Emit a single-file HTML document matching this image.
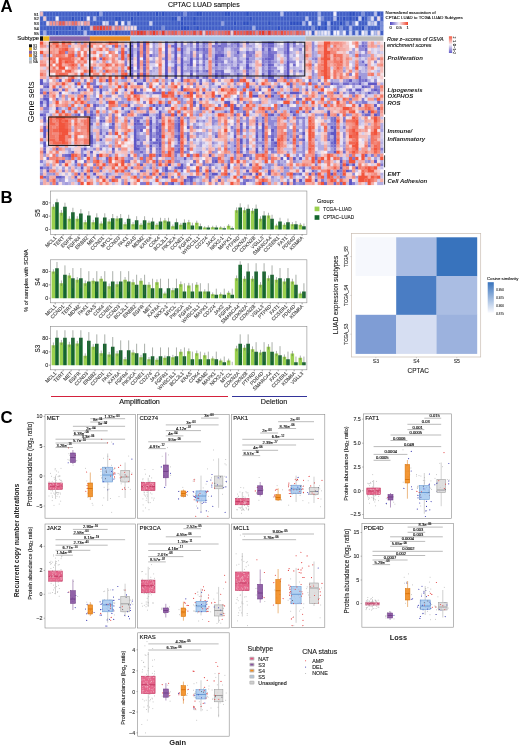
<!DOCTYPE html>
<html><head><meta charset="utf-8"><title>Figure</title>
<style>html,body{margin:0;padding:0;background:#fff}svg{display:block}text{font-family:"Liberation Sans",Arial,sans-serif}</style></head>
<body>
<svg width="520" height="746" viewBox="0 0 520 746">
<rect width="520" height="746" fill="#fff"/>
<text x="0.4" y="12.2" font-size="16.8" font-weight="bold" fill="#000">A</text>
<text x="203.8" y="6.7" font-size="7.0" text-anchor="middle" fill="#111" stroke="#111" stroke-width="0.12">CPTAC LUAD samples</text>
<g transform="translate(40.00 11.60) scale(3.1209 4.7400)">
<path fill="#2e4ec0" stroke="#6f8ad8" stroke-width="0.35" vector-effect="non-scaling-stroke" d="M18 0h1v1h-1zM31 0h1v1h-1zM37 0h1v1h-1zM39 0h1v1h-1zM50 0h1v1h-1zM51 0h1v1h-1zM59 0h1v1h-1zM60 0h1v1h-1zM66 0h1v1h-1zM82 0h1v1h-1zM99 0h1v1h-1zM100 0h1v1h-1zM108 0h1v1h-1zM10 1h1v1h-1zM13 1h1v1h-1zM24 1h1v1h-1zM25 1h1v1h-1zM29 1h1v1h-1zM42 1h1v1h-1zM43 1h1v1h-1zM45 1h1v1h-1zM49 1h1v1h-1zM67 1h1v1h-1zM95 1h1v1h-1zM97 1h1v1h-1zM99 1h1v1h-1zM101 1h1v1h-1zM103 1h1v1h-1zM25 2h1v1h-1zM45 2h1v1h-1zM49 2h1v1h-1zM62 2h1v1h-1zM65 2h1v1h-1zM66 2h1v1h-1zM73 2h1v1h-1zM80 2h1v1h-1zM81 2h1v1h-1zM82 2h1v1h-1zM83 2h1v1h-1zM91 2h1v1h-1zM93 2h1v1h-1zM96 2h1v1h-1zM9 3h1v1h-1zM13 3h1v1h-1zM45 3h1v1h-1zM46 3h1v1h-1zM47 3h1v1h-1zM50 3h1v1h-1zM76 3h1v1h-1zM89 3h1v1h-1zM91 3h1v1h-1zM103 3h1v1h-1zM5 4h1v1h-1zM17 4h1v1h-1zM22 4h1v1h-1zM24 4h1v1h-1z"/>
<path fill="#425ec6" stroke="#6f8ad8" stroke-width="0.35" vector-effect="non-scaling-stroke" d="M1 0h1v1h-1zM2 0h1v1h-1zM3 0h1v1h-1zM4 0h1v1h-1zM5 0h1v1h-1zM6 0h1v1h-1zM7 0h1v1h-1zM8 0h1v1h-1zM9 0h1v1h-1zM10 0h1v1h-1zM11 0h1v1h-1zM12 0h1v1h-1zM13 0h1v1h-1zM14 0h1v1h-1zM15 0h1v1h-1zM16 0h1v1h-1zM17 0h1v1h-1zM20 0h1v1h-1zM21 0h1v1h-1zM22 0h1v1h-1zM23 0h1v1h-1zM24 0h1v1h-1zM25 0h1v1h-1zM26 0h1v1h-1zM27 0h1v1h-1zM28 0h1v1h-1zM29 0h1v1h-1zM30 0h1v1h-1zM32 0h1v1h-1zM33 0h1v1h-1zM34 0h1v1h-1zM35 0h1v1h-1zM36 0h1v1h-1zM38 0h1v1h-1zM40 0h1v1h-1zM41 0h1v1h-1zM42 0h1v1h-1zM43 0h1v1h-1zM44 0h1v1h-1zM45 0h1v1h-1zM47 0h1v1h-1zM48 0h1v1h-1zM49 0h1v1h-1zM52 0h1v1h-1zM53 0h1v1h-1zM54 0h1v1h-1zM55 0h1v1h-1zM56 0h1v1h-1zM57 0h1v1h-1zM58 0h1v1h-1zM61 0h1v1h-1zM62 0h1v1h-1zM63 0h1v1h-1zM64 0h1v1h-1zM65 0h1v1h-1zM67 0h1v1h-1zM68 0h1v1h-1zM69 0h1v1h-1zM70 0h1v1h-1zM71 0h1v1h-1zM72 0h1v1h-1zM73 0h1v1h-1zM74 0h1v1h-1zM75 0h1v1h-1zM76 0h1v1h-1zM78 0h1v1h-1zM79 0h1v1h-1zM80 0h1v1h-1zM81 0h1v1h-1zM83 0h1v1h-1zM84 0h1v1h-1zM85 0h1v1h-1zM86 0h1v1h-1zM87 0h1v1h-1zM88 0h1v1h-1zM90 0h1v1h-1zM91 0h1v1h-1zM92 0h1v1h-1zM93 0h1v1h-1zM95 0h1v1h-1zM96 0h1v1h-1zM97 0h1v1h-1zM98 0h1v1h-1zM101 0h1v1h-1zM102 0h1v1h-1zM104 0h1v1h-1zM105 0h1v1h-1zM106 0h1v1h-1zM109 0h1v1h-1zM0 1h1v1h-1zM2 1h1v1h-1zM3 1h1v1h-1zM4 1h1v1h-1zM6 1h1v1h-1zM7 1h1v1h-1zM8 1h1v1h-1zM9 1h1v1h-1zM11 1h1v1h-1zM12 1h1v1h-1zM14 1h1v1h-1zM16 1h1v1h-1zM18 1h1v1h-1zM19 1h1v1h-1zM20 1h1v1h-1zM21 1h1v1h-1zM22 1h1v1h-1zM23 1h1v1h-1zM26 1h1v1h-1zM27 1h1v1h-1zM28 1h1v1h-1zM30 1h1v1h-1zM31 1h1v1h-1zM32 1h1v1h-1zM33 1h1v1h-1zM34 1h1v1h-1zM35 1h1v1h-1zM36 1h1v1h-1zM37 1h1v1h-1zM38 1h1v1h-1zM39 1h1v1h-1zM40 1h1v1h-1zM41 1h1v1h-1zM46 1h1v1h-1zM47 1h1v1h-1zM48 1h1v1h-1zM50 1h1v1h-1zM51 1h1v1h-1zM52 1h1v1h-1zM53 1h1v1h-1zM54 1h1v1h-1zM55 1h1v1h-1zM56 1h1v1h-1zM57 1h1v1h-1zM58 1h1v1h-1zM59 1h1v1h-1zM60 1h1v1h-1zM61 1h1v1h-1zM62 1h1v1h-1zM63 1h1v1h-1zM64 1h1v1h-1zM65 1h1v1h-1zM66 1h1v1h-1zM68 1h1v1h-1zM69 1h1v1h-1zM70 1h1v1h-1zM71 1h1v1h-1zM72 1h1v1h-1zM73 1h1v1h-1zM74 1h1v1h-1zM75 1h1v1h-1zM76 1h1v1h-1zM77 1h1v1h-1zM78 1h1v1h-1zM79 1h1v1h-1zM80 1h1v1h-1zM81 1h1v1h-1zM82 1h1v1h-1zM83 1h1v1h-1zM84 1h1v1h-1zM86 1h1v1h-1zM87 1h1v1h-1zM88 1h1v1h-1zM91 1h1v1h-1zM92 1h1v1h-1zM93 1h1v1h-1zM96 1h1v1h-1zM98 1h1v1h-1zM100 1h1v1h-1zM104 1h1v1h-1zM107 1h1v1h-1zM109 1h1v1h-1zM0 2h1v1h-1zM1 2h1v1h-1zM16 2h1v1h-1zM17 2h1v1h-1zM18 2h1v1h-1zM19 2h1v1h-1zM22 2h1v1h-1zM23 2h1v1h-1zM27 2h1v1h-1zM29 2h1v1h-1zM30 2h1v1h-1zM31 2h1v1h-1zM32 2h1v1h-1zM33 2h1v1h-1zM34 2h1v1h-1zM36 2h1v1h-1zM37 2h1v1h-1zM38 2h1v1h-1zM39 2h1v1h-1zM40 2h1v1h-1zM41 2h1v1h-1zM42 2h1v1h-1zM43 2h1v1h-1zM44 2h1v1h-1zM46 2h1v1h-1zM47 2h1v1h-1zM48 2h1v1h-1zM50 2h1v1h-1zM51 2h1v1h-1zM52 2h1v1h-1zM53 2h1v1h-1zM54 2h1v1h-1zM55 2h1v1h-1zM56 2h1v1h-1zM57 2h1v1h-1zM59 2h1v1h-1zM60 2h1v1h-1zM61 2h1v1h-1zM63 2h1v1h-1zM64 2h1v1h-1zM67 2h1v1h-1zM68 2h1v1h-1zM69 2h1v1h-1zM70 2h1v1h-1zM71 2h1v1h-1zM72 2h1v1h-1zM74 2h1v1h-1zM75 2h1v1h-1zM76 2h1v1h-1zM77 2h1v1h-1zM78 2h1v1h-1zM79 2h1v1h-1zM85 2h1v1h-1zM87 2h1v1h-1zM88 2h1v1h-1zM90 2h1v1h-1zM94 2h1v1h-1zM95 2h1v1h-1zM97 2h1v1h-1zM99 2h1v1h-1zM102 2h1v1h-1zM103 2h1v1h-1zM104 2h1v1h-1zM108 2h1v1h-1zM0 3h1v1h-1zM1 3h1v1h-1zM2 3h1v1h-1zM3 3h1v1h-1zM4 3h1v1h-1zM5 3h1v1h-1zM6 3h1v1h-1zM7 3h1v1h-1zM8 3h1v1h-1zM10 3h1v1h-1zM11 3h1v1h-1zM14 3h1v1h-1zM15 3h1v1h-1zM31 3h1v1h-1zM32 3h1v1h-1zM33 3h1v1h-1zM34 3h1v1h-1zM35 3h1v1h-1zM36 3h1v1h-1zM37 3h1v1h-1zM38 3h1v1h-1zM40 3h1v1h-1zM41 3h1v1h-1zM42 3h1v1h-1zM43 3h1v1h-1zM44 3h1v1h-1zM48 3h1v1h-1zM49 3h1v1h-1zM51 3h1v1h-1zM52 3h1v1h-1zM53 3h1v1h-1zM54 3h1v1h-1zM55 3h1v1h-1zM56 3h1v1h-1zM57 3h1v1h-1zM58 3h1v1h-1zM59 3h1v1h-1zM60 3h1v1h-1zM61 3h1v1h-1zM62 3h1v1h-1zM63 3h1v1h-1zM64 3h1v1h-1zM65 3h1v1h-1zM66 3h1v1h-1zM67 3h1v1h-1zM69 3h1v1h-1zM70 3h1v1h-1zM71 3h1v1h-1zM72 3h1v1h-1zM73 3h1v1h-1zM74 3h1v1h-1zM75 3h1v1h-1zM77 3h1v1h-1zM78 3h1v1h-1zM79 3h1v1h-1zM80 3h1v1h-1zM81 3h1v1h-1zM82 3h1v1h-1zM83 3h1v1h-1zM84 3h1v1h-1zM85 3h1v1h-1zM86 3h1v1h-1zM88 3h1v1h-1zM90 3h1v1h-1zM93 3h1v1h-1zM94 3h1v1h-1zM95 3h1v1h-1zM97 3h1v1h-1zM98 3h1v1h-1zM100 3h1v1h-1zM101 3h1v1h-1zM102 3h1v1h-1zM105 3h1v1h-1zM106 3h1v1h-1zM107 3h1v1h-1zM108 3h1v1h-1zM0 4h1v1h-1zM2 4h1v1h-1zM3 4h1v1h-1zM4 4h1v1h-1zM6 4h1v1h-1zM7 4h1v1h-1zM8 4h1v1h-1zM9 4h1v1h-1zM10 4h1v1h-1zM11 4h1v1h-1zM12 4h1v1h-1zM13 4h1v1h-1zM15 4h1v1h-1zM16 4h1v1h-1zM18 4h1v1h-1zM19 4h1v1h-1zM20 4h1v1h-1zM21 4h1v1h-1zM23 4h1v1h-1zM25 4h1v1h-1zM26 4h1v1h-1zM27 4h1v1h-1zM28 4h1v1h-1zM87 4h1v1h-1zM93 4h1v1h-1zM98 4h1v1h-1zM100 4h1v1h-1zM102 4h1v1h-1zM105 4h1v1h-1zM109 4h1v1h-1z"/>
<path fill="#7d8fd7" stroke="#6f8ad8" stroke-width="0.35" vector-effect="non-scaling-stroke" d="M46 0h1v1h-1zM103 0h1v1h-1zM90 1h1v1h-1zM105 1h1v1h-1zM98 2h1v1h-1zM100 2h1v1h-1zM109 2h1v1h-1zM12 3h1v1h-1zM39 3h1v1h-1zM87 3h1v1h-1zM96 3h1v1h-1zM104 3h1v1h-1zM109 3h1v1h-1z"/>
<path fill="#919fdd" stroke="#6f8ad8" stroke-width="0.35" vector-effect="non-scaling-stroke" d="M19 0h1v1h-1zM44 1h1v1h-1zM58 2h1v1h-1zM92 3h1v1h-1zM96 4h1v1h-1z"/>
<path fill="#a5afe3" stroke="#6f8ad8" stroke-width="0.35" vector-effect="non-scaling-stroke" d="M89 0h1v1h-1zM84 2h1v1h-1zM68 3h1v1h-1zM1 4h1v1h-1z"/>
<path fill="#b9bfe9" stroke="#6f8ad8" stroke-width="0.35" vector-effect="non-scaling-stroke" d="M77 0h1v1h-1zM107 0h1v1h-1zM17 1h1v1h-1zM85 1h1v1h-1zM94 1h1v1h-1zM28 2h1v1h-1zM92 2h1v1h-1zM106 2h1v1h-1zM99 3h1v1h-1zM14 4h1v1h-1zM107 4h1v1h-1z"/>
<path fill="#ccd0ee" stroke="#6f8ad8" stroke-width="0.35" vector-effect="non-scaling-stroke" d="M89 1h1v1h-1zM102 1h1v1h-1zM21 2h1v1h-1zM35 2h1v1h-1zM89 2h1v1h-1zM105 2h1v1h-1zM89 4h1v1h-1zM99 4h1v1h-1zM101 4h1v1h-1zM104 4h1v1h-1z"/>
<path fill="#e0e0f4" stroke="#6f8ad8" stroke-width="0.35" vector-effect="non-scaling-stroke" d="M106 1h1v1h-1zM20 2h1v1h-1zM86 2h1v1h-1zM107 2h1v1h-1zM85 4h1v1h-1zM90 4h1v1h-1zM92 4h1v1h-1z"/>
<path fill="#f4f0fa" stroke="#6f8ad8" stroke-width="0.35" vector-effect="non-scaling-stroke" d="M94 0h1v1h-1zM5 1h1v1h-1zM15 1h1v1h-1zM26 2h1v1h-1zM101 2h1v1h-1zM91 4h1v1h-1zM94 4h1v1h-1zM95 4h1v1h-1zM97 4h1v1h-1zM103 4h1v1h-1zM106 4h1v1h-1z"/>
<path fill="#f3dee5" stroke="#6f8ad8" stroke-width="0.35" vector-effect="non-scaling-stroke" d="M108 1h1v1h-1zM2 2h1v1h-1zM24 2h1v1h-1zM29 3h1v1h-1zM30 3h1v1h-1zM86 4h1v1h-1zM88 4h1v1h-1zM108 4h1v1h-1z"/>
<path fill="#f2cbcf" stroke="#6f8ad8" stroke-width="0.35" vector-effect="non-scaling-stroke" d="M1 1h1v1h-1zM13 2h1v1h-1zM27 3h1v1h-1zM52 4h1v1h-1zM61 4h1v1h-1z"/>
<path fill="#f2b9ba" stroke="#6f8ad8" stroke-width="0.35" vector-effect="non-scaling-stroke" d="M0 0h1v1h-1zM16 3h1v1h-1zM23 3h1v1h-1zM28 3h1v1h-1z"/>
<path fill="#f1a6a4" stroke="#6f8ad8" stroke-width="0.35" vector-effect="non-scaling-stroke" d="M12 2h1v1h-1zM15 2h1v1h-1zM26 3h1v1h-1z"/>
<path fill="#f0948f" stroke="#6f8ad8" stroke-width="0.35" vector-effect="non-scaling-stroke" d="M3 2h1v1h-1zM4 2h1v1h-1zM5 2h1v1h-1zM8 2h1v1h-1zM9 2h1v1h-1zM14 2h1v1h-1z"/>
<path fill="#ef827a" stroke="#6f8ad8" stroke-width="0.35" vector-effect="non-scaling-stroke" d="M24 3h1v1h-1zM25 3h1v1h-1zM34 4h1v1h-1zM38 4h1v1h-1zM40 4h1v1h-1zM44 4h1v1h-1zM50 4h1v1h-1zM56 4h1v1h-1zM69 4h1v1h-1zM81 4h1v1h-1z"/>
<path fill="#ee6f64" stroke="#6f8ad8" stroke-width="0.35" vector-effect="non-scaling-stroke" d="M10 2h1v1h-1zM11 2h1v1h-1zM41 4h1v1h-1zM47 4h1v1h-1zM48 4h1v1h-1zM55 4h1v1h-1zM57 4h1v1h-1zM58 4h1v1h-1zM72 4h1v1h-1zM74 4h1v1h-1zM76 4h1v1h-1zM79 4h1v1h-1zM80 4h1v1h-1zM83 4h1v1h-1zM84 4h1v1h-1z"/>
<path fill="#ee5d4f" stroke="#6f8ad8" stroke-width="0.35" vector-effect="non-scaling-stroke" d="M6 2h1v1h-1zM7 2h1v1h-1zM21 3h1v1h-1zM22 3h1v1h-1zM29 4h1v1h-1zM30 4h1v1h-1zM35 4h1v1h-1zM37 4h1v1h-1zM42 4h1v1h-1zM43 4h1v1h-1zM45 4h1v1h-1zM46 4h1v1h-1zM53 4h1v1h-1zM54 4h1v1h-1zM59 4h1v1h-1zM63 4h1v1h-1zM64 4h1v1h-1zM65 4h1v1h-1zM68 4h1v1h-1zM75 4h1v1h-1zM78 4h1v1h-1zM82 4h1v1h-1z"/>
<path fill="#ed4a39" stroke="#6f8ad8" stroke-width="0.35" vector-effect="non-scaling-stroke" d="M17 3h1v1h-1zM18 3h1v1h-1zM20 3h1v1h-1zM33 4h1v1h-1zM49 4h1v1h-1zM51 4h1v1h-1zM60 4h1v1h-1zM62 4h1v1h-1zM66 4h1v1h-1zM67 4h1v1h-1zM70 4h1v1h-1zM77 4h1v1h-1z"/>
<path fill="#ec3824" stroke="#6f8ad8" stroke-width="0.35" vector-effect="non-scaling-stroke" d="M19 3h1v1h-1zM31 4h1v1h-1zM32 4h1v1h-1zM36 4h1v1h-1zM39 4h1v1h-1zM71 4h1v1h-1zM73 4h1v1h-1z"/>
</g>
<text x="38.8" y="15.6" font-size="4.2" text-anchor="end" fill="#111" stroke="#111" stroke-width="0.12">S1</text>
<text x="38.8" y="20.3" font-size="4.2" text-anchor="end" fill="#111" stroke="#111" stroke-width="0.12">S2</text>
<text x="38.8" y="25.1" font-size="4.2" text-anchor="end" fill="#111" stroke="#111" stroke-width="0.12">S3</text>
<text x="38.8" y="29.8" font-size="4.2" text-anchor="end" fill="#111" stroke="#111" stroke-width="0.12">S4</text>
<text x="38.8" y="34.6" font-size="4.2" text-anchor="end" fill="#111" stroke="#111" stroke-width="0.12">S5</text>
<rect x="40.00" y="36.3" width="3.12" height="4.50" fill="#111111"/>
<rect x="43.12" y="36.3" width="6.24" height="4.50" fill="#e9b420"/>
<rect x="49.36" y="36.3" width="40.57" height="4.50" fill="#8664a8"/>
<rect x="89.93" y="36.3" width="40.57" height="4.50" fill="#e68a22"/>
<rect x="130.51" y="36.3" width="174.77" height="4.50" fill="#a9c8ea"/>
<rect x="305.28" y="36.3" width="78.02" height="4.50" fill="#b8b8b8"/>
<text x="39.2" y="40.3" font-size="6" text-anchor="end" fill="#111" stroke="#111" stroke-width="0.12">Subtype</text>
<rect x="29" y="44.3" width="3" height="3.2" fill="#111111"/>
<text x="33.0" y="47.1" font-size="3.5" fill="#333" stroke="#333" stroke-width="0.12">S1</text>
<rect x="29" y="47.5" width="3" height="3.2" fill="#e9b420"/>
<text x="33.0" y="50.3" font-size="3.5" fill="#333" stroke="#333" stroke-width="0.12">S2</text>
<rect x="29" y="50.7" width="3" height="3.2" fill="#8664a8"/>
<text x="33.0" y="53.5" font-size="3.5" fill="#333" stroke="#333" stroke-width="0.12">S3</text>
<rect x="29" y="53.9" width="3" height="3.2" fill="#e68a22"/>
<text x="33.0" y="56.7" font-size="3.5" fill="#333" stroke="#333" stroke-width="0.12">S4</text>
<rect x="29" y="57.1" width="3" height="3.2" fill="#a9c8ea"/>
<text x="33.0" y="59.9" font-size="3.5" fill="#333" stroke="#333" stroke-width="0.12">S5</text>
<rect x="29" y="60.3" width="3" height="3.2" fill="#b8b8b8"/>
<text x="33.0" y="63.1" font-size="3.5" fill="#333" stroke="#333" stroke-width="0.12">NA</text>
<g transform="translate(40.00 41.60) scale(3.1209 3.1174)">
<path fill="#5f57c6" stroke="#5f57c6" stroke-width="0.06" d="M31 0h1v1h-1zM33 0h1v1h-1zM40 0h1v1h-1zM43 0h1v1h-1zM50 0h1v1h-1zM56 0h1v1h-1zM73 0h2v1h-2zM79 0h1v1h-1zM29 1h1v1h-1zM31 1h1v1h-1zM33 1h1v1h-1zM40 1h1v1h-1zM43 1h1v1h-1zM79 1h1v1h-1zM33 2h1v1h-1zM40 2h1v1h-1zM43 2h1v1h-1zM45 2h1v1h-1zM50 2h1v1h-1zM73 2h1v1h-1zM79 2h1v1h-1zM31 3h1v1h-1zM40 3h1v1h-1zM43 3h1v1h-1zM45 3h1v1h-1zM63 3h1v1h-1zM79 3h1v1h-1zM29 4h1v1h-1zM31 4h1v1h-1zM33 4h1v1h-1zM40 4h1v1h-1zM43 4h1v1h-1zM56 4h1v1h-1zM58 4h1v1h-1zM31 5h1v1h-1zM33 5h1v1h-1zM40 5h1v1h-1zM43 5h1v1h-1zM45 5h1v1h-1zM48 5h1v1h-1zM56 5h1v1h-1zM66 5h1v1h-1zM73 5h1v1h-1zM31 6h1v1h-1zM40 6h1v1h-1zM45 6h1v1h-1zM48 6h1v1h-1zM79 6h1v1h-1zM31 7h1v1h-1zM33 7h1v1h-1zM40 7h1v1h-1zM43 7h1v1h-1zM45 7h1v1h-1zM48 7h1v1h-1zM56 7h1v1h-1zM66 7h1v1h-1zM73 7h1v1h-1zM79 7h1v1h-1zM29 8h1v1h-1zM31 8h1v1h-1zM40 8h1v1h-1zM43 8h1v1h-1zM45 8h1v1h-1zM66 8h1v1h-1zM79 8h1v1h-1zM40 9h1v1h-1zM43 9h1v1h-1zM45 9h1v1h-1zM73 9h1v1h-1zM79 9h1v1h-1zM29 10h1v1h-1zM31 10h1v1h-1zM33 10h1v1h-1zM40 10h1v1h-1zM43 10h1v1h-1zM45 10h1v1h-1zM48 10h1v1h-1zM56 10h1v1h-1zM66 10h1v1h-1zM73 10h1v1h-1zM79 10h1v1h-1zM27 11h1v1h-1zM31 11h1v1h-1zM40 11h1v1h-1zM43 11h1v1h-1zM45 11h1v1h-1zM50 11h1v1h-1zM56 11h1v1h-1zM73 11h2v1h-2zM79 11h1v1h-1zM0 12h1v1h-1zM6 12h1v1h-1zM10 12h1v1h-1zM21 12h1v1h-1zM33 12h1v1h-1zM45 12h1v1h-1zM68 12h1v1h-1zM75 12h1v1h-1zM99 12h1v1h-1zM0 13h1v1h-1zM11 13h1v1h-1zM28 13h1v1h-1zM31 13h2v1h-2zM51 13h1v1h-1zM93 13h1v1h-1zM102 13h1v1h-1zM105 13h3v1h-3zM2 14h1v1h-1zM13 14h1v1h-1zM18 14h1v1h-1zM45 14h1v1h-1zM73 14h1v1h-1zM76 14h1v1h-1zM103 14h1v1h-1zM4 15h1v1h-1zM12 15h1v1h-1zM19 15h1v1h-1zM27 15h1v1h-1zM30 15h1v1h-1zM45 15h1v1h-1zM68 15h1v1h-1zM70 15h1v1h-1zM74 15h1v1h-1zM101 15h2v1h-2zM107 15h1v1h-1zM2 16h1v1h-1zM6 16h1v1h-1zM19 16h1v1h-1zM30 16h1v1h-1zM47 16h1v1h-1zM52 16h1v1h-1zM80 16h3v1h-3zM95 16h1v1h-1zM105 16h1v1h-1zM14 17h1v1h-1zM44 17h1v1h-1zM57 17h1v1h-1zM68 17h2v1h-2zM72 17h1v1h-1zM74 17h1v1h-1zM1 18h2v1h-2zM18 18h1v1h-1zM51 18h1v1h-1zM63 18h1v1h-1zM77 18h1v1h-1zM82 18h1v1h-1zM0 19h1v1h-1zM2 19h1v1h-1zM49 19h1v1h-1zM59 19h2v1h-2zM2 20h1v1h-1zM17 20h1v1h-1zM28 20h1v1h-1zM36 20h1v1h-1zM40 20h1v1h-1zM51 20h1v1h-1zM60 20h1v1h-1zM77 20h1v1h-1zM102 20h1v1h-1zM107 20h1v1h-1zM5 21h1v1h-1zM30 21h1v1h-1zM37 21h1v1h-1zM51 21h1v1h-1zM62 21h2v1h-2zM108 21h1v1h-1zM14 22h1v1h-1zM28 22h1v1h-1zM38 22h1v1h-1zM55 22h1v1h-1zM80 22h1v1h-1zM92 22h1v1h-1zM103 22h1v1h-1zM105 22h1v1h-1zM0 23h1v1h-1zM12 23h1v1h-1zM14 23h1v1h-1zM16 23h1v1h-1zM33 23h2v1h-2zM38 23h1v1h-1zM43 23h1v1h-1zM65 23h1v1h-1zM74 23h1v1h-1zM81 23h1v1h-1zM92 23h1v1h-1zM107 23h1v1h-1zM1 24h1v1h-1zM38 24h1v1h-1zM44 24h1v1h-1zM1 25h1v1h-1zM19 25h1v1h-1zM31 25h1v1h-1zM35 25h1v1h-1zM23 26h1v1h-1zM30 26h1v1h-1zM35 26h1v1h-1zM44 26h1v1h-1zM64 26h1v1h-1zM69 26h1v1h-1zM71 26h1v1h-1zM1 27h1v1h-1zM37 27h1v1h-1zM44 27h1v1h-1zM47 27h1v1h-1zM71 27h1v1h-1zM93 27h1v1h-1zM1 28h1v1h-1zM30 28h1v1h-1zM32 28h1v1h-1zM35 28h1v1h-1zM38 28h1v1h-1zM44 28h1v1h-1zM71 28h1v1h-1zM74 28h1v1h-1zM94 28h1v1h-1zM1 29h1v1h-1zM30 29h1v1h-1zM84 29h1v1h-1zM93 29h2v1h-2zM1 30h1v1h-1zM16 30h1v1h-1zM30 30h1v1h-1zM38 30h1v1h-1zM44 30h1v1h-1zM62 30h1v1h-1zM69 30h1v1h-1zM71 30h1v1h-1zM94 30h1v1h-1zM16 31h1v1h-1zM19 31h1v1h-1zM30 31h1v1h-1zM35 31h1v1h-1zM37 31h1v1h-1zM44 31h1v1h-1zM64 31h1v1h-1zM74 31h1v1h-1zM84 31h1v1h-1zM94 31h1v1h-1zM1 32h1v1h-1zM16 32h1v1h-1zM30 32h1v1h-1zM38 32h1v1h-1zM64 32h1v1h-1zM75 32h1v1h-1zM94 32h1v1h-1zM1 33h1v1h-1zM30 33h1v1h-1zM35 33h1v1h-1zM38 33h1v1h-1zM71 33h1v1h-1zM14 34h1v1h-1zM23 34h1v1h-1zM30 34h2v1h-2zM66 34h1v1h-1zM69 34h1v1h-1zM1 35h1v1h-1zM16 35h1v1h-1zM69 35h1v1h-1zM94 35h1v1h-1zM9 36h1v1h-1zM14 36h1v1h-1zM18 36h1v1h-1zM38 36h1v1h-1zM54 36h1v1h-1zM65 36h1v1h-1zM46 37h1v1h-1zM77 37h1v1h-1zM79 37h1v1h-1zM81 37h1v1h-1zM83 37h1v1h-1zM7 38h1v1h-1zM11 38h1v1h-1zM56 38h1v1h-1zM96 38h1v1h-1zM107 38h1v1h-1zM32 39h1v1h-1zM41 39h1v1h-1zM45 39h1v1h-1zM60 39h1v1h-1zM67 39h1v1h-1zM98 39h1v1h-1zM100 39h1v1h-1zM0 40h1v1h-1zM13 40h1v1h-1zM40 40h1v1h-1zM44 40h2v1h-2zM60 40h1v1h-1zM96 40h1v1h-1zM101 40h1v1h-1zM2 41h1v1h-1zM16 41h1v1h-1zM32 41h1v1h-1zM40 41h1v1h-1zM54 41h1v1h-1zM66 41h1v1h-1zM73 41h1v1h-1zM84 41h1v1h-1zM95 41h1v1h-1zM98 41h1v1h-1zM12 42h1v1h-1zM14 42h1v1h-1zM17 42h1v1h-1zM38 42h1v1h-1zM55 42h2v1h-2zM67 42h1v1h-1zM69 42h1v1h-1zM73 42h1v1h-1zM86 42h1v1h-1zM93 42h1v1h-1zM5 43h2v1h-2zM11 43h1v1h-1zM40 43h1v1h-1zM47 43h2v1h-2zM64 43h1v1h-1zM46 44h1v1h-1zM48 44h1v1h-1zM57 44h1v1h-1zM81 44h1v1h-1zM83 44h1v1h-1zM88 44h1v1h-1zM99 44h1v1h-1zM28 45h1v1h-1zM42 45h1v1h-1zM71 45h1v1h-1zM79 45h1v1h-1zM99 45h1v1h-1z"/>
<path fill="#7068cb" stroke="#7068cb" stroke-width="0.06" d="M45 0h1v1h-1zM52 0h1v1h-1zM63 0h1v1h-1zM66 0h1v1h-1zM81 0h1v1h-1zM27 1h1v1h-1zM42 1h1v1h-1zM45 1h1v1h-1zM50 1h1v1h-1zM57 1h1v1h-1zM63 1h1v1h-1zM73 1h2v1h-2zM103 1h1v1h-1zM29 2h1v1h-1zM52 2h1v1h-1zM71 2h1v1h-1zM104 2h1v1h-1zM29 3h1v1h-1zM33 3h1v1h-1zM66 3h1v1h-1zM73 3h1v1h-1zM35 4h1v1h-1zM45 4h1v1h-1zM52 4h1v1h-1zM57 4h1v1h-1zM73 4h2v1h-2zM79 4h1v1h-1zM19 5h1v1h-1zM29 5h1v1h-1zM50 5h1v1h-1zM52 5h1v1h-1zM72 5h1v1h-1zM74 5h1v1h-1zM79 5h1v1h-1zM33 6h1v1h-1zM43 6h1v1h-1zM56 6h1v1h-1zM66 6h1v1h-1zM73 6h1v1h-1zM103 6h1v1h-1zM29 7h1v1h-1zM50 7h1v1h-1zM52 7h1v1h-1zM71 7h1v1h-1zM74 7h1v1h-1zM81 7h1v1h-1zM104 7h1v1h-1zM33 8h1v1h-1zM63 8h1v1h-1zM73 8h1v1h-1zM29 9h1v1h-1zM33 9h1v1h-1zM48 9h1v1h-1zM50 9h1v1h-1zM53 9h1v1h-1zM56 9h1v1h-1zM58 9h1v1h-1zM66 9h1v1h-1zM58 10h1v1h-1zM63 10h1v1h-1zM71 10h1v1h-1zM29 11h1v1h-1zM33 11h1v1h-1zM53 11h1v1h-1zM58 11h1v1h-1zM102 11h1v1h-1zM30 12h1v1h-1zM42 12h1v1h-1zM51 12h1v1h-1zM63 12h1v1h-1zM86 12h1v1h-1zM102 12h1v1h-1zM104 12h1v1h-1zM80 13h1v1h-1zM97 13h2v1h-2zM1 14h1v1h-1zM17 14h1v1h-1zM57 14h1v1h-1zM80 14h1v1h-1zM104 14h1v1h-1zM5 15h1v1h-1zM7 15h1v1h-1zM14 15h1v1h-1zM32 15h1v1h-1zM85 15h1v1h-1zM99 15h1v1h-1zM0 16h1v1h-1zM24 16h1v1h-1zM31 16h1v1h-1zM36 16h3v1h-3zM49 16h1v1h-1zM75 16h1v1h-1zM89 16h1v1h-1zM100 16h1v1h-1zM1 17h1v1h-1zM5 18h1v1h-1zM83 18h1v1h-1zM95 18h1v1h-1zM108 19h1v1h-1zM38 20h1v1h-1zM62 20h1v1h-1zM26 21h1v1h-1zM87 21h1v1h-1zM16 22h1v1h-1zM59 22h1v1h-1zM65 22h1v1h-1zM72 22h1v1h-1zM75 22h1v1h-1zM84 22h1v1h-1zM86 22h1v1h-1zM1 23h1v1h-1zM26 23h1v1h-1zM45 23h1v1h-1zM62 23h1v1h-1zM73 23h1v1h-1zM95 23h1v1h-1zM104 23h2v1h-2zM16 24h1v1h-1zM30 24h1v1h-1zM37 24h1v1h-1zM71 24h1v1h-1zM94 24h1v1h-1zM20 25h1v1h-1zM30 25h1v1h-1zM44 25h1v1h-1zM69 25h1v1h-1zM94 25h1v1h-1zM16 26h1v1h-1zM31 26h2v1h-2zM38 26h1v1h-1zM22 27h2v1h-2zM30 27h1v1h-1zM35 27h1v1h-1zM38 27h1v1h-1zM64 27h1v1h-1zM66 27h1v1h-1zM69 27h1v1h-1zM94 27h1v1h-1zM64 28h1v1h-1zM19 29h1v1h-1zM21 29h1v1h-1zM35 29h1v1h-1zM37 29h2v1h-2zM69 29h1v1h-1zM71 29h1v1h-1zM35 30h1v1h-1zM43 30h1v1h-1zM47 30h1v1h-1zM56 30h1v1h-1zM74 30h1v1h-1zM82 30h1v1h-1zM31 31h1v1h-1zM38 31h1v1h-1zM47 31h1v1h-1zM69 31h1v1h-1zM71 31h1v1h-1zM92 31h1v1h-1zM36 32h2v1h-2zM44 32h1v1h-1zM93 32h1v1h-1zM31 33h1v1h-1zM62 33h1v1h-1zM75 33h1v1h-1zM82 33h1v1h-1zM94 33h1v1h-1zM1 34h1v1h-1zM5 34h1v1h-1zM35 34h1v1h-1zM38 34h1v1h-1zM44 34h1v1h-1zM47 34h1v1h-1zM74 34h1v1h-1zM10 35h1v1h-1zM32 35h1v1h-1zM43 35h2v1h-2zM62 35h1v1h-1zM64 35h1v1h-1zM97 35h1v1h-1zM8 36h1v1h-1zM28 36h1v1h-1zM104 36h1v1h-1zM2 37h1v1h-1zM21 37h1v1h-1zM67 37h1v1h-1zM88 37h1v1h-1zM14 38h1v1h-1zM28 38h1v1h-1zM37 38h1v1h-1zM49 38h1v1h-1zM55 38h1v1h-1zM48 39h1v1h-1zM54 39h1v1h-1zM2 40h1v1h-1zM29 40h1v1h-1zM43 40h1v1h-1zM84 40h1v1h-1zM45 41h1v1h-1zM87 41h1v1h-1zM35 42h1v1h-1zM52 42h1v1h-1zM60 42h1v1h-1zM81 42h1v1h-1zM83 42h1v1h-1zM88 42h1v1h-1zM1 43h1v1h-1zM18 43h1v1h-1zM21 43h1v1h-1zM24 43h2v1h-2zM39 43h1v1h-1zM49 43h1v1h-1zM54 43h1v1h-1zM96 43h1v1h-1zM54 44h1v1h-1zM66 44h1v1h-1zM39 45h1v1h-1zM65 45h1v1h-1zM77 45h1v1h-1zM81 45h1v1h-1zM91 45h1v1h-1zM94 45h1v1h-1zM96 45h1v1h-1z"/>
<path fill="#8179d1" stroke="#8179d1" stroke-width="0.06" d="M29 0h1v1h-1zM48 0h1v1h-1zM53 0h1v1h-1zM58 0h2v1h-2zM62 0h1v1h-1zM71 0h2v1h-2zM103 0h1v1h-1zM23 1h1v1h-1zM52 1h1v1h-1zM55 1h2v1h-2zM58 1h2v1h-2zM71 1h1v1h-1zM81 1h1v1h-1zM104 1h1v1h-1zM31 2h1v1h-1zM53 2h1v1h-1zM56 2h1v1h-1zM58 2h1v1h-1zM83 2h1v1h-1zM27 3h1v1h-1zM48 3h1v1h-1zM52 3h2v1h-2zM57 3h1v1h-1zM68 3h1v1h-1zM74 3h2v1h-2zM78 3h1v1h-1zM48 4h1v1h-1zM50 4h1v1h-1zM66 4h2v1h-2zM102 4h1v1h-1zM53 5h1v1h-1zM71 5h1v1h-1zM88 5h1v1h-1zM27 6h1v1h-1zM52 6h1v1h-1zM58 6h1v1h-1zM71 6h1v1h-1zM27 7h1v1h-1zM47 7h1v1h-1zM63 7h1v1h-1zM67 8h1v1h-1zM31 9h1v1h-1zM52 9h1v1h-1zM57 9h1v1h-1zM74 9h1v1h-1zM83 9h1v1h-1zM99 10h1v1h-1zM48 11h1v1h-1zM52 11h1v1h-1zM63 11h1v1h-1zM78 11h1v1h-1zM80 11h1v1h-1zM14 12h1v1h-1zM17 12h1v1h-1zM54 12h1v1h-1zM62 12h1v1h-1zM74 12h1v1h-1zM89 12h1v1h-1zM103 12h1v1h-1zM2 13h1v1h-1zM16 13h2v1h-2zM40 13h1v1h-1zM49 13h1v1h-1zM55 13h1v1h-1zM90 13h1v1h-1zM94 13h2v1h-2zM100 13h1v1h-1zM6 14h1v1h-1zM63 14h1v1h-1zM70 14h1v1h-1zM77 14h1v1h-1zM91 14h1v1h-1zM105 14h1v1h-1zM107 14h1v1h-1zM0 15h1v1h-1zM38 15h1v1h-1zM67 15h1v1h-1zM106 15h1v1h-1zM108 15h1v1h-1zM10 16h1v1h-1zM32 16h1v1h-1zM40 16h1v1h-1zM65 16h1v1h-1zM71 16h1v1h-1zM94 16h1v1h-1zM99 16h1v1h-1zM108 16h1v1h-1zM2 17h1v1h-1zM91 17h1v1h-1zM100 17h1v1h-1zM55 18h1v1h-1zM76 18h1v1h-1zM99 18h1v1h-1zM103 18h1v1h-1zM21 19h1v1h-1zM33 19h1v1h-1zM65 19h1v1h-1zM70 19h1v1h-1zM81 19h1v1h-1zM85 19h1v1h-1zM103 19h2v1h-2zM0 20h1v1h-1zM14 20h1v1h-1zM18 20h1v1h-1zM41 20h1v1h-1zM49 20h1v1h-1zM57 20h1v1h-1zM79 20h1v1h-1zM1 21h2v1h-2zM17 21h1v1h-1zM21 21h1v1h-1zM52 21h1v1h-1zM34 22h1v1h-1zM43 22h1v1h-1zM81 22h1v1h-1zM108 22h1v1h-1zM11 23h1v1h-1zM17 23h1v1h-1zM23 23h1v1h-1zM37 23h1v1h-1zM41 23h1v1h-1zM76 23h1v1h-1zM108 23h1v1h-1zM23 24h1v1h-1zM31 24h2v1h-2zM35 24h1v1h-1zM47 24h1v1h-1zM55 24h1v1h-1zM69 24h1v1h-1zM82 24h1v1h-1zM84 24h1v1h-1zM93 24h1v1h-1zM97 24h1v1h-1zM23 25h1v1h-1zM28 25h1v1h-1zM37 25h1v1h-1zM50 25h1v1h-1zM71 25h1v1h-1zM93 25h1v1h-1zM97 25h1v1h-1zM37 26h1v1h-1zM43 26h1v1h-1zM94 26h1v1h-1zM31 27h3v1h-3zM43 27h1v1h-1zM50 27h1v1h-1zM61 27h1v1h-1zM75 27h1v1h-1zM97 27h1v1h-1zM19 28h1v1h-1zM23 28h1v1h-1zM37 28h1v1h-1zM62 28h1v1h-1zM69 28h1v1h-1zM82 28h1v1h-1zM44 29h1v1h-1zM47 29h1v1h-1zM62 29h1v1h-1zM64 29h1v1h-1zM74 29h1v1h-1zM92 29h1v1h-1zM37 30h1v1h-1zM92 30h1v1h-1zM66 31h1v1h-1zM79 31h1v1h-1zM83 31h1v1h-1zM32 32h1v1h-1zM35 32h1v1h-1zM60 32h1v1h-1zM66 32h1v1h-1zM69 32h1v1h-1zM74 32h1v1h-1zM16 33h1v1h-1zM32 33h1v1h-1zM43 33h2v1h-2zM64 33h1v1h-1zM74 33h1v1h-1zM93 33h1v1h-1zM105 33h1v1h-1zM19 34h1v1h-1zM37 34h1v1h-1zM64 34h1v1h-1zM71 34h1v1h-1zM73 34h1v1h-1zM94 34h1v1h-1zM109 34h1v1h-1zM23 35h1v1h-1zM35 35h1v1h-1zM38 35h1v1h-1zM46 35h1v1h-1zM74 35h1v1h-1zM7 36h1v1h-1zM33 36h1v1h-1zM37 36h1v1h-1zM43 36h1v1h-1zM48 36h1v1h-1zM66 36h1v1h-1zM84 36h1v1h-1zM88 36h1v1h-1zM106 36h1v1h-1zM9 37h1v1h-1zM18 37h1v1h-1zM33 37h1v1h-1zM55 37h2v1h-2zM96 37h1v1h-1zM100 37h1v1h-1zM0 38h1v1h-1zM6 38h1v1h-1zM21 38h1v1h-1zM27 38h1v1h-1zM33 38h1v1h-1zM52 38h1v1h-1zM60 38h1v1h-1zM11 39h1v1h-1zM13 39h1v1h-1zM17 39h1v1h-1zM37 39h1v1h-1zM52 39h1v1h-1zM64 39h1v1h-1zM76 39h1v1h-1zM88 39h1v1h-1zM96 39h1v1h-1zM109 39h1v1h-1zM35 40h1v1h-1zM51 40h1v1h-1zM54 40h1v1h-1zM65 40h1v1h-1zM78 40h1v1h-1zM7 41h1v1h-1zM19 41h1v1h-1zM28 41h1v1h-1zM33 41h1v1h-1zM96 41h1v1h-1zM99 41h1v1h-1zM21 42h1v1h-1zM77 42h1v1h-1zM7 43h1v1h-1zM37 43h1v1h-1zM42 43h1v1h-1zM47 44h1v1h-1zM65 44h1v1h-1zM90 44h1v1h-1zM5 45h1v1h-1zM32 45h2v1h-2zM41 45h1v1h-1zM46 45h1v1h-1zM48 45h1v1h-1zM84 45h1v1h-1zM100 45h1v1h-1z"/>
<path fill="#928ad7" stroke="#928ad7" stroke-width="0.06" d="M36 0h1v1h-1zM61 0h1v1h-1zM78 0h1v1h-1zM87 0h1v1h-1zM104 0h1v1h-1zM48 1h1v1h-1zM61 1h1v1h-1zM72 1h1v1h-1zM78 1h1v1h-1zM87 1h1v1h-1zM102 1h1v1h-1zM51 2h1v1h-1zM57 2h1v1h-1zM62 2h2v1h-2zM78 2h1v1h-1zM87 2h1v1h-1zM102 2h2v1h-2zM8 3h1v1h-1zM25 3h1v1h-1zM50 3h1v1h-1zM56 3h1v1h-1zM58 3h1v1h-1zM67 3h1v1h-1zM71 3h1v1h-1zM104 3h1v1h-1zM36 4h1v1h-1zM62 4h2v1h-2zM71 4h2v1h-2zM27 5h1v1h-1zM57 5h1v1h-1zM63 5h1v1h-1zM87 5h1v1h-1zM108 5h1v1h-1zM29 6h1v1h-1zM50 6h1v1h-1zM57 6h1v1h-1zM61 6h1v1h-1zM63 6h2v1h-2zM67 6h1v1h-1zM72 6h1v1h-1zM74 6h1v1h-1zM80 6h2v1h-2zM107 6h1v1h-1zM58 7h1v1h-1zM78 7h1v1h-1zM87 7h1v1h-1zM42 8h1v1h-1zM48 8h1v1h-1zM50 8h1v1h-1zM52 8h1v1h-1zM56 8h1v1h-1zM61 8h2v1h-2zM71 8h1v1h-1zM74 8h2v1h-2zM20 9h1v1h-1zM27 9h1v1h-1zM62 9h1v1h-1zM71 9h1v1h-1zM76 9h1v1h-1zM78 9h1v1h-1zM81 9h1v1h-1zM87 9h1v1h-1zM50 10h1v1h-1zM57 10h1v1h-1zM59 10h2v1h-2zM74 10h1v1h-1zM78 10h1v1h-1zM87 10h1v1h-1zM66 11h2v1h-2zM71 11h1v1h-1zM81 11h1v1h-1zM12 12h1v1h-1zM98 12h1v1h-1zM107 12h1v1h-1zM1 13h1v1h-1zM34 13h1v1h-1zM38 13h1v1h-1zM47 13h1v1h-1zM62 13h1v1h-1zM69 13h1v1h-1zM85 13h1v1h-1zM87 13h2v1h-2zM101 13h1v1h-1zM49 14h1v1h-1zM65 14h1v1h-1zM67 14h1v1h-1zM92 14h1v1h-1zM95 14h2v1h-2zM108 14h1v1h-1zM13 15h1v1h-1zM17 15h1v1h-1zM21 15h1v1h-1zM54 15h1v1h-1zM87 15h1v1h-1zM95 15h1v1h-1zM12 16h1v1h-1zM34 16h1v1h-1zM74 16h1v1h-1zM78 16h1v1h-1zM83 16h1v1h-1zM90 16h1v1h-1zM97 16h1v1h-1zM102 16h1v1h-1zM106 16h1v1h-1zM6 17h1v1h-1zM21 17h2v1h-2zM56 17h1v1h-1zM63 17h1v1h-1zM76 17h1v1h-1zM82 17h1v1h-1zM104 17h1v1h-1zM14 18h1v1h-1zM45 18h1v1h-1zM78 18h1v1h-1zM107 18h1v1h-1zM25 19h2v1h-2zM28 19h1v1h-1zM40 19h1v1h-1zM45 19h1v1h-1zM63 19h1v1h-1zM98 19h1v1h-1zM101 19h1v1h-1zM35 20h1v1h-1zM37 20h1v1h-1zM29 21h1v1h-1zM34 21h1v1h-1zM74 21h1v1h-1zM80 21h3v1h-3zM89 21h1v1h-1zM1 22h2v1h-2zM27 22h1v1h-1zM51 22h1v1h-1zM63 22h1v1h-1zM68 22h1v1h-1zM19 23h1v1h-1zM21 23h1v1h-1zM27 23h1v1h-1zM32 23h1v1h-1zM40 23h1v1h-1zM50 23h1v1h-1zM82 23h1v1h-1zM88 23h1v1h-1zM90 23h1v1h-1zM98 23h1v1h-1zM103 23h1v1h-1zM17 24h1v1h-1zM19 24h2v1h-2zM64 24h1v1h-1zM66 24h1v1h-1zM73 24h1v1h-1zM79 24h1v1h-1zM83 24h1v1h-1zM16 25h1v1h-1zM43 25h1v1h-1zM47 25h1v1h-1zM52 25h1v1h-1zM55 25h2v1h-2zM66 25h1v1h-1zM73 25h3v1h-3zM82 25h1v1h-1zM84 25h1v1h-1zM19 26h1v1h-1zM47 26h1v1h-1zM55 26h1v1h-1zM62 26h1v1h-1zM66 26h1v1h-1zM73 26h2v1h-2zM82 26h1v1h-1zM84 26h1v1h-1zM92 26h2v1h-2zM74 27h1v1h-1zM84 27h1v1h-1zM31 28h1v1h-1zM43 28h1v1h-1zM75 28h1v1h-1zM84 28h1v1h-1zM16 29h1v1h-1zM23 29h1v1h-1zM50 29h1v1h-1zM56 29h1v1h-1zM75 29h1v1h-1zM79 29h1v1h-1zM97 29h1v1h-1zM20 30h1v1h-1zM31 30h1v1h-1zM36 30h1v1h-1zM73 30h1v1h-1zM75 30h1v1h-1zM80 30h1v1h-1zM84 30h1v1h-1zM97 30h1v1h-1zM33 31h1v1h-1zM62 31h1v1h-1zM93 31h1v1h-1zM55 32h1v1h-1zM62 32h1v1h-1zM70 32h2v1h-2zM84 32h1v1h-1zM97 32h1v1h-1zM105 32h1v1h-1zM20 33h1v1h-1zM37 33h1v1h-1zM46 33h2v1h-2zM66 33h1v1h-1zM69 33h1v1h-1zM84 33h1v1h-1zM13 34h1v1h-1zM17 34h1v1h-1zM33 34h1v1h-1zM43 34h1v1h-1zM60 34h1v1h-1zM84 34h1v1h-1zM97 34h1v1h-1zM13 35h1v1h-1zM30 35h2v1h-2zM37 35h1v1h-1zM47 35h1v1h-1zM51 35h1v1h-1zM55 35h1v1h-1zM66 35h1v1h-1zM75 35h1v1h-1zM84 35h1v1h-1zM13 36h1v1h-1zM22 36h1v1h-1zM31 36h1v1h-1zM34 36h1v1h-1zM51 36h1v1h-1zM59 36h1v1h-1zM62 36h1v1h-1zM67 36h1v1h-1zM78 36h1v1h-1zM82 36h1v1h-1zM99 36h1v1h-1zM108 36h1v1h-1zM28 37h2v1h-2zM37 37h1v1h-1zM62 37h1v1h-1zM64 37h1v1h-1zM73 37h1v1h-1zM39 38h1v1h-1zM43 38h2v1h-2zM76 38h1v1h-1zM81 38h1v1h-1zM98 38h1v1h-1zM105 38h1v1h-1zM6 39h1v1h-1zM53 39h1v1h-1zM55 39h1v1h-1zM58 39h1v1h-1zM73 39h1v1h-1zM77 39h1v1h-1zM1 40h1v1h-1zM16 40h1v1h-1zM18 40h1v1h-1zM39 40h1v1h-1zM46 40h1v1h-1zM64 40h1v1h-1zM71 40h1v1h-1zM73 40h1v1h-1zM79 40h1v1h-1zM83 40h1v1h-1zM86 40h1v1h-1zM13 41h1v1h-1zM39 41h1v1h-1zM41 41h1v1h-1zM48 41h2v1h-2zM51 41h1v1h-1zM57 41h1v1h-1zM88 41h1v1h-1zM0 42h1v1h-1zM4 42h1v1h-1zM31 42h1v1h-1zM40 42h1v1h-1zM54 42h1v1h-1zM65 42h2v1h-2zM82 42h1v1h-1zM96 42h1v1h-1zM100 42h1v1h-1zM2 43h1v1h-1zM33 43h1v1h-1zM44 43h1v1h-1zM50 43h1v1h-1zM55 43h1v1h-1zM59 43h1v1h-1zM68 43h1v1h-1zM71 43h1v1h-1zM74 43h1v1h-1zM84 43h1v1h-1zM97 43h1v1h-1zM2 44h1v1h-1zM6 44h1v1h-1zM22 44h1v1h-1zM67 44h1v1h-1zM79 44h1v1h-1zM12 45h1v1h-1zM26 45h1v1h-1zM35 45h1v1h-1zM51 45h1v1h-1zM56 45h1v1h-1zM64 45h1v1h-1zM83 45h1v1h-1z"/>
<path fill="#a29cdc" stroke="#a29cdc" stroke-width="0.06" d="M11 0h1v1h-1zM13 0h1v1h-1zM9 1h1v1h-1zM25 1h1v1h-1zM36 1h1v1h-1zM46 1h1v1h-1zM53 1h1v1h-1zM60 1h1v1h-1zM62 1h1v1h-1zM64 1h1v1h-1zM66 1h2v1h-2zM84 1h1v1h-1zM22 2h1v1h-1zM28 2h1v1h-1zM36 2h1v1h-1zM46 2h1v1h-1zM48 2h1v1h-1zM61 2h1v1h-1zM68 2h1v1h-1zM74 2h1v1h-1zM100 2h1v1h-1zM36 3h1v1h-1zM42 3h1v1h-1zM62 3h1v1h-1zM72 3h1v1h-1zM87 3h1v1h-1zM99 3h1v1h-1zM11 4h1v1h-1zM15 4h1v1h-1zM37 4h1v1h-1zM46 4h1v1h-1zM53 4h1v1h-1zM59 4h1v1h-1zM68 4h1v1h-1zM78 4h1v1h-1zM87 4h1v1h-1zM103 4h2v1h-2zM25 5h1v1h-1zM39 5h1v1h-1zM55 5h1v1h-1zM58 5h1v1h-1zM60 5h1v1h-1zM67 5h2v1h-2zM35 6h2v1h-2zM42 6h1v1h-1zM46 6h2v1h-2zM55 6h1v1h-1zM60 6h1v1h-1zM75 6h1v1h-1zM83 6h1v1h-1zM88 6h1v1h-1zM102 6h1v1h-1zM59 7h1v1h-1zM61 7h1v1h-1zM72 7h1v1h-1zM102 7h2v1h-2zM12 8h1v1h-1zM17 8h1v1h-1zM36 8h1v1h-1zM47 8h1v1h-1zM55 8h1v1h-1zM58 8h1v1h-1zM78 8h1v1h-1zM100 8h1v1h-1zM104 8h1v1h-1zM35 9h1v1h-1zM42 9h1v1h-1zM46 9h2v1h-2zM63 9h1v1h-1zM68 9h1v1h-1zM72 9h1v1h-1zM97 9h1v1h-1zM102 9h1v1h-1zM14 10h1v1h-1zM51 10h3v1h-3zM55 10h1v1h-1zM62 10h1v1h-1zM64 10h1v1h-1zM75 10h1v1h-1zM81 10h1v1h-1zM102 10h3v1h-3zM18 11h1v1h-1zM36 11h1v1h-1zM47 11h1v1h-1zM49 11h1v1h-1zM55 11h1v1h-1zM57 11h1v1h-1zM59 11h1v1h-1zM61 11h1v1h-1zM68 11h1v1h-1zM72 11h1v1h-1zM87 11h1v1h-1zM103 11h2v1h-2zM2 12h1v1h-1zM11 12h1v1h-1zM26 12h2v1h-2zM40 12h1v1h-1zM57 12h1v1h-1zM73 12h1v1h-1zM79 12h1v1h-1zM93 12h1v1h-1zM97 12h1v1h-1zM101 12h1v1h-1zM14 13h1v1h-1zM54 13h1v1h-1zM65 13h1v1h-1zM76 13h1v1h-1zM99 13h1v1h-1zM11 14h1v1h-1zM20 14h2v1h-2zM26 14h1v1h-1zM34 14h1v1h-1zM37 14h1v1h-1zM54 14h1v1h-1zM60 14h1v1h-1zM72 14h1v1h-1zM85 14h1v1h-1zM87 14h1v1h-1zM89 14h1v1h-1zM100 14h1v1h-1zM20 15h1v1h-1zM41 15h1v1h-1zM64 15h1v1h-1zM80 15h1v1h-1zM98 15h1v1h-1zM11 16h1v1h-1zM17 16h1v1h-1zM68 16h2v1h-2zM104 16h1v1h-1zM8 17h1v1h-1zM17 17h1v1h-1zM25 17h2v1h-2zM65 17h1v1h-1zM75 17h1v1h-1zM84 17h2v1h-2zM0 18h1v1h-1zM8 18h1v1h-1zM20 18h1v1h-1zM24 18h1v1h-1zM26 18h2v1h-2zM40 18h1v1h-1zM44 18h1v1h-1zM49 18h1v1h-1zM74 18h2v1h-2zM15 19h1v1h-1zM17 19h1v1h-1zM46 19h1v1h-1zM69 19h1v1h-1zM102 19h1v1h-1zM109 19h1v1h-1zM20 20h1v1h-1zM25 20h1v1h-1zM45 20h1v1h-1zM64 20h1v1h-1zM76 20h1v1h-1zM82 20h1v1h-1zM89 20h1v1h-1zM92 20h1v1h-1zM6 21h1v1h-1zM16 21h1v1h-1zM32 21h1v1h-1zM39 21h1v1h-1zM64 21h1v1h-1zM76 21h1v1h-1zM90 21h1v1h-1zM9 22h1v1h-1zM21 22h1v1h-1zM50 22h1v1h-1zM60 22h1v1h-1zM64 22h1v1h-1zM3 23h1v1h-1zM10 23h1v1h-1zM15 23h1v1h-1zM20 23h1v1h-1zM31 23h1v1h-1zM89 23h1v1h-1zM99 23h1v1h-1zM43 24h1v1h-1zM46 24h1v1h-1zM60 24h1v1h-1zM62 24h1v1h-1zM75 24h1v1h-1zM17 25h1v1h-1zM33 25h1v1h-1zM62 25h1v1h-1zM64 25h1v1h-1zM79 25h1v1h-1zM1 26h1v1h-1zM22 26h1v1h-1zM49 26h1v1h-1zM19 27h1v1h-1zM49 27h1v1h-1zM62 27h1v1h-1zM79 27h1v1h-1zM2 28h1v1h-1zM53 28h1v1h-1zM66 28h1v1h-1zM70 28h1v1h-1zM79 28h2v1h-2zM89 28h1v1h-1zM93 28h1v1h-1zM109 28h1v1h-1zM26 29h1v1h-1zM31 29h1v1h-1zM36 29h1v1h-1zM43 29h1v1h-1zM46 29h1v1h-1zM51 29h1v1h-1zM55 29h1v1h-1zM60 29h1v1h-1zM80 29h1v1h-1zM83 29h1v1h-1zM28 30h1v1h-1zM32 30h2v1h-2zM50 30h1v1h-1zM79 30h1v1h-1zM17 31h1v1h-1zM32 31h1v1h-1zM49 31h1v1h-1zM82 31h1v1h-1zM88 31h1v1h-1zM105 31h1v1h-1zM17 32h1v1h-1zM47 32h1v1h-1zM51 32h1v1h-1zM80 32h1v1h-1zM82 32h1v1h-1zM19 33h1v1h-1zM21 33h1v1h-1zM23 33h1v1h-1zM33 33h1v1h-1zM51 33h1v1h-1zM97 33h1v1h-1zM9 34h1v1h-1zM25 34h1v1h-1zM32 34h1v1h-1zM56 34h1v1h-1zM62 34h1v1h-1zM93 34h1v1h-1zM9 35h1v1h-1zM33 35h1v1h-1zM56 35h1v1h-1zM71 35h1v1h-1zM79 35h1v1h-1zM82 35h2v1h-2zM92 35h2v1h-2zM1 36h1v1h-1zM5 36h1v1h-1zM16 36h1v1h-1zM73 36h1v1h-1zM8 37h1v1h-1zM13 37h1v1h-1zM43 37h1v1h-1zM48 37h1v1h-1zM65 37h1v1h-1zM107 37h1v1h-1zM32 38h1v1h-1zM78 38h1v1h-1zM88 38h1v1h-1zM90 38h1v1h-1zM104 38h1v1h-1zM1 39h1v1h-1zM21 39h1v1h-1zM35 39h1v1h-1zM46 39h1v1h-1zM49 39h1v1h-1zM62 39h1v1h-1zM72 39h1v1h-1zM74 39h1v1h-1zM99 39h1v1h-1zM3 40h1v1h-1zM7 40h1v1h-1zM9 40h1v1h-1zM11 40h1v1h-1zM33 40h1v1h-1zM37 40h1v1h-1zM56 40h1v1h-1zM0 41h1v1h-1zM27 41h1v1h-1zM42 41h1v1h-1zM78 41h2v1h-2zM2 42h2v1h-2zM22 42h1v1h-1zM29 42h1v1h-1zM78 42h1v1h-1zM95 42h1v1h-1zM31 43h1v1h-1zM60 43h1v1h-1zM78 43h1v1h-1zM88 43h1v1h-1zM101 43h1v1h-1zM7 44h1v1h-1zM14 44h1v1h-1zM26 44h1v1h-1zM68 44h1v1h-1zM0 45h1v1h-1zM3 45h1v1h-1zM8 45h1v1h-1zM44 45h1v1h-1zM72 45h1v1h-1zM82 45h1v1h-1z"/>
<path fill="#b3ade2" stroke="#b3ade2" stroke-width="0.06" d="M37 0h1v1h-1zM47 0h1v1h-1zM57 0h1v1h-1zM64 0h1v1h-1zM68 0h1v1h-1zM75 0h1v1h-1zM80 0h1v1h-1zM83 0h1v1h-1zM15 1h1v1h-1zM47 1h1v1h-1zM51 1h1v1h-1zM68 1h1v1h-1zM75 1h1v1h-1zM82 1h2v1h-2zM88 1h1v1h-1zM108 1h1v1h-1zM23 2h1v1h-1zM30 2h1v1h-1zM37 2h1v1h-1zM49 2h1v1h-1zM66 2h1v1h-1zM72 2h1v1h-1zM76 2h2v1h-2zM81 2h2v1h-2zM37 3h1v1h-1zM46 3h1v1h-1zM51 3h1v1h-1zM61 3h1v1h-1zM64 3h1v1h-1zM80 3h1v1h-1zM83 3h1v1h-1zM88 3h1v1h-1zM100 3h1v1h-1zM102 3h1v1h-1zM0 4h1v1h-1zM2 4h1v1h-1zM20 4h1v1h-1zM27 4h1v1h-1zM47 4h1v1h-1zM55 4h1v1h-1zM61 4h1v1h-1zM64 4h1v1h-1zM75 4h1v1h-1zM81 4h1v1h-1zM88 4h1v1h-1zM100 4h1v1h-1zM105 4h1v1h-1zM36 5h1v1h-1zM42 5h1v1h-1zM47 5h1v1h-1zM49 5h1v1h-1zM51 5h1v1h-1zM59 5h1v1h-1zM61 5h1v1h-1zM75 5h1v1h-1zM80 5h1v1h-1zM102 5h1v1h-1zM104 5h1v1h-1zM18 6h1v1h-1zM21 6h1v1h-1zM68 6h1v1h-1zM78 6h1v1h-1zM44 7h1v1h-1zM46 7h1v1h-1zM51 7h1v1h-1zM57 7h1v1h-1zM60 7h1v1h-1zM76 7h1v1h-1zM37 8h1v1h-1zM57 8h1v1h-1zM59 8h1v1h-1zM65 8h1v1h-1zM68 8h1v1h-1zM72 8h1v1h-1zM81 8h1v1h-1zM87 8h1v1h-1zM97 8h1v1h-1zM25 9h1v1h-1zM30 9h1v1h-1zM36 9h1v1h-1zM49 9h1v1h-1zM51 9h1v1h-1zM61 9h1v1h-1zM67 9h1v1h-1zM75 9h1v1h-1zM84 9h1v1h-1zM104 9h1v1h-1zM108 9h1v1h-1zM23 10h1v1h-1zM28 10h1v1h-1zM35 10h1v1h-1zM67 10h1v1h-1zM72 10h1v1h-1zM88 10h1v1h-1zM64 11h1v1h-1zM76 11h1v1h-1zM82 11h1v1h-1zM88 11h1v1h-1zM5 12h1v1h-1zM23 12h1v1h-1zM31 12h2v1h-2zM35 12h1v1h-1zM53 12h1v1h-1zM84 12h1v1h-1zM87 12h1v1h-1zM94 12h2v1h-2zM100 12h1v1h-1zM105 12h1v1h-1zM13 13h1v1h-1zM19 13h1v1h-1zM45 13h1v1h-1zM58 13h1v1h-1zM82 13h1v1h-1zM96 13h1v1h-1zM103 13h1v1h-1zM109 13h1v1h-1zM62 14h1v1h-1zM64 14h1v1h-1zM68 14h1v1h-1zM71 14h1v1h-1zM75 14h1v1h-1zM82 14h2v1h-2zM1 15h2v1h-2zM44 15h1v1h-1zM76 15h1v1h-1zM83 15h1v1h-1zM88 15h1v1h-1zM103 15h1v1h-1zM26 16h1v1h-1zM35 16h1v1h-1zM46 16h1v1h-1zM79 16h1v1h-1zM107 16h1v1h-1zM35 17h1v1h-1zM43 17h1v1h-1zM45 17h1v1h-1zM80 17h1v1h-1zM16 18h2v1h-2zM38 18h1v1h-1zM54 18h1v1h-1zM62 18h1v1h-1zM70 18h1v1h-1zM88 18h2v1h-2zM92 18h1v1h-1zM1 19h1v1h-1zM16 19h1v1h-1zM27 19h1v1h-1zM66 19h1v1h-1zM68 19h1v1h-1zM74 19h2v1h-2zM83 19h1v1h-1zM91 19h1v1h-1zM93 19h1v1h-1zM9 20h1v1h-1zM19 20h1v1h-1zM30 20h2v1h-2zM39 20h1v1h-1zM78 20h1v1h-1zM8 21h1v1h-1zM10 21h2v1h-2zM13 21h1v1h-1zM33 21h1v1h-1zM47 21h1v1h-1zM79 21h1v1h-1zM6 22h1v1h-1zM17 22h1v1h-1zM39 22h1v1h-1zM45 22h1v1h-1zM58 22h1v1h-1zM73 22h1v1h-1zM77 22h1v1h-1zM102 22h1v1h-1zM36 23h1v1h-1zM49 23h1v1h-1zM55 23h1v1h-1zM70 23h1v1h-1zM75 23h1v1h-1zM80 23h1v1h-1zM53 24h1v1h-1zM70 24h1v1h-1zM74 24h1v1h-1zM90 24h1v1h-1zM92 24h1v1h-1zM38 25h1v1h-1zM51 25h1v1h-1zM65 25h1v1h-1zM70 25h1v1h-1zM91 25h1v1h-1zM33 26h1v1h-1zM36 26h1v1h-1zM56 26h1v1h-1zM60 26h1v1h-1zM75 26h1v1h-1zM80 26h1v1h-1zM97 26h1v1h-1zM105 26h1v1h-1zM109 26h1v1h-1zM16 27h1v1h-1zM18 27h1v1h-1zM36 27h1v1h-1zM51 27h1v1h-1zM73 27h1v1h-1zM82 27h2v1h-2zM85 27h1v1h-1zM89 27h1v1h-1zM109 27h1v1h-1zM10 28h1v1h-1zM16 28h1v1h-1zM20 28h2v1h-2zM55 28h1v1h-1zM61 28h1v1h-1zM92 28h1v1h-1zM33 29h1v1h-1zM52 29h1v1h-1zM66 29h1v1h-1zM70 29h1v1h-1zM82 29h1v1h-1zM52 30h1v1h-1zM64 30h1v1h-1zM66 30h1v1h-1zM70 30h1v1h-1zM93 30h1v1h-1zM1 31h1v1h-1zM23 31h1v1h-1zM26 31h1v1h-1zM43 31h1v1h-1zM97 31h1v1h-1zM0 32h1v1h-1zM19 32h2v1h-2zM23 32h1v1h-1zM31 32h1v1h-1zM40 32h1v1h-1zM56 32h1v1h-1zM61 32h1v1h-1zM79 32h1v1h-1zM89 32h1v1h-1zM109 32h1v1h-1zM14 33h1v1h-1zM36 33h1v1h-1zM50 33h1v1h-1zM55 33h1v1h-1zM58 33h1v1h-1zM61 33h1v1h-1zM70 33h1v1h-1zM73 33h1v1h-1zM89 33h2v1h-2zM92 33h1v1h-1zM8 34h1v1h-1zM53 34h1v1h-1zM61 34h1v1h-1zM75 34h1v1h-1zM82 34h1v1h-1zM89 34h2v1h-2zM40 35h1v1h-1zM50 35h1v1h-1zM61 35h1v1h-1zM70 35h1v1h-1zM88 35h1v1h-1zM109 35h1v1h-1zM76 36h1v1h-1zM89 36h1v1h-1zM95 36h1v1h-1zM11 37h1v1h-1zM16 37h1v1h-1zM27 37h1v1h-1zM31 37h1v1h-1zM40 37h2v1h-2zM44 37h2v1h-2zM60 37h1v1h-1zM68 37h1v1h-1zM16 38h1v1h-1zM20 38h1v1h-1zM46 38h1v1h-1zM59 38h1v1h-1zM66 38h1v1h-1zM71 38h1v1h-1zM77 38h1v1h-1zM82 38h1v1h-1zM109 38h1v1h-1zM3 39h1v1h-1zM34 39h1v1h-1zM78 39h1v1h-1zM20 40h1v1h-1zM66 40h2v1h-2zM72 40h1v1h-1zM81 40h1v1h-1zM9 41h1v1h-1zM62 41h1v1h-1zM76 41h1v1h-1zM93 41h1v1h-1zM10 42h1v1h-1zM25 42h2v1h-2zM72 42h1v1h-1zM91 42h1v1h-1zM109 42h1v1h-1zM51 43h1v1h-1zM58 43h1v1h-1zM81 43h1v1h-1zM91 43h1v1h-1zM94 43h1v1h-1zM5 44h1v1h-1zM11 44h1v1h-1zM49 44h1v1h-1zM51 44h1v1h-1zM59 44h1v1h-1zM74 44h1v1h-1zM76 44h1v1h-1zM91 44h1v1h-1zM7 45h1v1h-1zM9 45h1v1h-1zM18 45h1v1h-1zM47 45h1v1h-1zM50 45h1v1h-1zM52 45h1v1h-1zM108 45h2v1h-2z"/>
<path fill="#c4bee8" stroke="#c4bee8" stroke-width="0.06" d="M27 0h1v1h-1zM30 0h1v1h-1zM41 0h2v1h-2zM51 0h1v1h-1zM60 0h1v1h-1zM67 0h1v1h-1zM2 1h1v1h-1zM21 1h1v1h-1zM37 1h1v1h-1zM76 1h1v1h-1zM80 1h1v1h-1zM25 2h1v1h-1zM35 2h1v1h-1zM42 2h1v1h-1zM55 2h1v1h-1zM59 2h1v1h-1zM69 2h1v1h-1zM28 3h1v1h-1zM30 3h1v1h-1zM44 3h1v1h-1zM55 3h1v1h-1zM59 3h1v1h-1zM65 3h1v1h-1zM76 3h2v1h-2zM81 3h1v1h-1zM108 3h1v1h-1zM25 4h1v1h-1zM83 4h2v1h-2zM0 5h1v1h-1zM15 5h1v1h-1zM64 5h2v1h-2zM70 5h1v1h-1zM78 5h1v1h-1zM83 5h2v1h-2zM86 5h1v1h-1zM53 6h1v1h-1zM62 6h1v1h-1zM76 6h1v1h-1zM87 6h1v1h-1zM100 6h1v1h-1zM53 7h1v1h-1zM55 7h1v1h-1zM62 7h1v1h-1zM64 7h2v1h-2zM67 7h1v1h-1zM83 7h1v1h-1zM100 7h1v1h-1zM18 8h1v1h-1zM25 8h1v1h-1zM46 8h1v1h-1zM49 8h1v1h-1zM53 8h1v1h-1zM80 8h1v1h-1zM82 8h2v1h-2zM103 8h1v1h-1zM37 9h1v1h-1zM55 9h1v1h-1zM64 9h1v1h-1zM82 9h1v1h-1zM100 9h1v1h-1zM103 9h1v1h-1zM15 10h1v1h-1zM25 10h1v1h-1zM36 10h2v1h-2zM42 10h1v1h-1zM46 10h1v1h-1zM61 10h1v1h-1zM68 10h1v1h-1zM76 10h2v1h-2zM84 10h1v1h-1zM2 11h1v1h-1zM35 11h1v1h-1zM51 11h1v1h-1zM60 11h1v1h-1zM62 11h1v1h-1zM70 11h1v1h-1zM75 11h1v1h-1zM83 11h1v1h-1zM107 11h1v1h-1zM25 12h1v1h-1zM38 12h1v1h-1zM41 12h1v1h-1zM44 12h1v1h-1zM50 12h1v1h-1zM69 12h1v1h-1zM88 12h1v1h-1zM21 13h1v1h-1zM23 14h1v1h-1zM40 14h1v1h-1zM52 14h1v1h-1zM55 14h2v1h-2zM79 14h1v1h-1zM97 14h1v1h-1zM37 15h1v1h-1zM40 15h1v1h-1zM53 15h1v1h-1zM56 15h1v1h-1zM63 15h1v1h-1zM66 15h1v1h-1zM75 15h1v1h-1zM9 16h1v1h-1zM22 16h1v1h-1zM33 16h1v1h-1zM98 16h1v1h-1zM101 16h1v1h-1zM103 16h1v1h-1zM11 17h1v1h-1zM16 17h1v1h-1zM20 17h1v1h-1zM38 17h1v1h-1zM89 17h1v1h-1zM6 18h1v1h-1zM46 18h1v1h-1zM52 18h1v1h-1zM60 18h1v1h-1zM73 18h1v1h-1zM3 19h1v1h-1zM10 19h1v1h-1zM18 19h1v1h-1zM29 19h1v1h-1zM37 19h1v1h-1zM50 19h1v1h-1zM56 19h1v1h-1zM80 19h1v1h-1zM12 20h1v1h-1zM44 20h1v1h-1zM69 20h1v1h-1zM73 20h1v1h-1zM83 20h1v1h-1zM86 20h1v1h-1zM23 21h1v1h-1zM28 21h1v1h-1zM59 21h1v1h-1zM68 21h1v1h-1zM77 21h2v1h-2zM107 21h1v1h-1zM0 22h1v1h-1zM19 22h1v1h-1zM26 22h1v1h-1zM30 22h1v1h-1zM40 22h1v1h-1zM49 22h1v1h-1zM56 22h2v1h-2zM62 22h1v1h-1zM79 22h1v1h-1zM83 22h1v1h-1zM91 22h1v1h-1zM35 23h1v1h-1zM53 23h1v1h-1zM67 23h1v1h-1zM83 23h1v1h-1zM85 23h1v1h-1zM0 24h1v1h-1zM28 24h2v1h-2zM50 24h1v1h-1zM56 24h1v1h-1zM85 24h1v1h-1zM88 24h1v1h-1zM102 24h1v1h-1zM109 24h1v1h-1zM2 25h1v1h-1zM32 25h1v1h-1zM53 25h1v1h-1zM102 25h2v1h-2zM28 26h1v1h-1zM50 26h1v1h-1zM52 26h1v1h-1zM58 26h1v1h-1zM79 26h1v1h-1zM83 26h1v1h-1zM102 26h1v1h-1zM10 27h1v1h-1zM20 27h1v1h-1zM25 27h1v1h-1zM52 27h1v1h-1zM55 27h1v1h-1zM57 27h1v1h-1zM92 27h1v1h-1zM96 27h1v1h-1zM40 28h1v1h-1zM96 28h2v1h-2zM17 29h1v1h-1zM20 29h1v1h-1zM28 29h1v1h-1zM49 29h1v1h-1zM53 29h1v1h-1zM19 30h1v1h-1zM46 30h1v1h-1zM53 30h1v1h-1zM55 30h1v1h-1zM88 30h2v1h-2zM105 30h1v1h-1zM20 31h1v1h-1zM51 31h1v1h-1zM60 31h1v1h-1zM65 31h1v1h-1zM70 31h1v1h-1zM75 31h1v1h-1zM80 31h1v1h-1zM89 31h1v1h-1zM109 31h1v1h-1zM22 32h1v1h-1zM43 32h1v1h-1zM49 32h1v1h-1zM52 32h1v1h-1zM65 32h1v1h-1zM73 32h1v1h-1zM85 32h1v1h-1zM92 32h1v1h-1zM2 33h1v1h-1zM6 33h2v1h-2zM11 33h1v1h-1zM60 33h1v1h-1zM83 33h1v1h-1zM85 33h1v1h-1zM88 33h1v1h-1zM96 33h1v1h-1zM109 33h1v1h-1zM3 34h1v1h-1zM15 34h2v1h-2zM21 34h1v1h-1zM50 34h2v1h-2zM67 34h1v1h-1zM78 34h3v1h-3zM83 34h1v1h-1zM85 34h1v1h-1zM102 34h1v1h-1zM21 35h1v1h-1zM28 35h1v1h-1zM23 36h1v1h-1zM32 36h1v1h-1zM44 36h1v1h-1zM60 36h1v1h-1zM105 36h1v1h-1zM19 37h1v1h-1zM47 37h1v1h-1zM59 37h1v1h-1zM82 37h1v1h-1zM98 37h1v1h-1zM104 37h1v1h-1zM1 38h1v1h-1zM45 38h1v1h-1zM83 38h1v1h-1zM94 38h1v1h-1zM101 38h1v1h-1zM10 39h1v1h-1zM30 39h1v1h-1zM56 39h1v1h-1zM5 40h1v1h-1zM12 40h1v1h-1zM28 40h1v1h-1zM34 40h1v1h-1zM42 40h1v1h-1zM74 40h1v1h-1zM85 40h1v1h-1zM109 40h1v1h-1zM5 41h1v1h-1zM12 41h1v1h-1zM23 41h1v1h-1zM35 41h1v1h-1zM44 41h1v1h-1zM64 41h1v1h-1zM71 41h1v1h-1zM101 41h1v1h-1zM8 42h1v1h-1zM16 42h1v1h-1zM20 42h1v1h-1zM23 42h1v1h-1zM45 42h1v1h-1zM57 42h1v1h-1zM64 42h1v1h-1zM9 43h1v1h-1zM14 43h1v1h-1zM16 43h1v1h-1zM63 43h1v1h-1zM75 43h1v1h-1zM109 43h1v1h-1zM0 44h1v1h-1zM9 44h2v1h-2zM75 44h1v1h-1zM84 44h1v1h-1zM23 45h1v1h-1zM43 45h1v1h-1zM68 45h1v1h-1zM74 45h1v1h-1zM98 45h1v1h-1zM101 45h1v1h-1zM104 45h1v1h-1z"/>
<path fill="#d5cfee" stroke="#d5cfee" stroke-width="0.06" d="M44 0h1v1h-1zM70 0h1v1h-1zM76 0h1v1h-1zM84 0h1v1h-1zM102 0h1v1h-1zM107 0h1v1h-1zM44 1h1v1h-1zM49 1h1v1h-1zM77 1h1v1h-1zM93 1h1v1h-1zM12 2h1v1h-1zM16 2h1v1h-1zM27 2h1v1h-1zM47 2h1v1h-1zM60 2h1v1h-1zM67 2h1v1h-1zM88 2h1v1h-1zM106 2h1v1h-1zM108 2h1v1h-1zM11 3h1v1h-1zM20 3h1v1h-1zM39 3h1v1h-1zM47 3h1v1h-1zM84 3h1v1h-1zM106 3h1v1h-1zM109 3h1v1h-1zM3 4h1v1h-1zM30 4h1v1h-1zM42 4h1v1h-1zM80 4h1v1h-1zM89 4h1v1h-1zM99 4h1v1h-1zM107 4h1v1h-1zM46 5h1v1h-1zM62 5h1v1h-1zM69 5h1v1h-1zM81 5h1v1h-1zM100 5h1v1h-1zM103 5h1v1h-1zM19 6h1v1h-1zM41 6h1v1h-1zM65 6h1v1h-1zM84 6h1v1h-1zM99 6h1v1h-1zM104 6h1v1h-1zM12 7h1v1h-1zM35 7h2v1h-2zM42 7h1v1h-1zM68 7h1v1h-1zM75 7h1v1h-1zM77 7h1v1h-1zM107 7h1v1h-1zM1 8h1v1h-1zM15 8h1v1h-1zM27 8h1v1h-1zM51 8h1v1h-1zM60 8h1v1h-1zM93 8h1v1h-1zM102 8h1v1h-1zM108 8h1v1h-1zM2 9h1v1h-1zM18 9h1v1h-1zM107 9h1v1h-1zM21 10h1v1h-1zM39 10h1v1h-1zM41 10h1v1h-1zM47 10h1v1h-1zM83 10h1v1h-1zM107 10h1v1h-1zM7 11h1v1h-1zM37 11h1v1h-1zM39 11h1v1h-1zM42 11h1v1h-1zM46 11h1v1h-1zM90 11h1v1h-1zM106 11h1v1h-1zM18 12h1v1h-1zM29 12h1v1h-1zM67 12h1v1h-1zM9 13h1v1h-1zM25 13h1v1h-1zM59 13h1v1h-1zM78 13h1v1h-1zM104 13h1v1h-1zM5 14h1v1h-1zM94 14h1v1h-1zM101 14h2v1h-2zM9 15h1v1h-1zM18 15h1v1h-1zM26 15h1v1h-1zM51 15h1v1h-1zM78 15h1v1h-1zM96 15h1v1h-1zM100 15h1v1h-1zM105 15h1v1h-1zM28 16h1v1h-1zM43 16h1v1h-1zM77 16h1v1h-1zM61 17h1v1h-1zM66 17h1v1h-1zM105 17h2v1h-2zM39 18h1v1h-1zM41 18h1v1h-1zM87 18h1v1h-1zM96 18h1v1h-1zM20 19h1v1h-1zM42 19h1v1h-1zM55 19h1v1h-1zM57 19h1v1h-1zM73 19h1v1h-1zM76 19h1v1h-1zM86 19h1v1h-1zM100 19h1v1h-1zM105 19h3v1h-3zM1 20h1v1h-1zM34 20h1v1h-1zM65 20h1v1h-1zM71 20h2v1h-2zM3 21h1v1h-1zM7 21h1v1h-1zM19 21h1v1h-1zM24 21h1v1h-1zM27 21h1v1h-1zM38 21h1v1h-1zM44 21h1v1h-1zM55 21h1v1h-1zM60 21h1v1h-1zM69 21h1v1h-1zM91 21h1v1h-1zM8 22h1v1h-1zM37 22h1v1h-1zM53 22h1v1h-1zM87 22h1v1h-1zM2 23h1v1h-1zM5 23h1v1h-1zM52 23h1v1h-1zM54 23h1v1h-1zM68 23h1v1h-1zM25 24h1v1h-1zM33 24h1v1h-1zM36 24h1v1h-1zM51 24h1v1h-1zM80 24h1v1h-1zM26 25h1v1h-1zM36 25h1v1h-1zM46 25h1v1h-1zM78 25h1v1h-1zM83 25h1v1h-1zM85 25h1v1h-1zM92 25h1v1h-1zM17 26h1v1h-1zM20 26h1v1h-1zM25 26h1v1h-1zM85 26h1v1h-1zM89 26h1v1h-1zM96 26h1v1h-1zM103 26h1v1h-1zM17 27h1v1h-1zM21 27h1v1h-1zM29 27h1v1h-1zM53 27h1v1h-1zM56 27h1v1h-1zM65 27h1v1h-1zM67 27h1v1h-1zM36 28h1v1h-1zM47 28h1v1h-1zM56 28h1v1h-1zM88 28h1v1h-1zM90 28h1v1h-1zM29 29h1v1h-1zM32 29h1v1h-1zM67 29h1v1h-1zM89 29h1v1h-1zM103 29h1v1h-1zM109 29h1v1h-1zM10 30h1v1h-1zM17 30h1v1h-1zM23 30h1v1h-1zM40 30h1v1h-1zM51 30h1v1h-1zM60 30h1v1h-1zM109 30h1v1h-1zM55 31h1v1h-1zM73 31h1v1h-1zM103 31h1v1h-1zM10 32h1v1h-1zM18 32h1v1h-1zM34 32h1v1h-1zM50 32h1v1h-1zM58 32h1v1h-1zM88 32h1v1h-1zM90 32h1v1h-1zM13 33h1v1h-1zM17 33h1v1h-1zM53 33h1v1h-1zM56 33h1v1h-1zM79 33h1v1h-1zM10 34h1v1h-1zM46 34h1v1h-1zM49 34h1v1h-1zM70 34h1v1h-1zM92 34h1v1h-1zM105 34h1v1h-1zM8 35h1v1h-1zM14 35h1v1h-1zM18 35h1v1h-1zM49 35h1v1h-1zM52 35h1v1h-1zM65 35h1v1h-1zM73 35h1v1h-1zM80 35h1v1h-1zM89 35h1v1h-1zM26 36h1v1h-1zM56 36h1v1h-1zM68 36h1v1h-1zM81 36h1v1h-1zM97 36h1v1h-1zM101 36h2v1h-2zM20 37h1v1h-1zM36 37h1v1h-1zM51 37h1v1h-1zM84 37h1v1h-1zM86 37h1v1h-1zM97 37h1v1h-1zM108 37h1v1h-1zM47 38h1v1h-1zM67 38h1v1h-1zM75 38h1v1h-1zM0 39h1v1h-1zM43 39h1v1h-1zM57 39h1v1h-1zM71 39h1v1h-1zM101 39h1v1h-1zM106 39h1v1h-1zM14 40h1v1h-1zM38 40h1v1h-1zM57 40h1v1h-1zM82 40h1v1h-1zM90 40h1v1h-1zM108 40h1v1h-1zM21 41h1v1h-1zM60 41h1v1h-1zM70 41h1v1h-1zM86 41h1v1h-1zM89 41h1v1h-1zM6 42h1v1h-1zM30 42h1v1h-1zM46 42h2v1h-2zM61 42h1v1h-1zM17 43h1v1h-1zM28 43h1v1h-1zM52 43h1v1h-1zM76 43h1v1h-1zM79 43h1v1h-1zM83 43h1v1h-1zM28 44h1v1h-1zM36 44h1v1h-1zM38 44h1v1h-1zM40 44h1v1h-1zM50 44h1v1h-1zM95 44h1v1h-1zM101 44h1v1h-1zM108 44h1v1h-1zM11 45h1v1h-1zM60 45h1v1h-1z"/>
<path fill="#e6e0f3" stroke="#e6e0f3" stroke-width="0.06" d="M35 0h1v1h-1zM39 0h1v1h-1zM55 0h1v1h-1zM82 0h1v1h-1zM88 0h1v1h-1zM22 1h1v1h-1zM28 1h1v1h-1zM69 1h1v1h-1zM65 2h1v1h-1zM70 2h1v1h-1zM84 2h1v1h-1zM107 2h1v1h-1zM15 3h1v1h-1zM18 3h1v1h-1zM98 3h1v1h-1zM103 3h1v1h-1zM107 3h1v1h-1zM16 4h1v1h-1zM51 4h1v1h-1zM77 4h1v1h-1zM35 5h1v1h-1zM76 5h1v1h-1zM2 6h1v1h-1zM15 6h1v1h-1zM22 6h1v1h-1zM51 6h1v1h-1zM59 6h1v1h-1zM14 7h2v1h-2zM28 7h1v1h-1zM39 7h1v1h-1zM41 7h1v1h-1zM80 7h1v1h-1zM84 7h1v1h-1zM106 7h1v1h-1zM19 8h1v1h-1zM35 8h1v1h-1zM39 8h1v1h-1zM64 8h1v1h-1zM70 8h1v1h-1zM76 8h1v1h-1zM84 8h1v1h-1zM39 9h1v1h-1zM59 9h2v1h-2zM70 9h1v1h-1zM106 9h1v1h-1zM2 10h1v1h-1zM12 10h1v1h-1zM19 10h1v1h-1zM49 10h1v1h-1zM70 10h1v1h-1zM80 10h1v1h-1zM85 10h1v1h-1zM12 11h1v1h-1zM23 11h1v1h-1zM84 11h1v1h-1zM105 11h1v1h-1zM108 11h1v1h-1zM1 12h1v1h-1zM43 12h1v1h-1zM52 12h1v1h-1zM70 12h1v1h-1zM92 12h1v1h-1zM106 12h1v1h-1zM18 13h1v1h-1zM20 13h1v1h-1zM30 13h1v1h-1zM33 13h1v1h-1zM41 13h1v1h-1zM43 13h1v1h-1zM56 13h1v1h-1zM74 13h1v1h-1zM77 13h1v1h-1zM8 14h1v1h-1zM10 14h1v1h-1zM36 14h1v1h-1zM84 14h1v1h-1zM11 15h1v1h-1zM22 15h1v1h-1zM25 15h1v1h-1zM93 15h1v1h-1zM20 16h1v1h-1zM86 16h1v1h-1zM5 17h1v1h-1zM34 17h1v1h-1zM97 17h2v1h-2zM9 18h1v1h-1zM11 18h1v1h-1zM23 18h1v1h-1zM32 18h1v1h-1zM47 18h1v1h-1zM57 18h1v1h-1zM59 18h1v1h-1zM61 18h1v1h-1zM81 18h1v1h-1zM104 18h1v1h-1zM32 19h1v1h-1zM43 19h1v1h-1zM54 19h1v1h-1zM77 19h1v1h-1zM88 19h1v1h-1zM21 20h1v1h-1zM47 20h1v1h-1zM56 20h1v1h-1zM98 20h2v1h-2zM20 21h1v1h-1zM25 21h1v1h-1zM36 21h1v1h-1zM88 21h1v1h-1zM3 22h2v1h-2zM12 22h1v1h-1zM22 22h1v1h-1zM67 22h1v1h-1zM84 23h1v1h-1zM96 23h1v1h-1zM26 24h1v1h-1zM52 24h1v1h-1zM10 25h1v1h-1zM48 26h1v1h-1zM51 26h1v1h-1zM54 27h1v1h-1zM60 27h1v1h-1zM70 27h1v1h-1zM90 27h1v1h-1zM103 27h1v1h-1zM50 28h1v1h-1zM83 28h1v1h-1zM0 29h1v1h-1zM61 29h1v1h-1zM65 29h1v1h-1zM88 29h1v1h-1zM21 30h1v1h-1zM24 30h1v1h-1zM26 30h1v1h-1zM61 30h1v1h-1zM68 30h1v1h-1zM85 30h1v1h-1zM36 31h1v1h-1zM40 31h1v1h-1zM48 31h1v1h-1zM50 31h1v1h-1zM85 31h1v1h-1zM96 31h1v1h-1zM53 32h1v1h-1zM57 32h1v1h-1zM68 32h1v1h-1zM96 32h1v1h-1zM103 32h1v1h-1zM9 33h2v1h-2zM40 33h1v1h-1zM42 33h1v1h-1zM52 33h1v1h-1zM67 33h1v1h-1zM80 33h1v1h-1zM20 34h1v1h-1zM22 34h1v1h-1zM28 34h1v1h-1zM58 34h1v1h-1zM65 34h1v1h-1zM88 34h1v1h-1zM6 35h1v1h-1zM25 36h1v1h-1zM80 36h1v1h-1zM83 36h1v1h-1zM14 37h1v1h-1zM93 37h1v1h-1zM106 37h1v1h-1zM10 38h1v1h-1zM31 38h1v1h-1zM69 38h1v1h-1zM73 38h1v1h-1zM66 39h1v1h-1zM81 39h1v1h-1zM90 39h1v1h-1zM93 39h1v1h-1zM6 40h1v1h-1zM24 40h1v1h-1zM48 40h1v1h-1zM61 40h1v1h-1zM11 41h1v1h-1zM30 41h1v1h-1zM38 41h1v1h-1zM83 41h1v1h-1zM43 42h1v1h-1zM62 42h1v1h-1zM84 42h1v1h-1zM73 43h1v1h-1zM82 43h1v1h-1zM17 44h1v1h-1zM32 44h1v1h-1zM35 44h1v1h-1zM39 44h1v1h-1zM64 44h1v1h-1zM78 44h1v1h-1zM17 45h1v1h-1zM25 45h1v1h-1zM36 45h2v1h-2zM59 45h1v1h-1zM67 45h1v1h-1zM76 45h1v1h-1zM88 45h1v1h-1z"/>
<path fill="#f7f1f9" stroke="#f7f1f9" stroke-width="0.06" d="M69 0h1v1h-1zM77 0h1v1h-1zM99 0h1v1h-1zM19 1h1v1h-1zM35 1h1v1h-1zM99 1h2v1h-2zM11 2h1v1h-1zM39 2h1v1h-1zM75 2h1v1h-1zM80 2h1v1h-1zM13 3h1v1h-1zM21 3h1v1h-1zM24 3h1v1h-1zM35 3h1v1h-1zM18 4h1v1h-1zM22 4h1v1h-1zM82 4h1v1h-1zM5 5h1v1h-1zM32 5h1v1h-1zM16 6h1v1h-1zM49 6h1v1h-1zM82 6h1v1h-1zM4 7h1v1h-1zM37 7h1v1h-1zM82 7h1v1h-1zM99 7h1v1h-1zM8 8h1v1h-1zM30 8h1v1h-1zM77 8h1v1h-1zM12 9h1v1h-1zM77 9h1v1h-1zM88 9h1v1h-1zM4 10h1v1h-1zM100 10h1v1h-1zM3 12h1v1h-1zM85 12h1v1h-1zM108 12h1v1h-1zM37 13h1v1h-1zM14 14h1v1h-1zM48 14h1v1h-1zM93 14h1v1h-1zM99 14h1v1h-1zM34 15h2v1h-2zM91 15h1v1h-1zM7 16h1v1h-1zM56 16h1v1h-1zM63 16h1v1h-1zM70 16h1v1h-1zM18 17h1v1h-1zM49 17h1v1h-1zM62 17h1v1h-1zM3 18h1v1h-1zM68 18h2v1h-2zM74 20h1v1h-1zM81 20h1v1h-1zM13 23h1v1h-1zM25 23h1v1h-1zM47 23h1v1h-1zM18 24h1v1h-1zM105 24h1v1h-1zM61 25h1v1h-1zM88 25h1v1h-1zM0 26h1v1h-1zM21 26h1v1h-1zM46 27h1v1h-1zM80 27h1v1h-1zM33 28h1v1h-1zM51 28h1v1h-1zM105 28h1v1h-1zM73 29h1v1h-1zM13 30h1v1h-1zM29 31h1v1h-1zM102 31h1v1h-1zM2 32h1v1h-1zM25 32h1v1h-1zM28 32h1v1h-1zM0 33h1v1h-1zM15 33h1v1h-1zM27 33h1v1h-1zM48 35h1v1h-1zM57 35h1v1h-1zM91 35h1v1h-1zM3 36h1v1h-1zM1 37h1v1h-1zM52 37h1v1h-1zM78 37h1v1h-1zM13 38h1v1h-1zM23 38h1v1h-1zM51 38h1v1h-1zM79 38h1v1h-1zM47 39h1v1h-1zM61 39h1v1h-1zM49 40h1v1h-1zM99 40h1v1h-1zM46 41h1v1h-1zM109 41h1v1h-1zM101 42h1v1h-1zM8 44h1v1h-1zM14 45h1v1h-1zM31 45h1v1h-1zM107 45h1v1h-1z"/>
<path fill="#f6e0e4" stroke="#f6e0e4" stroke-width="0.06" d="M46 0h1v1h-1zM49 0h1v1h-1zM109 0h1v1h-1zM17 1h1v1h-1zM30 1h1v1h-1zM39 1h1v1h-1zM70 1h1v1h-1zM1 2h1v1h-1zM64 2h1v1h-1zM99 2h1v1h-1zM101 2h1v1h-1zM105 2h1v1h-1zM13 4h1v1h-1zM44 4h1v1h-1zM65 4h1v1h-1zM108 4h1v1h-1zM37 5h1v1h-1zM5 6h1v1h-1zM25 6h1v1h-1zM30 6h1v1h-1zM39 6h1v1h-1zM70 6h1v1h-1zM106 6h1v1h-1zM108 6h1v1h-1zM2 7h1v1h-1zM49 7h1v1h-1zM88 7h1v1h-1zM99 8h1v1h-1zM107 8h1v1h-1zM7 9h1v1h-1zM28 9h1v1h-1zM93 9h1v1h-1zM3 10h1v1h-1zM30 10h1v1h-1zM44 10h1v1h-1zM82 10h1v1h-1zM97 10h1v1h-1zM109 10h1v1h-1zM8 11h1v1h-1zM44 11h1v1h-1zM93 11h1v1h-1zM7 12h1v1h-1zM15 12h1v1h-1zM58 12h1v1h-1zM90 12h1v1h-1zM109 12h1v1h-1zM36 13h1v1h-1zM57 13h1v1h-1zM64 13h1v1h-1zM0 14h1v1h-1zM12 14h1v1h-1zM33 14h1v1h-1zM44 14h1v1h-1zM46 14h1v1h-1zM78 14h1v1h-1zM86 14h1v1h-1zM98 14h1v1h-1zM15 15h1v1h-1zM39 15h1v1h-1zM71 15h2v1h-2zM97 15h1v1h-1zM104 15h1v1h-1zM8 16h1v1h-1zM18 16h1v1h-1zM25 16h1v1h-1zM66 16h1v1h-1zM91 16h1v1h-1zM23 17h1v1h-1zM36 17h2v1h-2zM78 17h1v1h-1zM83 17h1v1h-1zM103 17h1v1h-1zM91 18h1v1h-1zM6 19h1v1h-1zM30 19h1v1h-1zM34 19h1v1h-1zM62 19h1v1h-1zM94 19h1v1h-1zM4 20h1v1h-1zM11 20h1v1h-1zM29 20h1v1h-1zM33 20h1v1h-1zM42 20h1v1h-1zM50 20h1v1h-1zM80 20h1v1h-1zM108 20h1v1h-1zM4 21h1v1h-1zM18 21h1v1h-1zM40 21h1v1h-1zM49 21h1v1h-1zM101 22h1v1h-1zM2 24h1v1h-1zM21 24h1v1h-1zM67 24h1v1h-1zM89 24h1v1h-1zM98 24h1v1h-1zM60 25h1v1h-1zM89 25h1v1h-1zM61 26h1v1h-1zM65 26h1v1h-1zM88 26h1v1h-1zM28 27h1v1h-1zM34 27h1v1h-1zM40 27h1v1h-1zM68 27h1v1h-1zM88 27h1v1h-1zM102 27h1v1h-1zM25 28h1v1h-1zM46 28h1v1h-1zM58 28h1v1h-1zM60 28h1v1h-1zM73 28h1v1h-1zM78 28h1v1h-1zM108 28h1v1h-1zM25 29h1v1h-1zM54 29h1v1h-1zM85 29h1v1h-1zM96 29h1v1h-1zM105 29h1v1h-1zM0 30h1v1h-1zM12 30h1v1h-1zM22 30h1v1h-1zM29 30h1v1h-1zM34 30h1v1h-1zM96 30h1v1h-1zM10 31h1v1h-1zM34 31h1v1h-1zM52 31h1v1h-1zM67 31h1v1h-1zM21 32h1v1h-1zM27 32h1v1h-1zM29 32h1v1h-1zM42 32h1v1h-1zM102 32h1v1h-1zM18 33h1v1h-1zM26 33h1v1h-1zM102 33h2v1h-2zM2 34h1v1h-1zM24 34h1v1h-1zM34 34h1v1h-1zM36 34h1v1h-1zM96 34h1v1h-1zM2 35h1v1h-1zM17 35h1v1h-1zM19 35h1v1h-1zM36 35h1v1h-1zM53 35h1v1h-1zM85 35h1v1h-1zM90 35h1v1h-1zM17 36h1v1h-1zM29 36h1v1h-1zM46 36h1v1h-1zM75 36h1v1h-1zM77 36h1v1h-1zM38 37h1v1h-1zM102 37h1v1h-1zM3 38h1v1h-1zM12 38h1v1h-1zM48 38h1v1h-1zM95 38h1v1h-1zM108 38h1v1h-1zM5 39h1v1h-1zM15 39h2v1h-2zM25 39h1v1h-1zM91 39h1v1h-1zM103 39h1v1h-1zM105 39h1v1h-1zM8 40h1v1h-1zM41 40h1v1h-1zM52 40h1v1h-1zM55 40h1v1h-1zM58 41h1v1h-1zM85 41h1v1h-1zM102 41h1v1h-1zM7 42h1v1h-1zM9 42h1v1h-1zM49 42h1v1h-1zM71 42h1v1h-1zM8 43h1v1h-1zM36 43h1v1h-1zM43 43h1v1h-1zM85 43h1v1h-1zM19 44h1v1h-1zM25 44h1v1h-1zM29 44h1v1h-1zM62 44h1v1h-1zM80 44h1v1h-1zM100 44h1v1h-1zM6 45h1v1h-1zM53 45h1v1h-1zM66 45h1v1h-1z"/>
<path fill="#f6cecf" stroke="#f6cecf" stroke-width="0.06" d="M2 0h1v1h-1zM10 0h1v1h-1zM28 0h1v1h-1zM65 0h1v1h-1zM98 0h1v1h-1zM11 1h1v1h-1zM65 1h1v1h-1zM0 2h1v1h-1zM2 2h1v1h-1zM14 2h1v1h-1zM20 2h1v1h-1zM24 2h1v1h-1zM41 2h1v1h-1zM109 2h1v1h-1zM19 3h1v1h-1zM41 3h1v1h-1zM49 3h1v1h-1zM60 3h1v1h-1zM69 3h2v1h-2zM82 3h1v1h-1zM95 3h2v1h-2zM17 4h1v1h-1zM39 4h1v1h-1zM60 4h1v1h-1zM70 4h1v1h-1zM76 4h1v1h-1zM109 4h1v1h-1zM12 5h1v1h-1zM18 5h1v1h-1zM24 5h1v1h-1zM30 5h1v1h-1zM82 5h1v1h-1zM11 6h1v1h-1zM26 6h1v1h-1zM28 6h1v1h-1zM44 6h1v1h-1zM85 6h1v1h-1zM18 7h1v1h-1zM23 7h1v1h-1zM30 7h1v1h-1zM0 8h1v1h-1zM5 8h1v1h-1zM22 8h1v1h-1zM44 8h1v1h-1zM11 9h1v1h-1zM13 9h1v1h-1zM44 9h1v1h-1zM80 9h1v1h-1zM85 9h1v1h-1zM98 9h1v1h-1zM9 10h1v1h-1zM16 10h1v1h-1zM65 10h1v1h-1zM86 10h1v1h-1zM93 10h1v1h-1zM15 11h1v1h-1zM25 11h1v1h-1zM30 11h1v1h-1zM41 11h1v1h-1zM85 11h1v1h-1zM99 11h1v1h-1zM109 11h1v1h-1zM13 12h1v1h-1zM56 12h1v1h-1zM66 12h1v1h-1zM71 12h1v1h-1zM81 12h1v1h-1zM96 12h1v1h-1zM10 13h1v1h-1zM23 13h1v1h-1zM52 13h1v1h-1zM61 13h1v1h-1zM70 13h1v1h-1zM89 13h1v1h-1zM3 14h1v1h-1zM24 14h1v1h-1zM28 14h1v1h-1zM38 14h1v1h-1zM53 14h1v1h-1zM58 14h1v1h-1zM106 14h1v1h-1zM10 15h1v1h-1zM28 15h1v1h-1zM31 15h1v1h-1zM55 15h1v1h-1zM86 15h1v1h-1zM92 15h1v1h-1zM5 16h1v1h-1zM16 16h1v1h-1zM51 16h1v1h-1zM58 16h2v1h-2zM84 16h1v1h-1zM109 16h1v1h-1zM0 17h1v1h-1zM24 17h1v1h-1zM29 17h1v1h-1zM33 17h1v1h-1zM52 17h1v1h-1zM58 17h1v1h-1zM108 17h1v1h-1zM25 18h1v1h-1zM33 18h1v1h-1zM50 18h1v1h-1zM84 18h1v1h-1zM102 18h1v1h-1zM52 19h1v1h-1zM58 19h1v1h-1zM64 19h1v1h-1zM16 20h1v1h-1zM58 20h1v1h-1zM63 20h1v1h-1zM88 20h1v1h-1zM90 20h1v1h-1zM94 20h1v1h-1zM101 20h1v1h-1zM103 20h1v1h-1zM41 21h1v1h-1zM54 21h1v1h-1zM101 21h1v1h-1zM25 22h1v1h-1zM42 22h1v1h-1zM46 22h1v1h-1zM88 22h2v1h-2zM94 22h1v1h-1zM30 23h1v1h-1zM64 23h1v1h-1zM69 23h1v1h-1zM86 23h1v1h-1zM40 24h1v1h-1zM65 24h1v1h-1zM96 24h1v1h-1zM99 24h1v1h-1zM103 24h1v1h-1zM18 25h1v1h-1zM25 25h1v1h-1zM29 25h1v1h-1zM40 25h1v1h-1zM49 25h1v1h-1zM58 25h1v1h-1zM81 25h1v1h-1zM90 25h1v1h-1zM96 25h1v1h-1zM10 26h1v1h-1zM40 26h1v1h-1zM46 26h1v1h-1zM54 26h1v1h-1zM58 27h1v1h-1zM12 28h1v1h-1zM22 28h1v1h-1zM85 28h1v1h-1zM10 29h1v1h-1zM48 29h1v1h-1zM58 29h1v1h-1zM68 29h1v1h-1zM90 29h1v1h-1zM102 29h1v1h-1zM104 29h1v1h-1zM83 30h1v1h-1zM90 30h1v1h-1zM98 30h1v1h-1zM28 31h1v1h-1zM56 31h1v1h-1zM90 31h1v1h-1zM98 31h1v1h-1zM33 32h1v1h-1zM46 32h1v1h-1zM54 32h1v1h-1zM91 32h1v1h-1zM3 33h1v1h-1zM28 33h1v1h-1zM49 33h1v1h-1zM57 33h1v1h-1zM99 33h1v1h-1zM11 34h2v1h-2zM29 34h1v1h-1zM40 34h1v1h-1zM52 34h1v1h-1zM68 34h1v1h-1zM4 35h1v1h-1zM7 35h1v1h-1zM12 35h1v1h-1zM20 35h1v1h-1zM24 35h2v1h-2zM34 35h1v1h-1zM6 36h1v1h-1zM90 36h1v1h-1zM66 37h1v1h-1zM91 37h1v1h-1zM2 38h1v1h-1zM29 38h1v1h-1zM35 38h1v1h-1zM54 38h1v1h-1zM62 38h1v1h-1zM64 38h1v1h-1zM7 39h1v1h-1zM9 39h1v1h-1zM27 39h1v1h-1zM29 39h1v1h-1zM50 39h1v1h-1zM70 39h1v1h-1zM87 39h1v1h-1zM107 39h1v1h-1zM4 40h1v1h-1zM75 40h1v1h-1zM91 40h1v1h-1zM1 41h1v1h-1zM29 41h1v1h-1zM52 41h1v1h-1zM56 41h1v1h-1zM65 41h1v1h-1zM80 41h2v1h-2zM108 41h1v1h-1zM19 42h1v1h-1zM68 42h1v1h-1zM98 42h2v1h-2zM102 42h1v1h-1zM12 43h1v1h-1zM46 43h1v1h-1zM56 43h1v1h-1zM61 43h1v1h-1zM66 43h1v1h-1zM70 43h1v1h-1zM87 43h1v1h-1zM41 44h1v1h-1zM55 44h1v1h-1zM61 44h1v1h-1zM69 44h1v1h-1zM20 45h1v1h-1zM22 45h1v1h-1zM24 45h1v1h-1zM29 45h1v1h-1zM55 45h1v1h-1zM57 45h1v1h-1zM103 45h1v1h-1z"/>
<path fill="#f5bdba" stroke="#f5bdba" stroke-width="0.06" d="M1 0h1v1h-1zM6 0h1v1h-1zM20 0h1v1h-1zM25 0h1v1h-1zM89 0h2v1h-2zM105 0h1v1h-1zM108 0h1v1h-1zM10 1h1v1h-1zM12 1h1v1h-1zM18 1h1v1h-1zM38 1h1v1h-1zM97 1h2v1h-2zM109 1h1v1h-1zM15 2h1v1h-1zM17 2h1v1h-1zM86 2h1v1h-1zM98 2h1v1h-1zM1 3h2v1h-2zM85 3h2v1h-2zM97 3h1v1h-1zM101 3h1v1h-1zM8 4h1v1h-1zM41 4h1v1h-1zM49 4h1v1h-1zM93 4h1v1h-1zM97 4h1v1h-1zM1 5h2v1h-2zM22 5h1v1h-1zM41 5h1v1h-1zM44 5h1v1h-1zM54 5h1v1h-1zM77 5h1v1h-1zM93 5h1v1h-1zM97 5h1v1h-1zM101 5h1v1h-1zM107 5h1v1h-1zM17 6h1v1h-1zM37 6h1v1h-1zM97 6h1v1h-1zM16 7h1v1h-1zM97 7h1v1h-1zM41 8h1v1h-1zM69 8h1v1h-1zM85 8h1v1h-1zM88 8h1v1h-1zM109 8h1v1h-1zM32 9h1v1h-1zM41 9h1v1h-1zM86 9h1v1h-1zM105 9h1v1h-1zM109 9h1v1h-1zM10 10h1v1h-1zM22 10h1v1h-1zM11 11h1v1h-1zM14 11h1v1h-1zM21 11h1v1h-1zM69 11h1v1h-1zM95 11h1v1h-1zM100 11h1v1h-1zM28 12h1v1h-1zM59 12h2v1h-2zM3 13h2v1h-2zM26 13h1v1h-1zM29 13h1v1h-1zM39 13h1v1h-1zM46 13h1v1h-1zM50 13h1v1h-1zM53 13h1v1h-1zM67 13h2v1h-2zM108 13h1v1h-1zM16 14h1v1h-1zM51 14h1v1h-1zM59 14h1v1h-1zM61 14h1v1h-1zM69 14h1v1h-1zM81 14h1v1h-1zM3 15h1v1h-1zM6 15h1v1h-1zM29 15h1v1h-1zM33 15h1v1h-1zM43 15h1v1h-1zM57 15h1v1h-1zM79 15h1v1h-1zM84 15h1v1h-1zM13 16h1v1h-1zM15 16h1v1h-1zM21 16h1v1h-1zM57 16h1v1h-1zM72 16h1v1h-1zM88 16h1v1h-1zM96 16h1v1h-1zM32 17h1v1h-1zM88 17h1v1h-1zM94 17h2v1h-2zM102 17h1v1h-1zM7 18h1v1h-1zM13 18h1v1h-1zM19 18h1v1h-1zM22 18h1v1h-1zM34 18h1v1h-1zM53 18h1v1h-1zM67 18h1v1h-1zM71 18h1v1h-1zM80 18h1v1h-1zM109 18h1v1h-1zM4 19h1v1h-1zM9 19h1v1h-1zM24 19h1v1h-1zM36 19h1v1h-1zM61 19h1v1h-1zM72 19h1v1h-1zM96 19h1v1h-1zM3 20h1v1h-1zM13 20h1v1h-1zM50 21h1v1h-1zM84 21h1v1h-1zM93 21h1v1h-1zM95 21h1v1h-1zM10 22h1v1h-1zM31 22h1v1h-1zM33 22h1v1h-1zM35 22h2v1h-2zM76 22h1v1h-1zM90 22h1v1h-1zM95 22h1v1h-1zM98 22h1v1h-1zM24 23h1v1h-1zM44 23h1v1h-1zM56 23h1v1h-1zM60 23h1v1h-1zM102 23h1v1h-1zM12 24h2v1h-2zM34 24h1v1h-1zM42 24h1v1h-1zM54 24h1v1h-1zM58 24h1v1h-1zM61 24h1v1h-1zM68 24h1v1h-1zM0 25h1v1h-1zM12 25h1v1h-1zM21 25h1v1h-1zM48 25h1v1h-1zM54 25h1v1h-1zM77 25h1v1h-1zM80 25h1v1h-1zM106 25h1v1h-1zM109 25h1v1h-1zM2 26h1v1h-1zM24 26h1v1h-1zM29 26h1v1h-1zM53 26h1v1h-1zM68 26h1v1h-1zM70 26h1v1h-1zM104 26h1v1h-1zM0 27h1v1h-1zM98 27h1v1h-1zM105 27h1v1h-1zM17 28h2v1h-2zM26 28h1v1h-1zM29 28h1v1h-1zM49 28h1v1h-1zM52 28h1v1h-1zM67 28h1v1h-1zM40 29h2v1h-2zM91 29h1v1h-1zM98 29h1v1h-1zM2 30h1v1h-1zM41 30h1v1h-1zM49 30h1v1h-1zM54 30h1v1h-1zM63 30h1v1h-1zM67 30h1v1h-1zM102 30h3v1h-3zM25 31h1v1h-1zM46 31h1v1h-1zM53 31h1v1h-1zM57 31h2v1h-2zM61 31h1v1h-1zM104 31h1v1h-1zM108 31h1v1h-1zM67 32h1v1h-1zM78 32h1v1h-1zM83 32h1v1h-1zM98 32h1v1h-1zM4 33h1v1h-1zM12 33h1v1h-1zM29 33h1v1h-1zM48 33h1v1h-1zM54 33h1v1h-1zM65 33h1v1h-1zM0 34h1v1h-1zM55 34h1v1h-1zM95 34h1v1h-1zM11 35h1v1h-1zM15 35h1v1h-1zM22 35h1v1h-1zM26 35h2v1h-2zM58 35h1v1h-1zM78 35h1v1h-1zM98 35h1v1h-1zM15 36h1v1h-1zM27 36h1v1h-1zM53 36h1v1h-1zM61 36h1v1h-1zM96 36h1v1h-1zM23 37h1v1h-1zM30 37h1v1h-1zM39 37h1v1h-1zM49 37h1v1h-1zM54 37h1v1h-1zM70 37h1v1h-1zM76 37h1v1h-1zM8 38h1v1h-1zM70 38h1v1h-1zM93 38h1v1h-1zM19 39h1v1h-1zM39 39h1v1h-1zM42 39h1v1h-1zM65 39h1v1h-1zM75 39h1v1h-1zM89 39h1v1h-1zM95 39h1v1h-1zM10 40h1v1h-1zM21 40h2v1h-2zM58 40h1v1h-1zM76 40h1v1h-1zM6 41h1v1h-1zM8 41h1v1h-1zM14 41h1v1h-1zM20 41h1v1h-1zM31 41h1v1h-1zM34 41h1v1h-1zM61 41h1v1h-1zM67 41h1v1h-1zM75 41h1v1h-1zM107 41h1v1h-1zM1 42h1v1h-1zM18 42h1v1h-1zM24 42h1v1h-1zM32 42h1v1h-1zM34 42h1v1h-1zM42 42h1v1h-1zM90 42h1v1h-1zM104 42h1v1h-1zM108 42h1v1h-1zM22 43h1v1h-1zM26 43h2v1h-2zM67 43h1v1h-1zM72 43h1v1h-1zM98 43h2v1h-2zM13 44h1v1h-1zM15 44h1v1h-1zM21 44h1v1h-1zM30 44h1v1h-1zM33 44h2v1h-2zM44 44h1v1h-1zM53 44h1v1h-1zM60 44h1v1h-1zM73 44h1v1h-1zM77 44h1v1h-1zM82 44h1v1h-1zM87 44h1v1h-1zM89 44h1v1h-1zM98 44h1v1h-1zM2 45h1v1h-1zM10 45h1v1h-1z"/>
<path fill="#f5aca5" stroke="#f5aca5" stroke-width="0.06" d="M3 0h1v1h-1zM15 0h1v1h-1zM26 0h1v1h-1zM32 0h1v1h-1zM38 0h1v1h-1zM85 0h2v1h-2zM97 0h1v1h-1zM100 0h1v1h-1zM26 1h1v1h-1zM41 1h1v1h-1zM54 1h1v1h-1zM86 1h1v1h-1zM95 1h1v1h-1zM105 1h1v1h-1zM107 1h1v1h-1zM3 2h1v1h-1zM5 2h1v1h-1zM89 2h2v1h-2zM92 2h1v1h-1zM96 2h2v1h-2zM5 3h1v1h-1zM16 3h1v1h-1zM105 3h1v1h-1zM34 4h1v1h-1zM69 4h1v1h-1zM86 4h1v1h-1zM98 4h1v1h-1zM11 5h1v1h-1zM14 5h1v1h-1zM85 5h1v1h-1zM89 5h1v1h-1zM99 5h1v1h-1zM105 5h1v1h-1zM1 6h1v1h-1zM13 6h1v1h-1zM24 6h1v1h-1zM69 6h1v1h-1zM89 6h1v1h-1zM105 6h1v1h-1zM109 6h1v1h-1zM7 7h1v1h-1zM25 7h1v1h-1zM69 7h2v1h-2zM93 7h1v1h-1zM105 7h1v1h-1zM2 8h2v1h-2zM9 8h1v1h-1zM13 8h2v1h-2zM21 8h1v1h-1zM24 8h1v1h-1zM32 8h1v1h-1zM98 8h1v1h-1zM105 8h1v1h-1zM0 9h2v1h-2zM19 9h1v1h-1zM34 9h1v1h-1zM65 9h1v1h-1zM69 9h1v1h-1zM101 9h1v1h-1zM24 10h1v1h-1zM69 10h1v1h-1zM95 10h1v1h-1zM0 11h2v1h-2zM4 11h1v1h-1zM6 11h1v1h-1zM17 11h1v1h-1zM28 11h1v1h-1zM32 11h1v1h-1zM38 11h1v1h-1zM65 11h1v1h-1zM97 11h2v1h-2zM4 12h1v1h-1zM24 12h1v1h-1zM34 12h1v1h-1zM48 12h1v1h-1zM76 12h2v1h-2zM83 12h1v1h-1zM6 13h1v1h-1zM8 13h1v1h-1zM63 13h1v1h-1zM73 13h1v1h-1zM75 13h1v1h-1zM83 13h1v1h-1zM7 14h1v1h-1zM9 14h1v1h-1zM22 14h1v1h-1zM32 14h1v1h-1zM41 14h1v1h-1zM47 14h1v1h-1zM50 14h1v1h-1zM74 14h1v1h-1zM90 14h1v1h-1zM23 15h1v1h-1zM49 15h1v1h-1zM4 16h1v1h-1zM27 16h1v1h-1zM45 16h1v1h-1zM53 16h2v1h-2zM73 16h1v1h-1zM3 17h1v1h-1zM9 17h2v1h-2zM15 17h1v1h-1zM27 17h1v1h-1zM54 17h1v1h-1zM71 17h1v1h-1zM81 17h1v1h-1zM86 17h1v1h-1zM21 18h1v1h-1zM29 18h1v1h-1zM37 18h1v1h-1zM56 18h1v1h-1zM65 18h2v1h-2zM72 18h1v1h-1zM79 18h1v1h-1zM7 19h1v1h-1zM12 19h1v1h-1zM19 19h1v1h-1zM31 19h1v1h-1zM39 19h1v1h-1zM71 19h1v1h-1zM89 19h1v1h-1zM6 20h1v1h-1zM32 20h1v1h-1zM43 20h1v1h-1zM46 20h1v1h-1zM55 20h1v1h-1zM67 20h1v1h-1zM70 20h1v1h-1zM85 20h1v1h-1zM106 20h1v1h-1zM0 21h1v1h-1zM15 21h1v1h-1zM43 21h1v1h-1zM92 21h1v1h-1zM94 21h1v1h-1zM96 21h1v1h-1zM100 21h1v1h-1zM13 22h1v1h-1zM20 22h1v1h-1zM23 22h1v1h-1zM32 22h1v1h-1zM47 22h1v1h-1zM54 22h1v1h-1zM69 22h1v1h-1zM93 22h1v1h-1zM104 22h1v1h-1zM4 23h1v1h-1zM7 23h1v1h-1zM18 23h1v1h-1zM22 23h1v1h-1zM39 23h1v1h-1zM79 23h1v1h-1zM100 23h1v1h-1zM106 23h1v1h-1zM109 23h1v1h-1zM14 24h1v1h-1zM48 24h2v1h-2zM63 24h1v1h-1zM67 25h1v1h-1zM105 25h1v1h-1zM13 26h1v1h-1zM57 26h1v1h-1zM63 26h1v1h-1zM67 26h1v1h-1zM72 26h1v1h-1zM77 26h1v1h-1zM91 26h1v1h-1zM106 26h1v1h-1zM24 27h1v1h-1zM63 27h1v1h-1zM24 28h1v1h-1zM54 28h1v1h-1zM57 28h1v1h-1zM65 28h1v1h-1zM68 28h1v1h-1zM95 28h1v1h-1zM103 28h1v1h-1zM2 29h1v1h-1zM9 29h1v1h-1zM18 29h1v1h-1zM14 30h1v1h-1zM18 30h1v1h-1zM27 30h1v1h-1zM58 30h2v1h-2zM2 31h1v1h-1zM9 31h1v1h-1zM21 31h2v1h-2zM39 31h1v1h-1zM42 31h1v1h-1zM54 31h1v1h-1zM68 31h1v1h-1zM99 31h1v1h-1zM13 32h1v1h-1zM48 32h1v1h-1zM34 33h1v1h-1zM68 33h1v1h-1zM91 33h1v1h-1zM7 34h1v1h-1zM18 34h1v1h-1zM54 34h1v1h-1zM77 34h1v1h-1zM67 35h2v1h-2zM96 35h1v1h-1zM102 35h1v1h-1zM105 35h1v1h-1zM0 36h1v1h-1zM2 36h1v1h-1zM20 36h1v1h-1zM52 36h1v1h-1zM57 36h1v1h-1zM63 36h1v1h-1zM74 36h1v1h-1zM91 36h1v1h-1zM94 36h1v1h-1zM98 36h1v1h-1zM0 37h1v1h-1zM25 37h1v1h-1zM50 37h1v1h-1zM53 37h1v1h-1zM58 37h1v1h-1zM4 38h1v1h-1zM9 38h1v1h-1zM19 38h1v1h-1zM24 38h1v1h-1zM68 38h1v1h-1zM84 38h3v1h-3zM102 38h2v1h-2zM106 38h1v1h-1zM33 39h1v1h-1zM36 39h1v1h-1zM51 39h1v1h-1zM59 39h1v1h-1zM63 39h1v1h-1zM68 39h1v1h-1zM79 39h1v1h-1zM83 39h1v1h-1zM104 39h1v1h-1zM26 40h1v1h-1zM53 40h1v1h-1zM92 40h1v1h-1zM22 41h1v1h-1zM55 41h1v1h-1zM72 41h1v1h-1zM77 41h1v1h-1zM13 42h1v1h-1zM15 42h1v1h-1zM37 42h1v1h-1zM41 42h1v1h-1zM48 42h1v1h-1zM51 42h1v1h-1zM74 42h1v1h-1zM76 42h1v1h-1zM105 42h1v1h-1zM3 43h2v1h-2zM10 43h1v1h-1zM20 43h1v1h-1zM38 43h1v1h-1zM41 43h1v1h-1zM105 43h1v1h-1zM1 44h1v1h-1zM16 44h1v1h-1zM56 44h1v1h-1zM58 44h1v1h-1zM97 44h1v1h-1zM109 44h1v1h-1zM1 45h1v1h-1zM62 45h1v1h-1zM75 45h1v1h-1zM80 45h1v1h-1zM85 45h2v1h-2zM102 45h1v1h-1zM106 45h1v1h-1z"/>
<path fill="#f49a90" stroke="#f49a90" stroke-width="0.06" d="M12 0h1v1h-1zM18 0h2v1h-2zM21 0h1v1h-1zM54 0h1v1h-1zM93 0h1v1h-1zM96 0h1v1h-1zM106 0h1v1h-1zM1 1h1v1h-1zM4 1h1v1h-1zM6 1h1v1h-1zM32 1h1v1h-1zM34 1h1v1h-1zM85 1h1v1h-1zM90 1h1v1h-1zM96 1h1v1h-1zM106 1h1v1h-1zM4 2h1v1h-1zM9 2h2v1h-2zM18 2h1v1h-1zM32 2h1v1h-1zM34 2h1v1h-1zM54 2h1v1h-1zM85 2h1v1h-1zM94 2h1v1h-1zM4 3h1v1h-1zM23 3h1v1h-1zM34 3h1v1h-1zM54 3h1v1h-1zM90 3h1v1h-1zM21 4h1v1h-1zM23 4h1v1h-1zM32 4h1v1h-1zM38 4h1v1h-1zM54 4h1v1h-1zM90 4h1v1h-1zM106 4h1v1h-1zM16 5h1v1h-1zM28 5h1v1h-1zM34 5h1v1h-1zM38 5h1v1h-1zM95 5h1v1h-1zM0 6h1v1h-1zM3 6h1v1h-1zM32 6h1v1h-1zM38 6h1v1h-1zM77 6h1v1h-1zM86 6h1v1h-1zM92 6h2v1h-2zM98 6h1v1h-1zM8 7h1v1h-1zM17 7h1v1h-1zM19 7h2v1h-2zM32 7h1v1h-1zM34 7h1v1h-1zM92 7h1v1h-1zM98 7h1v1h-1zM108 7h1v1h-1zM11 8h1v1h-1zM23 8h1v1h-1zM94 8h1v1h-1zM10 9h1v1h-1zM15 9h1v1h-1zM17 9h1v1h-1zM23 9h1v1h-1zM96 9h1v1h-1zM1 10h1v1h-1zM108 10h1v1h-1zM20 11h1v1h-1zM34 11h1v1h-1zM54 11h1v1h-1zM77 11h1v1h-1zM89 11h1v1h-1zM8 12h1v1h-1zM16 12h1v1h-1zM20 12h1v1h-1zM36 12h1v1h-1zM39 12h1v1h-1zM49 12h1v1h-1zM44 13h1v1h-1zM60 13h1v1h-1zM72 13h1v1h-1zM81 13h1v1h-1zM91 13h1v1h-1zM30 14h1v1h-1zM42 15h1v1h-1zM60 15h1v1h-1zM69 15h1v1h-1zM77 15h1v1h-1zM89 15h1v1h-1zM109 15h1v1h-1zM3 16h1v1h-1zM14 16h1v1h-1zM50 16h1v1h-1zM7 17h1v1h-1zM51 17h1v1h-1zM53 17h1v1h-1zM64 17h1v1h-1zM70 17h1v1h-1zM90 17h1v1h-1zM92 17h1v1h-1zM96 17h1v1h-1zM99 17h1v1h-1zM107 17h1v1h-1zM4 18h1v1h-1zM15 18h1v1h-1zM30 18h1v1h-1zM36 18h1v1h-1zM42 18h1v1h-1zM100 18h2v1h-2zM105 18h2v1h-2zM8 19h1v1h-1zM14 19h1v1h-1zM47 19h1v1h-1zM51 19h1v1h-1zM53 19h1v1h-1zM90 19h1v1h-1zM97 19h1v1h-1zM7 20h1v1h-1zM24 20h1v1h-1zM26 20h1v1h-1zM53 20h1v1h-1zM84 20h1v1h-1zM87 20h1v1h-1zM97 20h1v1h-1zM109 20h1v1h-1zM58 21h1v1h-1zM72 21h1v1h-1zM86 21h1v1h-1zM102 21h2v1h-2zM106 21h1v1h-1zM15 22h1v1h-1zM29 22h1v1h-1zM52 22h1v1h-1zM70 22h1v1h-1zM74 22h1v1h-1zM109 22h1v1h-1zM59 23h1v1h-1zM71 23h1v1h-1zM87 23h1v1h-1zM93 23h1v1h-1zM22 24h1v1h-1zM27 24h1v1h-1zM41 24h1v1h-1zM57 24h1v1h-1zM59 24h1v1h-1zM77 24h1v1h-1zM91 24h1v1h-1zM42 25h1v1h-1zM57 25h1v1h-1zM68 25h1v1h-1zM104 25h1v1h-1zM12 26h1v1h-1zM18 26h1v1h-1zM26 26h1v1h-1zM76 26h1v1h-1zM81 26h1v1h-1zM98 26h2v1h-2zM108 26h1v1h-1zM2 27h1v1h-1zM12 27h1v1h-1zM26 27h1v1h-1zM48 27h1v1h-1zM59 27h1v1h-1zM99 27h1v1h-1zM106 27h1v1h-1zM13 28h2v1h-2zM27 28h1v1h-1zM34 28h1v1h-1zM42 28h1v1h-1zM48 28h1v1h-1zM72 28h1v1h-1zM76 28h1v1h-1zM87 28h1v1h-1zM98 28h1v1h-1zM102 28h1v1h-1zM104 28h1v1h-1zM106 28h1v1h-1zM14 29h1v1h-1zM22 29h1v1h-1zM34 29h1v1h-1zM57 29h1v1h-1zM59 29h1v1h-1zM76 29h1v1h-1zM81 29h1v1h-1zM42 30h1v1h-1zM48 30h1v1h-1zM57 30h1v1h-1zM65 30h1v1h-1zM78 30h1v1h-1zM91 30h1v1h-1zM108 30h1v1h-1zM12 31h2v1h-2zM18 31h1v1h-1zM24 31h1v1h-1zM59 31h1v1h-1zM78 31h1v1h-1zM87 31h1v1h-1zM91 31h1v1h-1zM9 32h1v1h-1zM12 32h1v1h-1zM26 32h1v1h-1zM59 32h1v1h-1zM104 32h1v1h-1zM8 33h1v1h-1zM22 33h1v1h-1zM24 33h1v1h-1zM39 33h1v1h-1zM72 33h1v1h-1zM78 33h1v1h-1zM81 33h1v1h-1zM95 33h1v1h-1zM98 33h1v1h-1zM106 33h1v1h-1zM26 34h2v1h-2zM39 34h1v1h-1zM57 34h1v1h-1zM91 34h1v1h-1zM99 34h1v1h-1zM103 34h2v1h-2zM3 35h1v1h-1zM29 35h1v1h-1zM42 35h1v1h-1zM60 35h1v1h-1zM77 35h1v1h-1zM81 35h1v1h-1zM103 35h1v1h-1zM106 35h1v1h-1zM12 36h1v1h-1zM42 36h1v1h-1zM55 36h1v1h-1zM58 36h1v1h-1zM64 36h1v1h-1zM85 36h2v1h-2zM107 36h1v1h-1zM109 36h1v1h-1zM6 37h1v1h-1zM17 37h1v1h-1zM34 37h1v1h-1zM63 37h1v1h-1zM80 37h1v1h-1zM105 37h1v1h-1zM15 38h1v1h-1zM25 38h1v1h-1zM30 38h1v1h-1zM40 38h1v1h-1zM42 38h1v1h-1zM53 38h1v1h-1zM57 38h1v1h-1zM80 38h1v1h-1zM91 38h1v1h-1zM97 38h1v1h-1zM2 39h1v1h-1zM4 39h1v1h-1zM22 39h1v1h-1zM86 39h1v1h-1zM94 39h1v1h-1zM15 40h1v1h-1zM25 40h1v1h-1zM30 40h1v1h-1zM32 40h1v1h-1zM36 40h1v1h-1zM47 40h1v1h-1zM62 40h2v1h-2zM77 40h1v1h-1zM80 40h1v1h-1zM93 40h1v1h-1zM95 40h1v1h-1zM97 40h1v1h-1zM17 41h1v1h-1zM25 41h1v1h-1zM36 41h1v1h-1zM94 41h1v1h-1zM100 41h1v1h-1zM5 42h1v1h-1zM27 42h1v1h-1zM33 42h1v1h-1zM85 42h1v1h-1zM106 42h1v1h-1zM13 43h1v1h-1zM23 43h1v1h-1zM29 43h1v1h-1zM32 43h1v1h-1zM45 43h1v1h-1zM57 43h1v1h-1zM77 43h1v1h-1zM3 44h1v1h-1zM18 44h1v1h-1zM27 44h1v1h-1zM45 44h1v1h-1zM52 44h1v1h-1zM92 44h1v1h-1zM107 44h1v1h-1zM30 45h1v1h-1zM38 45h1v1h-1zM49 45h1v1h-1zM58 45h1v1h-1zM63 45h1v1h-1zM87 45h1v1h-1zM92 45h2v1h-2z"/>
<path fill="#f3897c" stroke="#f3897c" stroke-width="0.06" d="M8 0h1v1h-1zM14 0h1v1h-1zM16 0h2v1h-2zM94 0h2v1h-2zM0 1h1v1h-1zM3 1h1v1h-1zM13 1h2v1h-2zM20 1h1v1h-1zM89 1h1v1h-1zM101 1h1v1h-1zM13 2h1v1h-1zM21 2h1v1h-1zM44 2h1v1h-1zM93 2h1v1h-1zM95 2h1v1h-1zM3 3h1v1h-1zM9 3h1v1h-1zM32 3h1v1h-1zM38 3h1v1h-1zM89 3h1v1h-1zM93 3h2v1h-2zM1 4h1v1h-1zM4 4h1v1h-1zM7 4h1v1h-1zM24 4h1v1h-1zM21 5h1v1h-1zM23 5h1v1h-1zM98 5h1v1h-1zM106 5h1v1h-1zM109 5h1v1h-1zM7 6h1v1h-1zM12 6h1v1h-1zM20 6h1v1h-1zM23 6h1v1h-1zM34 6h1v1h-1zM90 6h1v1h-1zM101 6h1v1h-1zM0 7h2v1h-2zM26 7h1v1h-1zM54 7h1v1h-1zM85 7h1v1h-1zM89 7h1v1h-1zM94 7h1v1h-1zM109 7h1v1h-1zM26 8h1v1h-1zM34 8h1v1h-1zM38 8h1v1h-1zM54 8h1v1h-1zM86 8h1v1h-1zM89 8h2v1h-2zM96 8h1v1h-1zM106 8h1v1h-1zM3 9h2v1h-2zM22 9h1v1h-1zM38 9h1v1h-1zM54 9h1v1h-1zM89 9h1v1h-1zM95 9h1v1h-1zM99 9h1v1h-1zM11 10h1v1h-1zM17 10h2v1h-2zM34 10h1v1h-1zM38 10h1v1h-1zM54 10h1v1h-1zM89 10h1v1h-1zM96 10h1v1h-1zM98 10h1v1h-1zM105 10h1v1h-1zM3 11h1v1h-1zM9 11h1v1h-1zM13 11h1v1h-1zM19 11h1v1h-1zM46 12h1v1h-1zM80 12h1v1h-1zM5 13h1v1h-1zM22 13h1v1h-1zM24 13h1v1h-1zM35 13h1v1h-1zM48 13h1v1h-1zM92 13h1v1h-1zM29 14h1v1h-1zM31 14h1v1h-1zM39 14h1v1h-1zM42 14h1v1h-1zM8 15h1v1h-1zM48 15h1v1h-1zM59 15h1v1h-1zM81 15h1v1h-1zM94 15h1v1h-1zM23 16h1v1h-1zM44 16h1v1h-1zM62 16h1v1h-1zM76 16h1v1h-1zM85 16h1v1h-1zM87 16h1v1h-1zM92 16h1v1h-1zM12 17h1v1h-1zM41 17h1v1h-1zM46 17h1v1h-1zM60 17h1v1h-1zM93 17h1v1h-1zM98 18h1v1h-1zM67 19h1v1h-1zM5 20h1v1h-1zM8 20h1v1h-1zM52 20h1v1h-1zM54 20h1v1h-1zM96 20h1v1h-1zM105 20h1v1h-1zM14 21h1v1h-1zM22 21h1v1h-1zM45 21h1v1h-1zM65 21h2v1h-2zM48 22h1v1h-1zM66 22h1v1h-1zM71 22h1v1h-1zM78 22h1v1h-1zM85 22h1v1h-1zM96 22h1v1h-1zM107 22h1v1h-1zM9 23h1v1h-1zM28 23h1v1h-1zM51 23h1v1h-1zM61 23h1v1h-1zM78 23h1v1h-1zM91 23h1v1h-1zM94 23h1v1h-1zM101 23h1v1h-1zM4 24h1v1h-1zM10 24h1v1h-1zM39 24h1v1h-1zM45 24h1v1h-1zM72 24h1v1h-1zM76 24h1v1h-1zM81 24h1v1h-1zM87 24h1v1h-1zM95 24h1v1h-1zM104 24h1v1h-1zM106 24h1v1h-1zM108 24h1v1h-1zM4 25h1v1h-1zM9 25h1v1h-1zM13 25h1v1h-1zM22 25h1v1h-1zM24 25h1v1h-1zM34 25h1v1h-1zM72 25h1v1h-1zM76 25h1v1h-1zM87 25h1v1h-1zM108 25h1v1h-1zM5 26h1v1h-1zM27 26h1v1h-1zM41 26h1v1h-1zM78 26h1v1h-1zM90 26h1v1h-1zM95 26h1v1h-1zM100 26h1v1h-1zM4 27h1v1h-1zM9 27h1v1h-1zM11 27h1v1h-1zM13 27h2v1h-2zM27 27h1v1h-1zM39 27h1v1h-1zM42 27h1v1h-1zM76 27h3v1h-3zM104 27h1v1h-1zM0 28h1v1h-1zM11 28h1v1h-1zM39 28h1v1h-1zM77 28h1v1h-1zM101 28h1v1h-1zM4 29h2v1h-2zM13 29h1v1h-1zM39 29h1v1h-1zM42 29h1v1h-1zM63 29h1v1h-1zM77 29h1v1h-1zM108 29h1v1h-1zM5 30h1v1h-1zM8 30h1v1h-1zM15 30h1v1h-1zM76 30h1v1h-1zM81 30h1v1h-1zM95 30h1v1h-1zM107 30h1v1h-1zM5 31h1v1h-1zM8 31h1v1h-1zM41 31h1v1h-1zM3 32h1v1h-1zM24 32h1v1h-1zM39 32h1v1h-1zM63 32h1v1h-1zM72 32h1v1h-1zM77 32h1v1h-1zM87 32h1v1h-1zM107 32h1v1h-1zM41 33h1v1h-1zM59 33h1v1h-1zM63 33h1v1h-1zM77 33h1v1h-1zM4 34h1v1h-1zM6 34h1v1h-1zM41 34h1v1h-1zM72 34h1v1h-1zM98 34h1v1h-1zM106 34h1v1h-1zM0 35h1v1h-1zM54 35h1v1h-1zM59 35h1v1h-1zM76 35h1v1h-1zM87 35h1v1h-1zM99 35h1v1h-1zM108 35h1v1h-1zM21 36h1v1h-1zM24 36h1v1h-1zM39 36h1v1h-1zM49 36h1v1h-1zM72 36h1v1h-1zM87 36h1v1h-1zM3 37h2v1h-2zM7 37h1v1h-1zM42 37h1v1h-1zM71 37h1v1h-1zM75 37h1v1h-1zM85 37h1v1h-1zM89 37h1v1h-1zM34 38h1v1h-1zM38 38h1v1h-1zM50 38h1v1h-1zM65 38h1v1h-1zM23 39h1v1h-1zM28 39h1v1h-1zM44 39h1v1h-1zM82 39h1v1h-1zM85 39h1v1h-1zM17 40h1v1h-1zM31 40h1v1h-1zM88 40h1v1h-1zM98 40h1v1h-1zM100 40h1v1h-1zM103 40h1v1h-1zM3 41h1v1h-1zM10 41h1v1h-1zM18 41h1v1h-1zM47 41h1v1h-1zM63 41h1v1h-1zM74 41h1v1h-1zM82 41h1v1h-1zM90 41h2v1h-2zM104 41h1v1h-1zM28 42h1v1h-1zM39 42h1v1h-1zM53 42h1v1h-1zM63 42h1v1h-1zM75 42h1v1h-1zM87 42h1v1h-1zM107 42h1v1h-1zM35 43h1v1h-1zM53 43h1v1h-1zM89 43h1v1h-1zM95 43h1v1h-1zM100 43h1v1h-1zM70 44h1v1h-1zM16 45h1v1h-1zM19 45h1v1h-1zM21 45h1v1h-1zM27 45h1v1h-1zM54 45h1v1h-1zM69 45h1v1h-1zM73 45h1v1h-1zM78 45h1v1h-1zM89 45h1v1h-1z"/>
<path fill="#f37867" stroke="#f37867" stroke-width="0.06" d="M23 0h1v1h-1zM101 0h1v1h-1zM7 1h2v1h-2zM16 1h1v1h-1zM92 1h1v1h-1zM94 1h1v1h-1zM6 2h1v1h-1zM38 2h1v1h-1zM10 3h1v1h-1zM12 3h1v1h-1zM14 3h1v1h-1zM17 3h1v1h-1zM22 3h1v1h-1zM5 4h2v1h-2zM14 4h1v1h-1zM19 4h1v1h-1zM28 4h1v1h-1zM85 4h1v1h-1zM92 4h1v1h-1zM95 4h2v1h-2zM4 5h1v1h-1zM10 5h1v1h-1zM94 5h1v1h-1zM96 5h1v1h-1zM14 6h1v1h-1zM54 6h1v1h-1zM94 6h2v1h-2zM3 7h1v1h-1zM5 7h1v1h-1zM9 7h1v1h-1zM11 7h1v1h-1zM13 7h1v1h-1zM22 7h1v1h-1zM24 7h1v1h-1zM90 7h1v1h-1zM95 7h2v1h-2zM101 7h1v1h-1zM4 8h1v1h-1zM10 8h1v1h-1zM20 8h1v1h-1zM92 8h1v1h-1zM5 9h2v1h-2zM24 9h1v1h-1zM26 9h1v1h-1zM92 9h1v1h-1zM94 9h1v1h-1zM0 10h1v1h-1zM5 10h1v1h-1zM8 10h1v1h-1zM20 10h1v1h-1zM32 10h1v1h-1zM90 10h1v1h-1zM92 10h1v1h-1zM94 10h1v1h-1zM101 10h1v1h-1zM106 10h1v1h-1zM86 11h1v1h-1zM94 11h1v1h-1zM96 11h1v1h-1zM101 11h1v1h-1zM72 12h1v1h-1zM82 12h1v1h-1zM91 12h1v1h-1zM27 13h1v1h-1zM42 13h1v1h-1zM84 13h1v1h-1zM15 14h1v1h-1zM19 14h1v1h-1zM109 14h1v1h-1zM16 15h1v1h-1zM47 15h1v1h-1zM62 15h1v1h-1zM73 15h1v1h-1zM82 15h1v1h-1zM1 16h1v1h-1zM61 16h1v1h-1zM64 16h1v1h-1zM93 16h1v1h-1zM4 17h1v1h-1zM13 17h1v1h-1zM19 17h1v1h-1zM28 17h1v1h-1zM31 17h1v1h-1zM50 17h1v1h-1zM73 17h1v1h-1zM79 17h1v1h-1zM87 17h1v1h-1zM101 17h1v1h-1zM109 17h1v1h-1zM35 18h1v1h-1zM48 18h1v1h-1zM93 18h2v1h-2zM11 19h1v1h-1zM44 19h1v1h-1zM48 19h1v1h-1zM82 19h1v1h-1zM92 19h1v1h-1zM99 19h1v1h-1zM22 20h2v1h-2zM27 20h1v1h-1zM68 20h1v1h-1zM93 20h1v1h-1zM95 20h1v1h-1zM12 21h1v1h-1zM48 21h1v1h-1zM57 21h1v1h-1zM67 21h1v1h-1zM70 21h1v1h-1zM75 21h1v1h-1zM85 21h1v1h-1zM99 21h1v1h-1zM104 21h1v1h-1zM109 21h1v1h-1zM41 22h1v1h-1zM97 22h1v1h-1zM29 23h1v1h-1zM46 23h1v1h-1zM48 23h1v1h-1zM63 23h1v1h-1zM8 24h2v1h-2zM11 24h1v1h-1zM24 24h1v1h-1zM101 24h1v1h-1zM5 25h1v1h-1zM11 25h1v1h-1zM14 25h1v1h-1zM27 25h1v1h-1zM39 25h1v1h-1zM59 25h1v1h-1zM63 25h1v1h-1zM98 25h2v1h-2zM9 26h1v1h-1zM14 26h1v1h-1zM34 26h1v1h-1zM42 26h1v1h-1zM59 26h1v1h-1zM87 26h1v1h-1zM107 26h1v1h-1zM3 27h1v1h-1zM5 27h1v1h-1zM41 27h1v1h-1zM45 27h1v1h-1zM72 27h1v1h-1zM81 27h1v1h-1zM95 27h1v1h-1zM100 27h2v1h-2zM107 27h2v1h-2zM3 28h1v1h-1zM9 28h1v1h-1zM28 28h1v1h-1zM41 28h1v1h-1zM45 28h1v1h-1zM81 28h1v1h-1zM91 28h1v1h-1zM99 28h1v1h-1zM3 29h1v1h-1zM11 29h2v1h-2zM15 29h1v1h-1zM72 29h1v1h-1zM78 29h1v1h-1zM95 29h1v1h-1zM99 29h1v1h-1zM3 30h2v1h-2zM25 30h1v1h-1zM72 30h1v1h-1zM106 30h1v1h-1zM0 31h1v1h-1zM14 31h2v1h-2zM45 31h1v1h-1zM63 31h1v1h-1zM72 31h1v1h-1zM100 31h1v1h-1zM106 31h2v1h-2zM11 32h1v1h-1zM14 32h2v1h-2zM95 32h1v1h-1zM106 32h1v1h-1zM108 32h1v1h-1zM5 33h1v1h-1zM25 33h1v1h-1zM104 33h1v1h-1zM108 33h1v1h-1zM48 34h1v1h-1zM63 34h1v1h-1zM76 34h1v1h-1zM81 34h1v1h-1zM87 34h1v1h-1zM100 34h1v1h-1zM108 34h1v1h-1zM5 35h1v1h-1zM39 35h1v1h-1zM101 35h1v1h-1zM104 35h1v1h-1zM4 36h1v1h-1zM30 36h1v1h-1zM40 36h1v1h-1zM45 36h1v1h-1zM69 36h2v1h-2zM93 36h1v1h-1zM100 36h1v1h-1zM5 37h1v1h-1zM12 37h1v1h-1zM26 37h1v1h-1zM69 37h1v1h-1zM74 37h1v1h-1zM95 37h1v1h-1zM17 38h1v1h-1zM58 38h1v1h-1zM74 38h1v1h-1zM92 38h1v1h-1zM12 39h1v1h-1zM14 39h1v1h-1zM18 39h1v1h-1zM31 39h1v1h-1zM40 39h1v1h-1zM80 39h1v1h-1zM84 39h1v1h-1zM92 39h1v1h-1zM102 39h1v1h-1zM59 40h1v1h-1zM68 40h2v1h-2zM102 40h1v1h-1zM106 40h1v1h-1zM4 41h1v1h-1zM68 41h1v1h-1zM11 42h1v1h-1zM50 42h1v1h-1zM58 42h1v1h-1zM79 42h1v1h-1zM19 43h1v1h-1zM34 43h1v1h-1zM65 43h1v1h-1zM80 43h1v1h-1zM107 43h1v1h-1zM24 44h1v1h-1zM63 44h1v1h-1zM72 44h1v1h-1zM106 44h1v1h-1zM4 45h1v1h-1zM40 45h1v1h-1zM95 45h1v1h-1z"/>
<path fill="#f26752" stroke="#f26752" stroke-width="0.06" d="M4 0h2v1h-2zM9 0h1v1h-1zM24 0h1v1h-1zM34 0h1v1h-1zM7 2h1v1h-1zM19 2h1v1h-1zM26 2h1v1h-1zM7 3h1v1h-1zM9 4h1v1h-1zM12 4h1v1h-1zM94 4h1v1h-1zM101 4h1v1h-1zM3 5h1v1h-1zM7 5h3v1h-3zM90 5h1v1h-1zM4 6h1v1h-1zM9 6h2v1h-2zM96 6h1v1h-1zM38 7h1v1h-1zM86 7h1v1h-1zM16 8h1v1h-1zM95 8h1v1h-1zM8 9h1v1h-1zM14 9h1v1h-1zM90 9h1v1h-1zM6 10h2v1h-2zM26 10h1v1h-1zM5 11h1v1h-1zM24 11h1v1h-1zM92 11h1v1h-1zM19 12h1v1h-1zM37 12h1v1h-1zM47 12h1v1h-1zM55 12h1v1h-1zM64 12h1v1h-1zM78 12h1v1h-1zM4 14h1v1h-1zM24 15h1v1h-1zM50 15h1v1h-1zM52 15h1v1h-1zM42 16h1v1h-1zM60 16h1v1h-1zM42 17h1v1h-1zM47 17h1v1h-1zM59 17h1v1h-1zM43 18h1v1h-1zM64 18h1v1h-1zM86 18h1v1h-1zM97 18h1v1h-1zM41 19h1v1h-1zM84 19h1v1h-1zM10 20h1v1h-1zM48 20h1v1h-1zM75 20h1v1h-1zM100 20h1v1h-1zM104 20h1v1h-1zM31 21h1v1h-1zM53 21h1v1h-1zM73 21h1v1h-1zM105 21h1v1h-1zM18 22h1v1h-1zM24 22h1v1h-1zM99 22h1v1h-1zM6 23h1v1h-1zM8 23h1v1h-1zM58 23h1v1h-1zM66 23h1v1h-1zM72 23h1v1h-1zM77 23h1v1h-1zM97 23h1v1h-1zM3 24h1v1h-1zM15 24h1v1h-1zM78 24h1v1h-1zM86 24h1v1h-1zM3 25h1v1h-1zM7 25h1v1h-1zM15 25h1v1h-1zM41 25h1v1h-1zM100 25h1v1h-1zM3 26h2v1h-2zM8 26h1v1h-1zM11 26h1v1h-1zM15 26h1v1h-1zM86 26h1v1h-1zM8 27h1v1h-1zM15 27h1v1h-1zM87 27h1v1h-1zM91 27h1v1h-1zM4 28h2v1h-2zM15 28h1v1h-1zM63 28h1v1h-1zM6 29h1v1h-1zM27 29h1v1h-1zM45 29h1v1h-1zM87 29h1v1h-1zM100 29h1v1h-1zM106 29h1v1h-1zM9 30h1v1h-1zM11 30h1v1h-1zM77 30h1v1h-1zM87 30h1v1h-1zM100 30h2v1h-2zM3 31h2v1h-2zM11 31h1v1h-1zM27 31h1v1h-1zM77 31h1v1h-1zM95 31h1v1h-1zM101 31h1v1h-1zM4 32h3v1h-3zM8 32h1v1h-1zM41 32h1v1h-1zM76 32h1v1h-1zM81 32h1v1h-1zM86 32h1v1h-1zM99 32h2v1h-2zM45 33h1v1h-1zM76 33h1v1h-1zM86 33h2v1h-2zM107 33h1v1h-1zM42 34h1v1h-1zM59 34h1v1h-1zM45 35h1v1h-1zM63 35h1v1h-1zM72 35h1v1h-1zM86 35h1v1h-1zM107 35h1v1h-1zM11 36h1v1h-1zM36 36h1v1h-1zM10 37h1v1h-1zM32 37h1v1h-1zM35 37h1v1h-1zM57 37h1v1h-1zM72 37h1v1h-1zM94 37h1v1h-1zM36 38h1v1h-1zM61 38h1v1h-1zM69 39h1v1h-1zM108 39h1v1h-1zM23 40h1v1h-1zM87 40h1v1h-1zM89 40h1v1h-1zM94 40h1v1h-1zM104 40h1v1h-1zM15 41h1v1h-1zM43 41h1v1h-1zM59 41h1v1h-1zM97 41h1v1h-1zM103 41h1v1h-1zM36 42h1v1h-1zM44 42h1v1h-1zM94 42h1v1h-1zM86 43h1v1h-1zM93 43h1v1h-1zM4 44h1v1h-1zM12 44h1v1h-1zM42 44h2v1h-2zM94 44h1v1h-1zM96 44h1v1h-1zM104 44h1v1h-1zM34 45h1v1h-1z"/>
<path fill="#f2553d" stroke="#f2553d" stroke-width="0.06" d="M0 0h1v1h-1zM7 0h1v1h-1zM22 0h1v1h-1zM91 0h2v1h-2zM5 1h1v1h-1zM24 1h1v1h-1zM91 1h1v1h-1zM8 2h1v1h-1zM91 2h1v1h-1zM0 3h1v1h-1zM6 3h1v1h-1zM26 3h1v1h-1zM91 3h2v1h-2zM10 4h1v1h-1zM26 4h1v1h-1zM91 4h1v1h-1zM6 5h1v1h-1zM13 5h1v1h-1zM17 5h1v1h-1zM20 5h1v1h-1zM26 5h1v1h-1zM91 5h2v1h-2zM6 6h1v1h-1zM8 6h1v1h-1zM91 6h1v1h-1zM6 7h1v1h-1zM10 7h1v1h-1zM21 7h1v1h-1zM91 7h1v1h-1zM6 8h2v1h-2zM28 8h1v1h-1zM91 8h1v1h-1zM101 8h1v1h-1zM9 9h1v1h-1zM16 9h1v1h-1zM21 9h1v1h-1zM91 9h1v1h-1zM13 10h1v1h-1zM27 10h1v1h-1zM91 10h1v1h-1zM10 11h1v1h-1zM16 11h1v1h-1zM22 11h1v1h-1zM26 11h1v1h-1zM91 11h1v1h-1zM9 12h1v1h-1zM22 12h1v1h-1zM61 12h1v1h-1zM65 12h1v1h-1zM7 13h1v1h-1zM12 13h1v1h-1zM15 13h1v1h-1zM66 13h1v1h-1zM71 13h1v1h-1zM79 13h1v1h-1zM86 13h1v1h-1zM25 14h1v1h-1zM27 14h1v1h-1zM35 14h1v1h-1zM43 14h1v1h-1zM66 14h1v1h-1zM88 14h1v1h-1zM36 15h1v1h-1zM46 15h1v1h-1zM58 15h1v1h-1zM61 15h1v1h-1zM65 15h1v1h-1zM90 15h1v1h-1zM29 16h1v1h-1zM39 16h1v1h-1zM41 16h1v1h-1zM48 16h1v1h-1zM55 16h1v1h-1zM67 16h1v1h-1zM30 17h1v1h-1zM39 17h2v1h-2zM48 17h1v1h-1zM55 17h1v1h-1zM67 17h1v1h-1zM77 17h1v1h-1zM10 18h1v1h-1zM12 18h1v1h-1zM28 18h1v1h-1zM31 18h1v1h-1zM58 18h1v1h-1zM85 18h1v1h-1zM90 18h1v1h-1zM108 18h1v1h-1zM5 19h1v1h-1zM13 19h1v1h-1zM22 19h2v1h-2zM35 19h1v1h-1zM38 19h1v1h-1zM78 19h2v1h-2zM87 19h1v1h-1zM95 19h1v1h-1zM15 20h1v1h-1zM59 20h1v1h-1zM61 20h1v1h-1zM66 20h1v1h-1zM91 20h1v1h-1zM9 21h1v1h-1zM35 21h1v1h-1zM42 21h1v1h-1zM46 21h1v1h-1zM56 21h1v1h-1zM61 21h1v1h-1zM71 21h1v1h-1zM83 21h1v1h-1zM97 21h2v1h-2zM5 22h1v1h-1zM7 22h1v1h-1zM11 22h1v1h-1zM44 22h1v1h-1zM61 22h1v1h-1zM82 22h1v1h-1zM100 22h1v1h-1zM106 22h1v1h-1zM42 23h1v1h-1zM57 23h1v1h-1zM5 24h3v1h-3zM100 24h1v1h-1zM107 24h1v1h-1zM6 25h1v1h-1zM8 25h1v1h-1zM45 25h1v1h-1zM86 25h1v1h-1zM95 25h1v1h-1zM101 25h1v1h-1zM107 25h1v1h-1zM6 26h2v1h-2zM39 26h1v1h-1zM45 26h1v1h-1zM101 26h1v1h-1zM6 27h2v1h-2zM86 27h1v1h-1zM6 28h3v1h-3zM59 28h1v1h-1zM86 28h1v1h-1zM100 28h1v1h-1zM107 28h1v1h-1zM7 29h2v1h-2zM24 29h1v1h-1zM86 29h1v1h-1zM101 29h1v1h-1zM107 29h1v1h-1zM6 30h2v1h-2zM39 30h1v1h-1zM45 30h1v1h-1zM86 30h1v1h-1zM99 30h1v1h-1zM6 31h2v1h-2zM76 31h1v1h-1zM81 31h1v1h-1zM86 31h1v1h-1zM7 32h1v1h-1zM45 32h1v1h-1zM101 32h1v1h-1zM100 33h2v1h-2zM45 34h1v1h-1zM86 34h1v1h-1zM101 34h1v1h-1zM107 34h1v1h-1zM41 35h1v1h-1zM95 35h1v1h-1zM100 35h1v1h-1zM10 36h1v1h-1zM19 36h1v1h-1zM35 36h1v1h-1zM41 36h1v1h-1zM47 36h1v1h-1zM50 36h1v1h-1zM71 36h1v1h-1zM79 36h1v1h-1zM92 36h1v1h-1zM103 36h1v1h-1zM15 37h1v1h-1zM22 37h1v1h-1zM24 37h1v1h-1zM61 37h1v1h-1zM87 37h1v1h-1zM90 37h1v1h-1zM92 37h1v1h-1zM99 37h1v1h-1zM101 37h1v1h-1zM103 37h1v1h-1zM109 37h1v1h-1zM5 38h1v1h-1zM18 38h1v1h-1zM22 38h1v1h-1zM26 38h1v1h-1zM41 38h1v1h-1zM63 38h1v1h-1zM72 38h1v1h-1zM87 38h1v1h-1zM89 38h1v1h-1zM99 38h2v1h-2zM8 39h1v1h-1zM20 39h1v1h-1zM24 39h1v1h-1zM26 39h1v1h-1zM38 39h1v1h-1zM97 39h1v1h-1zM19 40h1v1h-1zM27 40h1v1h-1zM50 40h1v1h-1zM70 40h1v1h-1zM105 40h1v1h-1zM107 40h1v1h-1zM24 41h1v1h-1zM26 41h1v1h-1zM37 41h1v1h-1zM50 41h1v1h-1zM53 41h1v1h-1zM69 41h1v1h-1zM92 41h1v1h-1zM105 41h2v1h-2zM59 42h1v1h-1zM70 42h1v1h-1zM80 42h1v1h-1zM89 42h1v1h-1zM92 42h1v1h-1zM97 42h1v1h-1zM103 42h1v1h-1zM0 43h1v1h-1zM15 43h1v1h-1zM30 43h1v1h-1zM62 43h1v1h-1zM69 43h1v1h-1zM90 43h1v1h-1zM92 43h1v1h-1zM102 43h3v1h-3zM106 43h1v1h-1zM108 43h1v1h-1zM20 44h1v1h-1zM23 44h1v1h-1zM31 44h1v1h-1zM37 44h1v1h-1zM71 44h1v1h-1zM85 44h2v1h-2zM93 44h1v1h-1zM102 44h2v1h-2zM105 44h1v1h-1zM13 45h1v1h-1zM15 45h1v1h-1zM45 45h1v1h-1zM61 45h1v1h-1zM70 45h1v1h-1zM90 45h1v1h-1zM97 45h1v1h-1zM105 45h1v1h-1z"/>
</g>
<rect x="49.4" y="42.2" width="40.4" height="33.8" fill="none" stroke="#111" stroke-width="1.0"/>
<rect x="89.8" y="42.2" width="40.5" height="33.8" fill="none" stroke="#111" stroke-width="1.0"/>
<rect x="130.3" y="42.2" width="174.5" height="33.8" fill="none" stroke="#111" stroke-width="1.0"/>
<rect x="48.6" y="117.0" width="41.2" height="28.4" fill="none" stroke="#111" stroke-width="1.0"/>
<text x="34.3" y="102.0" font-size="9.0" text-anchor="middle" fill="#111" transform="rotate(-90 34.3 102.0)">Gene sets</text>
<rect x="384.1" y="42.0" width="1.0" height="35.0" fill="#3a3a3a"/>
<rect x="384.1" y="79" width="1.0" height="35.5" fill="#3a3a3a"/>
<rect x="384.1" y="117" width="1.0" height="36.0" fill="#3a3a3a"/>
<rect x="384.1" y="155.3" width="1.0" height="12.0" fill="#3a3a3a"/>
<rect x="384.1" y="170" width="1.0" height="14.6" fill="#3a3a3a"/>
<text x="387.5" y="60.3" font-size="6.0" font-weight="bold" font-style="italic" fill="#222">Proliferation</text>
<text x="387.5" y="91.6" font-size="6.0" font-weight="bold" font-style="italic" fill="#222">Lipogenesis</text>
<text x="387.5" y="98.4" font-size="6.0" font-weight="bold" font-style="italic" fill="#222">OXPHOS</text>
<text x="387.5" y="104.7" font-size="6.0" font-weight="bold" font-style="italic" fill="#222">ROS</text>
<text x="387.5" y="133.3" font-size="6.0" font-weight="bold" font-style="italic" fill="#222">Immune/</text>
<text x="387.5" y="141.1" font-size="6.0" font-weight="bold" font-style="italic" fill="#222">Inflammatory</text>
<text x="387.5" y="175.8" font-size="6.0" font-weight="bold" font-style="italic" fill="#222">EMT</text>
<text x="387.5" y="182.9" font-size="6.0" font-weight="bold" font-style="italic" fill="#222">Cell Adhesion</text>
<text x="385.5" y="14.2" font-size="4.4" fill="#111" stroke="#111" stroke-width="0.12">Normalized association of</text>
<text x="385.5" y="19.3" font-size="4.35" fill="#111" stroke="#111" stroke-width="0.12">CPTAC LUAD to TCGA LUAD Subtypes</text>
<defs><linearGradient id="gh"><stop offset="0" stop-color="#4e46c0"/><stop offset="0.5" stop-color="#f7f1f9"/><stop offset="1" stop-color="#f14428"/></linearGradient><linearGradient id="gv" x1="0" y1="1" x2="0" y2="0"><stop offset="0" stop-color="#4e46c0"/><stop offset="0.5" stop-color="#f7f1f9"/><stop offset="1" stop-color="#f14428"/></linearGradient></defs>
<rect x="390" y="22" width="18" height="3" fill="url(#gh)"/>
<text x="390.5" y="28.6" font-size="4.0" text-anchor="middle" fill="#111" stroke="#111" stroke-width="0.12">0</text>
<text x="399.0" y="28.6" font-size="4.0" text-anchor="middle" fill="#111" stroke="#111" stroke-width="0.12">0.5</text>
<text x="407.5" y="28.6" font-size="4.0" text-anchor="middle" fill="#111" stroke="#111" stroke-width="0.12">1</text>
<text x="387.0" y="40.6" font-size="5.45" font-style="italic" fill="#111" stroke="#111" stroke-width="0.12">Row <tspan font-style="italic">z</tspan>&#8722;scores of GSVA</text>
<text x="387.0" y="47.4" font-size="5.45" font-style="italic" fill="#111" stroke="#111" stroke-width="0.12">enrichment scores</text>
<rect x="448.9" y="36.3" width="3.2" height="16.7" fill="url(#gv)" opacity="0.88"/>
<text x="453.3" y="37.6" font-size="3.6" text-anchor="middle" fill="#111" stroke="#111" stroke-width="0.12" transform="rotate(90 453.3 37.6)">2</text>
<text x="453.3" y="41.2" font-size="3.6" text-anchor="middle" fill="#111" stroke="#111" stroke-width="0.12" transform="rotate(90 453.3 41.2)">1</text>
<text x="453.3" y="44.8" font-size="3.6" text-anchor="middle" fill="#111" stroke="#111" stroke-width="0.12" transform="rotate(90 453.3 44.8)">0</text>
<text x="453.3" y="48.4" font-size="3.6" text-anchor="middle" fill="#111" stroke="#111" stroke-width="0.12" transform="rotate(90 453.3 48.4)">&#8722;1</text>
<text x="453.3" y="52.0" font-size="3.6" text-anchor="middle" fill="#111" stroke="#111" stroke-width="0.12" transform="rotate(90 453.3 52.0)">&#8722;2</text>
<text x="0.4" y="203.1" font-size="16.8" font-weight="bold" fill="#000">B</text>
<rect x="50.4" y="191.0" width="256.5" height="43.3" fill="#fff" stroke="#8a8a8a" stroke-width="0.6"/>
<path d="M55.18 234.3v1.5" stroke="#444" stroke-width="0.5"/>
<text x="56.8" y="238.2" font-size="5.0" text-anchor="end" fill="#484848" stroke="#484848" stroke-width="0.12" transform="rotate(-45 56.8 238.2)">MCL1</text>
<path d="M63.15 234.3v1.5" stroke="#444" stroke-width="0.5"/>
<text x="64.7" y="238.2" font-size="5.0" text-anchor="end" fill="#484848" stroke="#484848" stroke-width="0.12" transform="rotate(-45 64.7 238.2)">TERT</text>
<path d="M71.11 234.3v1.5" stroke="#444" stroke-width="0.5"/>
<text x="72.7" y="238.2" font-size="5.0" text-anchor="end" fill="#484848" stroke="#484848" stroke-width="0.12" transform="rotate(-45 72.7 238.2)">EGFR</text>
<path d="M79.08 234.3v1.5" stroke="#444" stroke-width="0.5"/>
<text x="80.7" y="238.2" font-size="5.0" text-anchor="end" fill="#484848" stroke="#484848" stroke-width="0.12" transform="rotate(-45 80.7 238.2)">FGFR4</text>
<path d="M87.04 234.3v1.5" stroke="#444" stroke-width="0.5"/>
<text x="88.6" y="238.2" font-size="5.0" text-anchor="end" fill="#484848" stroke="#484848" stroke-width="0.12" transform="rotate(-45 88.6 238.2)">ERBB2</text>
<path d="M95.01 234.3v1.5" stroke="#444" stroke-width="0.5"/>
<text x="96.6" y="238.2" font-size="5.0" text-anchor="end" fill="#484848" stroke="#484848" stroke-width="0.12" transform="rotate(-45 96.6 238.2)">MET</text>
<path d="M102.97 234.3v1.5" stroke="#444" stroke-width="0.5"/>
<text x="104.6" y="238.2" font-size="5.0" text-anchor="end" fill="#484848" stroke="#484848" stroke-width="0.12" transform="rotate(-45 104.6 238.2)">CCND1</text>
<path d="M110.94 234.3v1.5" stroke="#444" stroke-width="0.5"/>
<text x="112.5" y="238.2" font-size="5.0" text-anchor="end" fill="#484848" stroke="#484848" stroke-width="0.12" transform="rotate(-45 112.5 238.2)">MYCL</text>
<path d="M118.91 234.3v1.5" stroke="#444" stroke-width="0.5"/>
<text x="120.5" y="238.2" font-size="5.0" text-anchor="end" fill="#484848" stroke="#484848" stroke-width="0.12" transform="rotate(-45 120.5 238.2)">CCND3</text>
<path d="M126.87 234.3v1.5" stroke="#444" stroke-width="0.5"/>
<text x="128.5" y="238.2" font-size="5.0" text-anchor="end" fill="#484848" stroke="#484848" stroke-width="0.12" transform="rotate(-45 128.5 238.2)">PAK1</text>
<path d="M134.84 234.3v1.5" stroke="#444" stroke-width="0.5"/>
<text x="136.4" y="238.2" font-size="5.0" text-anchor="end" fill="#484848" stroke="#484848" stroke-width="0.12" transform="rotate(-45 136.4 238.2)">KRAS</text>
<path d="M142.80 234.3v1.5" stroke="#444" stroke-width="0.5"/>
<text x="144.4" y="238.2" font-size="5.0" text-anchor="end" fill="#484848" stroke="#484848" stroke-width="0.12" transform="rotate(-45 144.4 238.2)">MDM2</text>
<path d="M150.77 234.3v1.5" stroke="#444" stroke-width="0.5"/>
<text x="152.4" y="238.2" font-size="5.0" text-anchor="end" fill="#484848" stroke="#484848" stroke-width="0.12" transform="rotate(-45 152.4 238.2)">KAT6A</text>
<path d="M158.74 234.3v1.5" stroke="#444" stroke-width="0.5"/>
<text x="160.3" y="238.2" font-size="5.0" text-anchor="end" fill="#484848" stroke="#484848" stroke-width="0.12" transform="rotate(-45 160.3 238.2)">CDK4</text>
<path d="M166.70 234.3v1.5" stroke="#444" stroke-width="0.5"/>
<text x="168.3" y="238.2" font-size="5.0" text-anchor="end" fill="#484848" stroke="#484848" stroke-width="0.12" transform="rotate(-45 168.3 238.2)">BCL2L1</text>
<path d="M174.67 234.3v1.5" stroke="#444" stroke-width="0.5"/>
<text x="176.3" y="238.2" font-size="5.0" text-anchor="end" fill="#484848" stroke="#484848" stroke-width="0.12" transform="rotate(-45 176.3 238.2)">PIK3CA</text>
<path d="M182.63 234.3v1.5" stroke="#444" stroke-width="0.5"/>
<text x="184.2" y="238.2" font-size="5.0" text-anchor="end" fill="#484848" stroke="#484848" stroke-width="0.12" transform="rotate(-45 184.2 238.2)">CCNE1</text>
<path d="M190.60 234.3v1.5" stroke="#444" stroke-width="0.5"/>
<text x="192.2" y="238.2" font-size="5.0" text-anchor="end" fill="#484848" stroke="#484848" stroke-width="0.12" transform="rotate(-45 192.2 238.2)">FGFR1</text>
<path d="M198.56 234.3v1.5" stroke="#444" stroke-width="0.5"/>
<text x="200.2" y="238.2" font-size="5.0" text-anchor="end" fill="#484848" stroke="#484848" stroke-width="0.12" transform="rotate(-45 200.2 238.2)">WHSC1L1</text>
<path d="M206.53 234.3v1.5" stroke="#444" stroke-width="0.5"/>
<text x="208.1" y="238.2" font-size="5.0" text-anchor="end" fill="#484848" stroke="#484848" stroke-width="0.12" transform="rotate(-45 208.1 238.2)">CD274</text>
<path d="M214.50 234.3v1.5" stroke="#444" stroke-width="0.5"/>
<text x="216.1" y="238.2" font-size="5.0" text-anchor="end" fill="#484848" stroke="#484848" stroke-width="0.12" transform="rotate(-45 216.1 238.2)">JAK2</text>
<path d="M222.46 234.3v1.5" stroke="#444" stroke-width="0.5"/>
<text x="224.1" y="238.2" font-size="5.0" text-anchor="end" fill="#484848" stroke="#484848" stroke-width="0.12" transform="rotate(-45 224.1 238.2)">NKX2-1</text>
<path d="M230.43 234.3v1.5" stroke="#444" stroke-width="0.5"/>
<text x="232.0" y="238.2" font-size="5.0" text-anchor="end" fill="#484848" stroke="#484848" stroke-width="0.12" transform="rotate(-45 232.0 238.2)">MAPK1</text>
<path d="M238.39 234.3v1.5" stroke="#444" stroke-width="0.5"/>
<text x="240.0" y="238.2" font-size="5.0" text-anchor="end" fill="#484848" stroke="#484848" stroke-width="0.12" transform="rotate(-45 240.0 238.2)">PTPRD</text>
<path d="M246.36 234.3v1.5" stroke="#444" stroke-width="0.5"/>
<text x="248.0" y="238.2" font-size="5.0" text-anchor="end" fill="#484848" stroke="#484848" stroke-width="0.12" transform="rotate(-45 248.0 238.2)">CDKN2A</text>
<path d="M254.33 234.3v1.5" stroke="#444" stroke-width="0.5"/>
<text x="255.9" y="238.2" font-size="5.0" text-anchor="end" fill="#484848" stroke="#484848" stroke-width="0.12" transform="rotate(-45 255.9 238.2)">CDKN2B</text>
<path d="M262.29 234.3v1.5" stroke="#444" stroke-width="0.5"/>
<text x="263.9" y="238.2" font-size="5.0" text-anchor="end" fill="#484848" stroke="#484848" stroke-width="0.12" transform="rotate(-45 263.9 238.2)">VGLL3</text>
<path d="M270.26 234.3v1.5" stroke="#444" stroke-width="0.5"/>
<text x="271.9" y="238.2" font-size="5.0" text-anchor="end" fill="#484848" stroke="#484848" stroke-width="0.12" transform="rotate(-45 271.9 238.2)">SMARCA4</text>
<path d="M278.22 234.3v1.5" stroke="#444" stroke-width="0.5"/>
<text x="279.8" y="238.2" font-size="5.0" text-anchor="end" fill="#484848" stroke="#484848" stroke-width="0.12" transform="rotate(-45 279.8 238.2)">CCSER1</text>
<path d="M286.19 234.3v1.5" stroke="#444" stroke-width="0.5"/>
<text x="287.8" y="238.2" font-size="5.0" text-anchor="end" fill="#484848" stroke="#484848" stroke-width="0.12" transform="rotate(-45 287.8 238.2)">FAT1</text>
<path d="M294.15 234.3v1.5" stroke="#444" stroke-width="0.5"/>
<text x="295.8" y="238.2" font-size="5.0" text-anchor="end" fill="#484848" stroke="#484848" stroke-width="0.12" transform="rotate(-45 295.8 238.2)">PDE4D</text>
<path d="M302.12 234.3v1.5" stroke="#444" stroke-width="0.5"/>
<text x="303.7" y="238.2" font-size="5.0" text-anchor="end" fill="#484848" stroke="#484848" stroke-width="0.12" transform="rotate(-45 303.7 238.2)">KDM6A</text>
<path fill="#9ad04e" d="M51.59 229.50h3.58v-22.70h-3.58zM59.56 229.50h3.58v-16.69h-3.58zM67.53 229.50h3.58v-10.68h-3.58zM75.49 229.50h3.58v-10.68h-3.58zM83.46 229.50h3.58v-7.34h-3.58zM91.42 229.50h3.58v-7.34h-3.58zM99.39 229.50h3.58v-6.01h-3.58zM107.36 229.50h3.58v-8.01h-3.58zM115.32 229.50h3.58v-11.01h-3.58zM123.29 229.50h3.58v-5.34h-3.58zM131.25 229.50h3.58v-5.34h-3.58zM139.22 229.50h3.58v-4.67h-3.58zM147.18 229.50h3.58v-6.67h-3.58zM155.15 229.50h3.58v-4.67h-3.58zM163.12 229.50h3.58v-9.01h-3.58zM171.08 229.50h3.58v-3.34h-3.58zM179.05 229.50h3.58v-4.67h-3.58zM187.01 229.50h3.58v-7.34h-3.58zM194.98 229.50h3.58v-6.67h-3.58zM202.95 229.50h3.58v-2.00h-3.58zM210.91 229.50h3.58v-2.34h-3.58zM218.88 229.50h3.58v-2.00h-3.58zM226.84 229.50h3.58v-3.67h-3.58zM234.81 229.50h3.58v-19.36h-3.58zM242.78 229.50h3.58v-19.36h-3.58zM250.74 229.50h3.58v-18.69h-3.58zM258.71 229.50h3.58v-10.68h-3.58zM266.67 229.50h3.58v-14.02h-3.58zM274.64 229.50h3.58v-4.00h-3.58zM282.60 229.50h3.58v-4.67h-3.58zM290.57 229.50h3.58v-5.34h-3.58zM298.54 229.50h3.58v-4.67h-3.58z"/>
<path fill="#14662d" d="M55.18 229.50h3.58v-27.37h-3.58zM63.15 229.50h3.58v-22.70h-3.58zM71.11 229.50h3.58v-17.36h-3.58zM79.08 229.50h3.58v-16.02h-3.58zM87.04 229.50h3.58v-14.02h-3.58zM95.01 229.50h3.58v-12.02h-3.58zM102.97 229.50h3.58v-12.02h-3.58zM110.94 229.50h3.58v-11.35h-3.58zM118.91 229.50h3.58v-11.35h-3.58zM126.87 229.50h3.58v-10.68h-3.58zM134.84 229.50h3.58v-9.34h-3.58zM142.80 229.50h3.58v-9.34h-3.58zM150.77 229.50h3.58v-8.01h-3.58zM158.74 229.50h3.58v-8.01h-3.58zM166.70 229.50h3.58v-8.01h-3.58zM174.67 229.50h3.58v-7.34h-3.58zM182.63 229.50h3.58v-6.67h-3.58zM190.60 229.50h3.58v-4.00h-3.58zM198.56 229.50h3.58v-3.34h-3.58zM206.53 229.50h3.58v-2.00h-3.58zM214.50 229.50h3.58v-2.00h-3.58zM222.46 229.50h3.58v-1.33h-3.58zM230.43 229.50h3.58v-1.33h-3.58zM238.39 229.50h3.58v-22.03h-3.58zM246.36 229.50h3.58v-20.69h-3.58zM254.33 229.50h3.58v-20.69h-3.58zM262.29 229.50h3.58v-14.02h-3.58zM270.26 229.50h3.58v-10.68h-3.58zM278.22 229.50h3.58v-8.01h-3.58zM286.19 229.50h3.58v-7.34h-3.58zM294.15 229.50h3.58v-5.34h-3.58zM302.12 229.50h3.58v-3.34h-3.58z"/>
<path fill="none" stroke="#566056" stroke-width="0.5" d="M53.39 204.23V209.38M56.97 198.77V205.49M61.35 210.05V215.58M64.94 202.73V210.88M69.32 216.24V221.40M72.90 207.78V216.51M77.28 216.24V221.40M80.87 209.11V217.85M85.25 219.87V224.45M88.84 211.17V219.80M93.22 219.87V224.45M96.80 213.29V221.68M101.18 221.37V225.62M104.77 213.29V221.68M109.15 219.13V223.85M112.73 214.01V222.29M117.11 215.89V221.09M120.70 214.01V222.29M125.08 222.13V226.19M128.66 214.74V222.90M133.05 222.13V226.19M136.63 216.23V224.08M141.01 222.91V226.75M144.60 216.23V224.08M148.98 220.61V225.04M152.56 217.76V225.22M156.94 222.91V226.75M160.53 217.76V225.22M164.91 218.03V222.94M168.49 217.76V225.22M172.87 224.50V227.82M176.46 218.54V225.78M180.84 222.91V226.75M184.43 219.33V226.32M188.81 219.87V224.45M192.39 222.65V228.34M196.77 220.61V225.04M200.36 223.54V228.78M204.74 226.18V228.81M208.32 225.42V229.50M212.70 225.75V228.57M216.29 225.42V229.50M220.67 226.18V228.81M224.25 226.45V229.50M228.64 224.10V227.56M232.22 226.45V229.50M236.60 207.41V212.87M240.19 203.33V211.61M244.57 207.41V212.87M248.15 204.56V213.05M252.53 208.07V213.55M256.12 204.56V213.05M260.50 216.24V221.40M264.08 211.17V219.80M268.46 212.75V218.21M272.05 214.74V222.90M276.43 223.70V227.29M280.02 217.76V225.22M284.40 222.91V226.75M287.98 218.54V225.78M292.36 222.13V226.19M295.95 220.96V227.36M300.33 222.91V226.75M303.91 223.54V228.78"/>
<path d="M48.8 229.50h1.6" stroke="#444" stroke-width="0.5"/>
<text x="48.2" y="231.4" font-size="5.4" text-anchor="end" fill="#333" stroke="#333" stroke-width="0.12">0</text>
<path d="M48.8 216.15h1.6" stroke="#444" stroke-width="0.5"/>
<text x="48.2" y="218.1" font-size="5.4" text-anchor="end" fill="#333" stroke="#333" stroke-width="0.12">40</text>
<path d="M48.8 202.80h1.6" stroke="#444" stroke-width="0.5"/>
<text x="48.2" y="204.7" font-size="5.4" text-anchor="end" fill="#333" stroke="#333" stroke-width="0.12">80</text>
<text x="40.1" y="213.2" font-size="6.3" text-anchor="middle" fill="#222" stroke="#222" stroke-width="0.12" transform="rotate(-90 40.1 213.2)">S5</text>
<rect x="50.4" y="259.8" width="256.5" height="43.0" fill="#fff" stroke="#8a8a8a" stroke-width="0.6"/>
<path d="M55.18 302.8v1.5" stroke="#444" stroke-width="0.5"/>
<text x="56.8" y="306.7" font-size="5.0" text-anchor="end" fill="#484848" stroke="#484848" stroke-width="0.12" transform="rotate(-45 56.8 306.7)">MCL1</text>
<path d="M63.15 302.8v1.5" stroke="#444" stroke-width="0.5"/>
<text x="64.7" y="306.7" font-size="5.0" text-anchor="end" fill="#484848" stroke="#484848" stroke-width="0.12" transform="rotate(-45 64.7 306.7)">CCND1</text>
<path d="M71.11 302.8v1.5" stroke="#444" stroke-width="0.5"/>
<text x="72.7" y="306.7" font-size="5.0" text-anchor="end" fill="#484848" stroke="#484848" stroke-width="0.12" transform="rotate(-45 72.7 306.7)">TERT</text>
<path d="M79.08 302.8v1.5" stroke="#444" stroke-width="0.5"/>
<text x="80.7" y="306.7" font-size="5.0" text-anchor="end" fill="#484848" stroke="#484848" stroke-width="0.12" transform="rotate(-45 80.7 306.7)">MDM2</text>
<path d="M87.04 302.8v1.5" stroke="#444" stroke-width="0.5"/>
<text x="88.6" y="306.7" font-size="5.0" text-anchor="end" fill="#484848" stroke="#484848" stroke-width="0.12" transform="rotate(-45 88.6 306.7)">PAK1</text>
<path d="M95.01 302.8v1.5" stroke="#444" stroke-width="0.5"/>
<text x="96.6" y="306.7" font-size="5.0" text-anchor="end" fill="#484848" stroke="#484848" stroke-width="0.12" transform="rotate(-45 96.6 306.7)">KRAS</text>
<path d="M102.97 302.8v1.5" stroke="#444" stroke-width="0.5"/>
<text x="104.6" y="306.7" font-size="5.0" text-anchor="end" fill="#484848" stroke="#484848" stroke-width="0.12" transform="rotate(-45 104.6 306.7)">CDK4</text>
<path d="M110.94 302.8v1.5" stroke="#444" stroke-width="0.5"/>
<text x="112.5" y="306.7" font-size="5.0" text-anchor="end" fill="#484848" stroke="#484848" stroke-width="0.12" transform="rotate(-45 112.5 306.7)">CCNE1</text>
<path d="M118.91 302.8v1.5" stroke="#444" stroke-width="0.5"/>
<text x="120.5" y="306.7" font-size="5.0" text-anchor="end" fill="#484848" stroke="#484848" stroke-width="0.12" transform="rotate(-45 120.5 306.7)">CCND3</text>
<path d="M126.87 302.8v1.5" stroke="#444" stroke-width="0.5"/>
<text x="128.5" y="306.7" font-size="5.0" text-anchor="end" fill="#484848" stroke="#484848" stroke-width="0.12" transform="rotate(-45 128.5 306.7)">BCL2L1</text>
<path d="M134.84 302.8v1.5" stroke="#444" stroke-width="0.5"/>
<text x="136.4" y="306.7" font-size="5.0" text-anchor="end" fill="#484848" stroke="#484848" stroke-width="0.12" transform="rotate(-45 136.4 306.7)">ERBB2</text>
<path d="M142.80 302.8v1.5" stroke="#444" stroke-width="0.5"/>
<text x="144.4" y="306.7" font-size="5.0" text-anchor="end" fill="#484848" stroke="#484848" stroke-width="0.12" transform="rotate(-45 144.4 306.7)">EGFR</text>
<path d="M150.77 302.8v1.5" stroke="#444" stroke-width="0.5"/>
<text x="152.4" y="306.7" font-size="5.0" text-anchor="end" fill="#484848" stroke="#484848" stroke-width="0.12" transform="rotate(-45 152.4 306.7)">MET</text>
<path d="M158.74 302.8v1.5" stroke="#444" stroke-width="0.5"/>
<text x="160.3" y="306.7" font-size="5.0" text-anchor="end" fill="#484848" stroke="#484848" stroke-width="0.12" transform="rotate(-45 160.3 306.7)">KAT6A</text>
<path d="M166.70 302.8v1.5" stroke="#444" stroke-width="0.5"/>
<text x="168.3" y="306.7" font-size="5.0" text-anchor="end" fill="#484848" stroke="#484848" stroke-width="0.12" transform="rotate(-45 168.3 306.7)">NKX2-1</text>
<path d="M174.67 302.8v1.5" stroke="#444" stroke-width="0.5"/>
<text x="176.3" y="306.7" font-size="5.0" text-anchor="end" fill="#484848" stroke="#484848" stroke-width="0.12" transform="rotate(-45 176.3 306.7)">MYCL</text>
<path d="M182.63 302.8v1.5" stroke="#444" stroke-width="0.5"/>
<text x="184.2" y="306.7" font-size="5.0" text-anchor="end" fill="#484848" stroke="#484848" stroke-width="0.12" transform="rotate(-45 184.2 306.7)">PIK3CA</text>
<path d="M190.60 302.8v1.5" stroke="#444" stroke-width="0.5"/>
<text x="192.2" y="306.7" font-size="5.0" text-anchor="end" fill="#484848" stroke="#484848" stroke-width="0.12" transform="rotate(-45 192.2 306.7)">FGFR1</text>
<path d="M198.56 302.8v1.5" stroke="#444" stroke-width="0.5"/>
<text x="200.2" y="306.7" font-size="5.0" text-anchor="end" fill="#484848" stroke="#484848" stroke-width="0.12" transform="rotate(-45 200.2 306.7)">WHSC1L1</text>
<path d="M206.53 302.8v1.5" stroke="#444" stroke-width="0.5"/>
<text x="208.1" y="306.7" font-size="5.0" text-anchor="end" fill="#484848" stroke="#484848" stroke-width="0.12" transform="rotate(-45 208.1 306.7)">MAPK1</text>
<path d="M214.50 302.8v1.5" stroke="#444" stroke-width="0.5"/>
<text x="216.1" y="306.7" font-size="5.0" text-anchor="end" fill="#484848" stroke="#484848" stroke-width="0.12" transform="rotate(-45 216.1 306.7)">CD274</text>
<path d="M222.46 302.8v1.5" stroke="#444" stroke-width="0.5"/>
<text x="224.1" y="306.7" font-size="5.0" text-anchor="end" fill="#484848" stroke="#484848" stroke-width="0.12" transform="rotate(-45 224.1 306.7)">JAK2</text>
<path d="M230.43 302.8v1.5" stroke="#444" stroke-width="0.5"/>
<text x="232.0" y="306.7" font-size="5.0" text-anchor="end" fill="#484848" stroke="#484848" stroke-width="0.12" transform="rotate(-45 232.0 306.7)">FGFR4</text>
<path d="M238.39 302.8v1.5" stroke="#444" stroke-width="0.5"/>
<text x="240.0" y="306.7" font-size="5.0" text-anchor="end" fill="#484848" stroke="#484848" stroke-width="0.12" transform="rotate(-45 240.0 306.7)">SMARCA4</text>
<path d="M246.36 302.8v1.5" stroke="#444" stroke-width="0.5"/>
<text x="248.0" y="306.7" font-size="5.0" text-anchor="end" fill="#484848" stroke="#484848" stroke-width="0.12" transform="rotate(-45 248.0 306.7)">CDKN2A</text>
<path d="M254.33 302.8v1.5" stroke="#444" stroke-width="0.5"/>
<text x="255.9" y="306.7" font-size="5.0" text-anchor="end" fill="#484848" stroke="#484848" stroke-width="0.12" transform="rotate(-45 255.9 306.7)">CDKN2B</text>
<path d="M262.29 302.8v1.5" stroke="#444" stroke-width="0.5"/>
<text x="263.9" y="306.7" font-size="5.0" text-anchor="end" fill="#484848" stroke="#484848" stroke-width="0.12" transform="rotate(-45 263.9 306.7)">VGLL3</text>
<path d="M270.26 302.8v1.5" stroke="#444" stroke-width="0.5"/>
<text x="271.9" y="306.7" font-size="5.0" text-anchor="end" fill="#484848" stroke="#484848" stroke-width="0.12" transform="rotate(-45 271.9 306.7)">PTPRD</text>
<path d="M278.22 302.8v1.5" stroke="#444" stroke-width="0.5"/>
<text x="279.8" y="306.7" font-size="5.0" text-anchor="end" fill="#484848" stroke="#484848" stroke-width="0.12" transform="rotate(-45 279.8 306.7)">FAT1</text>
<path d="M286.19 302.8v1.5" stroke="#444" stroke-width="0.5"/>
<text x="287.8" y="306.7" font-size="5.0" text-anchor="end" fill="#484848" stroke="#484848" stroke-width="0.12" transform="rotate(-45 287.8 306.7)">CCSER1</text>
<path d="M294.15 302.8v1.5" stroke="#444" stroke-width="0.5"/>
<text x="295.8" y="306.7" font-size="5.0" text-anchor="end" fill="#484848" stroke="#484848" stroke-width="0.12" transform="rotate(-45 295.8 306.7)">PDE4D</text>
<path d="M302.12 302.8v1.5" stroke="#444" stroke-width="0.5"/>
<text x="303.7" y="306.7" font-size="5.0" text-anchor="end" fill="#484848" stroke="#484848" stroke-width="0.12" transform="rotate(-45 303.7 306.7)">KDM6A</text>
<path fill="#9ad04e" d="M51.59 298.20h3.58v-26.70h-3.58zM59.56 298.20h3.58v-15.02h-3.58zM67.53 298.20h3.58v-22.70h-3.58zM75.49 298.20h3.58v-18.36h-3.58zM83.46 298.20h3.58v-15.02h-3.58zM91.42 298.20h3.58v-17.36h-3.58zM99.39 298.20h3.58v-19.36h-3.58zM107.36 298.20h3.58v-12.02h-3.58zM115.32 298.20h3.58v-14.02h-3.58zM123.29 298.20h3.58v-18.36h-3.58zM131.25 298.20h3.58v-16.02h-3.58zM139.22 298.20h3.58v-17.36h-3.58zM147.18 298.20h3.58v-13.35h-3.58zM155.15 298.20h3.58v-16.02h-3.58zM163.12 298.20h3.58v-4.67h-3.58zM171.08 298.20h3.58v-8.01h-3.58zM179.05 298.20h3.58v-14.02h-3.58zM187.01 298.20h3.58v-12.68h-3.58zM194.98 298.20h3.58v-13.35h-3.58zM202.95 298.20h3.58v-6.67h-3.58zM210.91 298.20h3.58v-4.00h-3.58zM218.88 298.20h3.58v-4.00h-3.58zM226.84 298.20h3.58v-5.34h-3.58zM234.81 298.20h3.58v-20.02h-3.58zM242.78 298.20h3.58v-19.36h-3.58zM250.74 298.20h3.58v-19.36h-3.58zM258.71 298.20h3.58v-13.35h-3.58zM266.67 298.20h3.58v-20.02h-3.58zM274.64 298.20h3.58v-18.36h-3.58zM282.60 298.20h3.58v-16.69h-3.58zM290.57 298.20h3.58v-16.69h-3.58zM298.54 298.20h3.58v-4.67h-3.58z"/>
<path fill="#14662d" d="M55.18 298.20h3.58v-30.04h-3.58zM63.15 298.20h3.58v-23.36h-3.58zM71.11 298.20h3.58v-20.02h-3.58zM79.08 298.20h3.58v-20.02h-3.58zM87.04 298.20h3.58v-16.69h-3.58zM95.01 298.20h3.58v-16.69h-3.58zM102.97 298.20h3.58v-16.69h-3.58zM110.94 298.20h3.58v-16.69h-3.58zM118.91 298.20h3.58v-16.69h-3.58zM126.87 298.20h3.58v-16.69h-3.58zM134.84 298.20h3.58v-13.35h-3.58zM142.80 298.20h3.58v-13.35h-3.58zM150.77 298.20h3.58v-10.01h-3.58zM158.74 298.20h3.58v-10.01h-3.58zM166.70 298.20h3.58v-10.01h-3.58zM174.67 298.20h3.58v-10.01h-3.58zM182.63 298.20h3.58v-6.67h-3.58zM190.60 298.20h3.58v-6.67h-3.58zM198.56 298.20h3.58v-6.67h-3.58zM206.53 298.20h3.58v-6.67h-3.58zM214.50 298.20h3.58v-3.34h-3.58zM222.46 298.20h3.58v-3.34h-3.58zM230.43 298.20h3.58v-3.34h-3.58zM238.39 298.20h3.58v-33.38h-3.58zM246.36 298.20h3.58v-26.70h-3.58zM254.33 298.20h3.58v-26.70h-3.58zM262.29 298.20h3.58v-26.70h-3.58zM270.26 298.20h3.58v-23.36h-3.58zM278.22 298.20h3.58v-20.02h-3.58zM286.19 298.20h3.58v-20.02h-3.58zM294.15 298.20h3.58v-13.35h-3.58zM302.12 298.20h3.58v-6.67h-3.58z"/>
<path fill="none" stroke="#566056" stroke-width="0.5" d="M53.39 269.29V273.71M56.97 261.96V274.37M61.35 280.43V285.93M64.94 265.36V284.32M69.32 272.93V278.08M72.90 268.04V288.31M77.28 277.09V282.59M80.87 268.04V288.31M85.25 280.43V285.93M88.84 271.17V291.86M93.22 278.08V283.61M96.80 271.17V291.86M101.18 276.11V281.57M104.77 271.17V291.86M109.15 283.53V288.84M112.73 271.17V291.86M117.11 281.45V286.91M120.70 271.17V291.86M125.08 277.09V282.59M128.66 271.17V291.86M133.05 279.42V284.94M136.63 274.72V294.98M141.01 278.08V283.61M144.60 274.72V294.98M148.98 282.14V287.56M152.56 278.71V297.67M156.94 279.42V284.94M160.53 278.71V297.67M164.91 291.61V295.45M168.49 278.71V297.67M172.87 287.83V292.55M176.46 278.71V297.67M180.84 281.45V286.91M184.43 283.25V298.20M188.81 282.83V288.20M192.39 283.25V298.20M196.77 282.14V287.56M200.36 283.25V298.20M204.74 289.31V293.74M208.32 283.25V298.20M212.70 292.40V295.99M216.29 288.66V298.20M220.67 292.40V295.99M224.25 288.66V298.20M228.64 290.83V294.89M232.22 288.66V298.20M236.60 275.47V280.88M240.19 261.24V268.41M244.57 276.11V281.57M248.15 263.23V279.77M252.53 276.11V281.57M256.12 263.23V279.77M260.50 282.14V287.56M264.08 263.23V279.77M268.46 275.47V280.88M272.05 265.36V284.32M276.43 277.09V282.59M280.02 268.04V288.31M284.40 278.75V284.28M287.98 268.04V288.31M292.36 278.75V284.28M295.95 274.72V294.98M300.33 291.61V295.45M303.91 283.25V298.20"/>
<path d="M48.8 298.20h1.6" stroke="#444" stroke-width="0.5"/>
<text x="48.2" y="300.1" font-size="5.4" text-anchor="end" fill="#333" stroke="#333" stroke-width="0.12">0</text>
<path d="M48.8 284.85h1.6" stroke="#444" stroke-width="0.5"/>
<text x="48.2" y="286.7" font-size="5.4" text-anchor="end" fill="#333" stroke="#333" stroke-width="0.12">40</text>
<path d="M48.8 271.50h1.6" stroke="#444" stroke-width="0.5"/>
<text x="48.2" y="273.4" font-size="5.4" text-anchor="end" fill="#333" stroke="#333" stroke-width="0.12">80</text>
<text x="40.1" y="281.8" font-size="6.3" text-anchor="middle" fill="#222" stroke="#222" stroke-width="0.12" transform="rotate(-90 40.1 281.8)">S4</text>
<rect x="50.4" y="326.5" width="256.5" height="43.3" fill="#fff" stroke="#8a8a8a" stroke-width="0.6"/>
<path d="M55.18 369.8v1.5" stroke="#444" stroke-width="0.5"/>
<text x="56.8" y="373.7" font-size="5.0" text-anchor="end" fill="#484848" stroke="#484848" stroke-width="0.12" transform="rotate(-45 56.8 373.7)">MCL1</text>
<path d="M63.15 369.8v1.5" stroke="#444" stroke-width="0.5"/>
<text x="64.7" y="373.7" font-size="5.0" text-anchor="end" fill="#484848" stroke="#484848" stroke-width="0.12" transform="rotate(-45 64.7 373.7)">TERT</text>
<path d="M71.11 369.8v1.5" stroke="#444" stroke-width="0.5"/>
<text x="72.7" y="373.7" font-size="5.0" text-anchor="end" fill="#484848" stroke="#484848" stroke-width="0.12" transform="rotate(-45 72.7 373.7)">MET</text>
<path d="M79.08 369.8v1.5" stroke="#444" stroke-width="0.5"/>
<text x="80.7" y="373.7" font-size="5.0" text-anchor="end" fill="#484848" stroke="#484848" stroke-width="0.12" transform="rotate(-45 80.7 373.7)">EGFR</text>
<path d="M87.04 369.8v1.5" stroke="#444" stroke-width="0.5"/>
<text x="88.6" y="373.7" font-size="5.0" text-anchor="end" fill="#484848" stroke="#484848" stroke-width="0.12" transform="rotate(-45 88.6 373.7)">CCND3</text>
<path d="M95.01 369.8v1.5" stroke="#444" stroke-width="0.5"/>
<text x="96.6" y="373.7" font-size="5.0" text-anchor="end" fill="#484848" stroke="#484848" stroke-width="0.12" transform="rotate(-45 96.6 373.7)">ERBB2</text>
<path d="M102.97 369.8v1.5" stroke="#444" stroke-width="0.5"/>
<text x="104.6" y="373.7" font-size="5.0" text-anchor="end" fill="#484848" stroke="#484848" stroke-width="0.12" transform="rotate(-45 104.6 373.7)">CCND1</text>
<path d="M110.94 369.8v1.5" stroke="#444" stroke-width="0.5"/>
<text x="112.5" y="373.7" font-size="5.0" text-anchor="end" fill="#484848" stroke="#484848" stroke-width="0.12" transform="rotate(-45 112.5 373.7)">PAK1</text>
<path d="M118.91 369.8v1.5" stroke="#444" stroke-width="0.5"/>
<text x="120.5" y="373.7" font-size="5.0" text-anchor="end" fill="#484848" stroke="#484848" stroke-width="0.12" transform="rotate(-45 120.5 373.7)">KAT6A</text>
<path d="M126.87 369.8v1.5" stroke="#444" stroke-width="0.5"/>
<text x="128.5" y="373.7" font-size="5.0" text-anchor="end" fill="#484848" stroke="#484848" stroke-width="0.12" transform="rotate(-45 128.5 373.7)">FGFR4</text>
<path d="M134.84 369.8v1.5" stroke="#444" stroke-width="0.5"/>
<text x="136.4" y="373.7" font-size="5.0" text-anchor="end" fill="#484848" stroke="#484848" stroke-width="0.12" transform="rotate(-45 136.4 373.7)">PIK3CA</text>
<path d="M142.80 369.8v1.5" stroke="#444" stroke-width="0.5"/>
<text x="144.4" y="373.7" font-size="5.0" text-anchor="end" fill="#484848" stroke="#484848" stroke-width="0.12" transform="rotate(-45 144.4 373.7)">CCNE1</text>
<path d="M150.77 369.8v1.5" stroke="#444" stroke-width="0.5"/>
<text x="152.4" y="373.7" font-size="5.0" text-anchor="end" fill="#484848" stroke="#484848" stroke-width="0.12" transform="rotate(-45 152.4 373.7)">CD274</text>
<path d="M158.74 369.8v1.5" stroke="#444" stroke-width="0.5"/>
<text x="160.3" y="373.7" font-size="5.0" text-anchor="end" fill="#484848" stroke="#484848" stroke-width="0.12" transform="rotate(-45 160.3 373.7)">JAK2</text>
<path d="M166.70 369.8v1.5" stroke="#444" stroke-width="0.5"/>
<text x="168.3" y="373.7" font-size="5.0" text-anchor="end" fill="#484848" stroke="#484848" stroke-width="0.12" transform="rotate(-45 168.3 373.7)">FGFR1</text>
<path d="M174.67 369.8v1.5" stroke="#444" stroke-width="0.5"/>
<text x="176.3" y="373.7" font-size="5.0" text-anchor="end" fill="#484848" stroke="#484848" stroke-width="0.12" transform="rotate(-45 176.3 373.7)">WHSC1L1</text>
<path d="M182.63 369.8v1.5" stroke="#444" stroke-width="0.5"/>
<text x="184.2" y="373.7" font-size="5.0" text-anchor="end" fill="#484848" stroke="#484848" stroke-width="0.12" transform="rotate(-45 184.2 373.7)">BCL2L1</text>
<path d="M190.60 369.8v1.5" stroke="#444" stroke-width="0.5"/>
<text x="192.2" y="373.7" font-size="5.0" text-anchor="end" fill="#484848" stroke="#484848" stroke-width="0.12" transform="rotate(-45 192.2 373.7)">KRAS</text>
<path d="M198.56 369.8v1.5" stroke="#444" stroke-width="0.5"/>
<text x="200.2" y="373.7" font-size="5.0" text-anchor="end" fill="#484848" stroke="#484848" stroke-width="0.12" transform="rotate(-45 200.2 373.7)">CDK4</text>
<path d="M206.53 369.8v1.5" stroke="#444" stroke-width="0.5"/>
<text x="208.1" y="373.7" font-size="5.0" text-anchor="end" fill="#484848" stroke="#484848" stroke-width="0.12" transform="rotate(-45 208.1 373.7)">MDM2</text>
<path d="M214.50 369.8v1.5" stroke="#444" stroke-width="0.5"/>
<text x="216.1" y="373.7" font-size="5.0" text-anchor="end" fill="#484848" stroke="#484848" stroke-width="0.12" transform="rotate(-45 216.1 373.7)">MAPK1</text>
<path d="M222.46 369.8v1.5" stroke="#444" stroke-width="0.5"/>
<text x="224.1" y="373.7" font-size="5.0" text-anchor="end" fill="#484848" stroke="#484848" stroke-width="0.12" transform="rotate(-45 224.1 373.7)">NKX2-1</text>
<path d="M230.43 369.8v1.5" stroke="#444" stroke-width="0.5"/>
<text x="232.0" y="373.7" font-size="5.0" text-anchor="end" fill="#484848" stroke="#484848" stroke-width="0.12" transform="rotate(-45 232.0 373.7)">MYCL</text>
<path d="M238.39 369.8v1.5" stroke="#444" stroke-width="0.5"/>
<text x="240.0" y="373.7" font-size="5.0" text-anchor="end" fill="#484848" stroke="#484848" stroke-width="0.12" transform="rotate(-45 240.0 373.7)">CDKN2A</text>
<path d="M246.36 369.8v1.5" stroke="#444" stroke-width="0.5"/>
<text x="248.0" y="373.7" font-size="5.0" text-anchor="end" fill="#484848" stroke="#484848" stroke-width="0.12" transform="rotate(-45 248.0 373.7)">CDKN2B</text>
<path d="M254.33 369.8v1.5" stroke="#444" stroke-width="0.5"/>
<text x="255.9" y="373.7" font-size="5.0" text-anchor="end" fill="#484848" stroke="#484848" stroke-width="0.12" transform="rotate(-45 255.9 373.7)">PTPRD</text>
<path d="M262.29 369.8v1.5" stroke="#444" stroke-width="0.5"/>
<text x="263.9" y="373.7" font-size="5.0" text-anchor="end" fill="#484848" stroke="#484848" stroke-width="0.12" transform="rotate(-45 263.9 373.7)">PDE4D</text>
<path d="M270.26 369.8v1.5" stroke="#444" stroke-width="0.5"/>
<text x="271.9" y="373.7" font-size="5.0" text-anchor="end" fill="#484848" stroke="#484848" stroke-width="0.12" transform="rotate(-45 271.9 373.7)">SMARCA4</text>
<path d="M278.22 369.8v1.5" stroke="#444" stroke-width="0.5"/>
<text x="279.8" y="373.7" font-size="5.0" text-anchor="end" fill="#484848" stroke="#484848" stroke-width="0.12" transform="rotate(-45 279.8 373.7)">FAT1</text>
<path d="M286.19 369.8v1.5" stroke="#444" stroke-width="0.5"/>
<text x="287.8" y="373.7" font-size="5.0" text-anchor="end" fill="#484848" stroke="#484848" stroke-width="0.12" transform="rotate(-45 287.8 373.7)">CCSER1</text>
<path d="M294.15 369.8v1.5" stroke="#444" stroke-width="0.5"/>
<text x="295.8" y="373.7" font-size="5.0" text-anchor="end" fill="#484848" stroke="#484848" stroke-width="0.12" transform="rotate(-45 295.8 373.7)">KDM6A</text>
<path d="M302.12 369.8v1.5" stroke="#444" stroke-width="0.5"/>
<text x="303.7" y="373.7" font-size="5.0" text-anchor="end" fill="#484848" stroke="#484848" stroke-width="0.12" transform="rotate(-45 303.7 373.7)">VGLL3</text>
<path fill="#9ad04e" d="M51.59 365.20h3.58v-20.02h-3.58zM59.56 365.20h3.58v-22.70h-3.58zM67.53 365.20h3.58v-20.69h-3.58zM75.49 365.20h3.58v-21.69h-3.58zM83.46 365.20h3.58v-9.34h-3.58zM91.42 365.20h3.58v-18.36h-3.58zM99.39 365.20h3.58v-12.02h-3.58zM107.36 365.20h3.58v-10.68h-3.58zM115.32 365.20h3.58v-11.68h-3.58zM123.29 365.20h3.58v-6.01h-3.58zM131.25 365.20h3.58v-12.68h-3.58zM139.22 365.20h3.58v-8.01h-3.58zM147.18 365.20h3.58v-6.01h-3.58zM155.15 365.20h3.58v-5.34h-3.58zM163.12 365.20h3.58v-7.34h-3.58zM171.08 365.20h3.58v-8.01h-3.58zM179.05 365.20h3.58v-13.35h-3.58zM187.01 365.20h3.58v-14.02h-3.58zM194.98 365.20h3.58v-12.02h-3.58zM202.95 365.20h3.58v-10.01h-3.58zM210.91 365.20h3.58v-6.67h-3.58zM218.88 365.20h3.58v-4.67h-3.58zM226.84 365.20h3.58v-4.67h-3.58zM234.81 365.20h3.58v-16.69h-3.58zM242.78 365.20h3.58v-17.36h-3.58zM250.74 365.20h3.58v-16.02h-3.58zM258.71 365.20h3.58v-12.68h-3.58zM266.67 365.20h3.58v-18.36h-3.58zM274.64 365.20h3.58v-11.68h-3.58zM282.60 365.20h3.58v-8.34h-3.58zM290.57 365.20h3.58v-11.68h-3.58zM298.54 365.20h3.58v-7.34h-3.58z"/>
<path fill="#14662d" d="M55.18 365.20h3.58v-27.37h-3.58zM63.15 365.20h3.58v-27.37h-3.58zM71.11 365.20h3.58v-27.37h-3.58zM79.08 365.20h3.58v-27.37h-3.58zM87.04 365.20h3.58v-24.36h-3.58zM95.01 365.20h3.58v-21.36h-3.58zM102.97 365.20h3.58v-21.36h-3.58zM110.94 365.20h3.58v-18.36h-3.58zM118.91 365.20h3.58v-15.02h-3.58zM126.87 365.20h3.58v-15.02h-3.58zM134.84 365.20h3.58v-12.02h-3.58zM142.80 365.20h3.58v-12.02h-3.58zM150.77 365.20h3.58v-9.01h-3.58zM158.74 365.20h3.58v-9.01h-3.58zM166.70 365.20h3.58v-9.01h-3.58zM174.67 365.20h3.58v-9.01h-3.58zM182.63 365.20h3.58v-9.01h-3.58zM190.60 365.20h3.58v-6.01h-3.58zM198.56 365.20h3.58v-6.01h-3.58zM206.53 365.20h3.58v-6.01h-3.58zM214.50 365.20h3.58v-6.01h-3.58zM222.46 365.20h3.58v-3.00h-3.58zM230.43 365.20h3.58v-0.00h-3.58zM238.39 365.20h3.58v-21.36h-3.58zM246.36 365.20h3.58v-21.36h-3.58zM254.33 365.20h3.58v-13.35h-3.58zM262.29 365.20h3.58v-13.35h-3.58zM270.26 365.20h3.58v-13.35h-3.58zM278.22 365.20h3.58v-10.01h-3.58zM286.19 365.20h3.58v-6.01h-3.58zM294.15 365.20h3.58v-3.00h-3.58zM302.12 365.20h3.58v-3.00h-3.58z"/>
<path fill="none" stroke="#566056" stroke-width="0.5" d="M53.39 342.47V347.88M56.97 330.26V345.41M61.35 339.93V345.08M64.94 330.26V345.41M69.32 341.82V347.19M72.90 330.26V345.41M77.28 340.87V346.14M80.87 330.26V345.41M85.25 353.37V358.34M88.84 332.08V349.59M93.22 344.09V349.59M96.80 334.37V353.31M101.18 350.53V355.84M104.77 334.37V353.31M109.15 351.94V357.10M112.73 337.03V356.66M117.11 350.88V356.16M120.70 340.37V359.99M125.08 357.07V361.32M128.66 340.37V359.99M133.05 349.83V355.20M136.63 343.72V362.65M141.01 354.83V359.55M144.60 343.72V362.65M148.98 357.07V361.32M152.56 347.43V364.95M156.94 357.83V361.89M160.53 347.43V364.95M164.91 355.57V360.15M168.49 347.43V364.95M172.87 354.83V359.55M176.46 347.43V364.95M180.84 349.14V354.56M184.43 347.43V364.95M188.81 348.45V353.91M192.39 351.62V365.20M196.77 350.53V355.84M200.36 351.62V365.20M204.74 352.65V357.72M208.32 351.62V365.20M212.70 356.31V360.74M216.29 351.62V365.20M220.67 358.61V362.45M224.25 356.55V365.20M228.64 358.61V362.45M232.22 361.78V365.20M236.60 345.75V351.28M240.19 334.37V353.31M244.57 345.08V350.61M248.15 334.37V353.31M252.53 346.42V351.94M256.12 342.19V361.51M260.50 349.83V355.20M264.08 342.19V361.51M268.46 344.09V349.59M272.05 342.19V361.51M276.43 350.88V356.16M280.02 346.15V364.23M284.40 354.46V359.25M287.98 351.62V365.20M292.36 350.88V356.16M295.95 356.55V365.20M300.33 355.57V360.15M303.91 356.55V365.20"/>
<path d="M48.8 365.20h1.6" stroke="#444" stroke-width="0.5"/>
<text x="48.2" y="367.1" font-size="5.4" text-anchor="end" fill="#333" stroke="#333" stroke-width="0.12">0</text>
<path d="M48.8 351.85h1.6" stroke="#444" stroke-width="0.5"/>
<text x="48.2" y="353.7" font-size="5.4" text-anchor="end" fill="#333" stroke="#333" stroke-width="0.12">40</text>
<path d="M48.8 338.50h1.6" stroke="#444" stroke-width="0.5"/>
<text x="48.2" y="340.4" font-size="5.4" text-anchor="end" fill="#333" stroke="#333" stroke-width="0.12">80</text>
<text x="40.1" y="348.6" font-size="6.3" text-anchor="middle" fill="#222" stroke="#222" stroke-width="0.12" transform="rotate(-90 40.1 348.6)">S3</text>
<text x="27.8" y="280.6" font-size="5.6" text-anchor="middle" fill="#222" stroke="#222" stroke-width="0.12" transform="rotate(-90 27.8 280.6)">% of samples with SCNA</text>
<path d="M51 396.5H228" stroke="#d4213d" stroke-width="1"/>
<path d="M232 396.5H307" stroke="#33339a" stroke-width="1"/>
<text x="139.5" y="404.2" font-size="7.2" text-anchor="middle" fill="#111" stroke="#111" stroke-width="0.12">Amplification</text>
<text x="274.0" y="404.2" font-size="7.2" text-anchor="middle" fill="#111" stroke="#111" stroke-width="0.12">Deletion</text>
<text x="317.0" y="203.0" font-size="5.7" fill="#222" stroke="#222" stroke-width="0.12">Group:</text>
<rect x="314.6" y="206.6" width="4.8" height="4.6" fill="#9ad04e"/>
<rect x="314.6" y="215.2" width="4.8" height="4.6" fill="#14662d"/>
<text x="323.3" y="210.7" font-size="4.7" fill="#222" stroke="#222" stroke-width="0.12">TCGA&#8722;LUAD</text>
<text x="323.3" y="219.2" font-size="4.7" fill="#222" stroke="#222" stroke-width="0.12">CPTAC&#8722;LUAD</text>
<rect x="351.5" y="233.4" width="129.2" height="123.6" fill="#fff" stroke="#c9bdb2" stroke-width="0.7"/>
<rect x="355.6" y="237.3" width="40.8" height="38.9" fill="#f6f8fd"/>
<rect x="396.2" y="237.3" width="40.5" height="38.9" fill="#a9bce3"/>
<rect x="436.5" y="237.3" width="40.7" height="38.9" fill="#3873bd"/>
<rect x="355.6" y="276.0" width="40.8" height="39.0" fill="#ffffff"/>
<rect x="396.2" y="276.0" width="40.5" height="39.0" fill="#4a7dc4"/>
<rect x="436.5" y="276.0" width="40.7" height="39.0" fill="#aabde3"/>
<rect x="355.6" y="314.8" width="40.8" height="39.1" fill="#7f9dd5"/>
<rect x="396.2" y="314.8" width="40.5" height="39.1" fill="#d6def2"/>
<rect x="436.5" y="314.8" width="40.7" height="39.1" fill="#9cb2de"/>
<text x="347.6" y="256.6" font-size="4.6" text-anchor="middle" fill="#333" stroke="#333" stroke-width="0.12" transform="rotate(-90 347.6 256.6)">TCGA_S5</text>
<path d="M350.2 256.6h1.3" stroke="#999" stroke-width="0.4"/>
<text x="347.6" y="295.4" font-size="4.6" text-anchor="middle" fill="#333" stroke="#333" stroke-width="0.12" transform="rotate(-90 347.6 295.4)">TCGA_S4</text>
<path d="M350.2 295.4h1.3" stroke="#999" stroke-width="0.4"/>
<text x="347.6" y="334.2" font-size="4.6" text-anchor="middle" fill="#333" stroke="#333" stroke-width="0.12" transform="rotate(-90 347.6 334.2)">TCGA_S3</text>
<path d="M350.2 334.2h1.3" stroke="#999" stroke-width="0.4"/>
<text x="375.9" y="363.2" font-size="5" text-anchor="middle" fill="#333" stroke="#333" stroke-width="0.12">S3</text>
<path d="M375.9 357v1.3" stroke="#999" stroke-width="0.4"/>
<text x="416.4" y="363.2" font-size="5" text-anchor="middle" fill="#333" stroke="#333" stroke-width="0.12">S4</text>
<path d="M416.4 357v1.3" stroke="#999" stroke-width="0.4"/>
<text x="456.8" y="363.2" font-size="5" text-anchor="middle" fill="#333" stroke="#333" stroke-width="0.12">S5</text>
<path d="M456.8 357v1.3" stroke="#999" stroke-width="0.4"/>
<text x="337.6" y="295.0" font-size="6.5" text-anchor="middle" fill="#222" stroke="#222" stroke-width="0.12" transform="rotate(-90 337.6 295.0)">LUAD expression subtypes</text>
<text x="418.2" y="372.7" font-size="6.4" text-anchor="middle" fill="#222" stroke="#222" stroke-width="0.12">CPTAC</text>
<text x="487.0" y="279.6" font-size="4.3" fill="#222" stroke="#222" stroke-width="0.12">Cosine similarity</text>
<defs><linearGradient id="gc" x1="0" y1="0" x2="0" y2="1"><stop offset="0" stop-color="#3873bd"/><stop offset="1" stop-color="#f8f9fe"/></linearGradient></defs>
<rect x="487.7" y="282.2" width="6.1" height="30.5" fill="url(#gc)"/>
<text x="496.3" y="290.6" font-size="3.0" fill="#444" stroke="#444" stroke-width="0.12">0.950</text>
<text x="496.3" y="298.7" font-size="3.0" fill="#444" stroke="#444" stroke-width="0.12">0.925</text>
<text x="496.3" y="306.8" font-size="3.0" fill="#444" stroke="#444" stroke-width="0.12">0.900</text>
<text x="496.3" y="314.9" font-size="3.0" fill="#444" stroke="#444" stroke-width="0.12">0.875</text>
<text x="0.4" y="423.0" font-size="16.8" font-weight="bold" fill="#000">C</text>
<text x="19.2" y="540.5" font-size="6.85" text-anchor="middle" font-weight="bold" fill="#222" transform="rotate(-90 19.2 540.5)">Recurrent copy number alterations</text>
<rect x="45.0" y="414.3" width="90.6" height="103.9" fill="#fff" stroke="#8a8a8a" stroke-width="0.6"/>
<text x="46.8" y="420.3" font-size="6.0" fill="#111" stroke="#111" stroke-width="0.12">MET</text>
<path d="M55.2 485.2h.01M60.7 501.2h.01M56.5 471.0h.01M52.6 490.9h.01M60.3 480.6h.01M53.4 487.6h.01M54.1 477.7h.01M55.7 483.9h.01M50.8 483.8h.01M56.1 483.0h.01M56.3 480.3h.01M54.9 487.9h.01M57.9 494.5h.01M57.1 488.9h.01M55.6 478.1h.01M54.8 494.2h.01M61.0 468.4h.01M59.8 479.4h.01M57.7 487.6h.01M61.3 480.4h.01M54.7 487.7h.01M50.4 473.4h.01M51.0 487.8h.01M55.7 498.5h.01M59.3 496.9h.01M54.7 484.2h.01M56.3 474.7h.01M60.6 494.0h.01M51.5 484.0h.01M50.2 489.1h.01M58.3 472.1h.01M50.9 486.1h.01M54.7 479.4h.01M61.9 486.5h.01M61.7 488.0h.01M51.8 483.6h.01M58.2 492.9h.01M50.9 483.5h.01M52.4 497.3h.01M52.2 481.4h.01M50.2 488.8h.01M50.6 489.9h.01M60.7 485.4h.01M61.4 483.8h.01M51.1 493.2h.01M50.2 484.9h.01M55.2 468.6h.01M53.4 483.2h.01M51.9 490.0h.01M59.1 485.1h.01M58.2 492.6h.01M51.5 476.3h.01M51.8 483.8h.01M53.8 493.1h.01M49.5 486.5h.01M58.5 489.4h.01M58.2 484.8h.01M52.3 485.2h.01M59.2 504.1h.01M52.3 487.5h.01M57.4 487.5h.01M49.7 489.0h.01M54.5 488.1h.01M52.2 485.8h.01M54.0 505.4h.01M56.3 488.4h.01M57.3 492.5h.01M58.1 476.7h.01M58.5 487.7h.01M60.7 483.1h.01M51.2 486.8h.01M61.9 481.7h.01M57.4 488.8h.01M49.4 483.6h.01M60.0 492.8h.01M57.0 496.3h.01M49.5 483.3h.01M49.1 481.8h.01M60.2 487.9h.01M56.4 492.4h.01M52.2 500.6h.01M60.0 476.0h.01M50.0 486.6h.01M54.2 484.9h.01M60.6 488.3h.01M61.9 488.5h.01M52.0 487.1h.01M59.4 476.1h.01M61.8 484.4h.01M49.0 496.0h.01M56.3 493.1h.01M52.2 495.9h.01M58.9 476.0h.01M55.1 469.8h.01M50.6 484.3h.01M69.2 460.6h.01M73.1 465.2h.01M69.7 455.3h.01M75.8 460.9h.01M68.0 459.6h.01M68.9 453.7h.01M75.1 462.0h.01M73.8 453.3h.01M70.0 459.3h.01M76.8 460.6h.01M73.1 460.3h.01M92.2 483.0h.01M92.4 490.3h.01M92.2 503.4h.01M85.4 468.4h.01M86.8 481.0h.01M91.6 493.4h.01M87.9 497.4h.01M92.9 505.2h.01M105.6 479.8h.01M104.4 467.4h.01M112.3 467.6h.01M111.6 465.3h.01M104.1 487.4h.01M106.1 469.3h.01M110.9 469.7h.01M104.3 474.0h.01M102.6 505.3h.01M104.1 470.2h.01M110.4 468.8h.01M109.0 489.1h.01M113.8 469.4h.01M100.9 471.6h.01M108.8 484.1h.01M101.2 468.6h.01M114.4 468.7h.01M102.3 474.7h.01M103.8 497.9h.01M101.0 475.6h.01M112.6 478.3h.01M107.0 477.1h.01M111.7 442.1h.01M101.8 478.2h.01M107.8 456.3h.01M101.9 477.5h.01M103.4 458.3h.01M111.7 512.4h.01M110.6 498.5h.01M111.8 480.0h.01M110.0 471.1h.01M114.8 478.4h.01M104.1 479.4h.01M112.7 470.6h.01M119.3 474.8h.01M120.4 480.4h.01M118.9 473.5h.01M118.0 473.4h.01M127.1 481.2h.01M130.3 489.4h.01M127.5 478.2h.01M128.3 487.4h.01M119.0 496.6h.01M128.7 456.1h.01M122.2 477.8h.01M121.2 483.8h.01M132.0 473.0h.01M120.6 478.5h.01M123.0 480.4h.01M129.8 471.3h.01" stroke="#b0b0b0" stroke-width="0.8" stroke-linecap="round" fill="none"/>
<path d="M68.2 462.7h.01M113.9 479.1h.01M107.7 489.8h.01M114.9 474.0h.01M113.2 443.9h.01M124.6 478.8h.01M131.9 459.1h.01" stroke="#3d3db4" stroke-width="1.15" stroke-linecap="round" fill="none"/>
<path d="M75.2 455.4h.01M68.4 447.8h.01M86.6 472.0h.01M87.1 485.5h.01M87.9 483.6h.01M85.8 491.2h.01M87.2 488.4h.01M88.2 493.0h.01M107.1 480.8h.01M112.5 480.1h.01M109.2 471.8h.01M113.4 473.8h.01M106.6 469.8h.01M112.9 472.1h.01M101.7 439.2h.01M107.6 442.8h.01M109.7 469.8h.01M108.4 468.1h.01M105.5 468.5h.01M105.2 477.0h.01M109.7 459.2h.01M100.9 469.2h.01M114.8 468.0h.01M106.2 469.5h.01M114.5 476.9h.01M104.2 473.5h.01M110.1 469.5h.01M114.8 472.9h.01M104.4 471.9h.01M112.9 474.9h.01M131.7 474.3h.01M122.4 489.2h.01M120.2 477.7h.01M125.7 476.2h.01M118.6 467.3h.01M120.6 465.2h.01M125.2 489.5h.01M122.7 474.7h.01M125.2 471.6h.01M122.3 480.1h.01M126.2 477.0h.01M124.6 487.9h.01" stroke="#e23a3a" stroke-width="1.15" stroke-linecap="round" fill="none"/>
<path d="M55.5 475.6V483.0M55.5 489.4V498.0" stroke="#a2a2a2" stroke-width="0.5" fill="none"/>
<rect x="48.7" y="483.0" width="13.6" height="6.4" fill="#e3557f" fill-opacity="0.9" stroke="#c0345f" stroke-width="0.55" stroke-opacity="1"/>
<path d="M48.7 486.2h13.6" stroke="#c0345f" stroke-width="0.9"/>
<path d="M72.9 450.0V453.0M72.9 462.5V464.0" stroke="#6e3b86" stroke-width="0.5" fill="none"/>
<rect x="70.4" y="453.0" width="5.0" height="9.5" fill="#86519e" fill-opacity="0.9" stroke="#6e3b86" stroke-width="0.55" stroke-opacity="1"/>
<path d="M70.4 457.5h5.0" stroke="#6e3b86" stroke-width="0.9"/>
<path d="M90.3 472.5V483.0M90.3 496.8V500.0" stroke="#d87208" stroke-width="0.5" fill="none"/>
<rect x="88.0" y="483.0" width="4.6" height="13.8" fill="#f28c1e" fill-opacity="0.9" stroke="#d87208" stroke-width="0.55" stroke-opacity="1"/>
<path d="M88.0 488.5h4.6" stroke="#d87208" stroke-width="0.9"/>
<path d="M107.7 453.5V467.2M107.7 482.0V501.0" stroke="#a2a2a2" stroke-width="0.5" fill="none"/>
<rect x="102.7" y="467.2" width="10.0" height="14.8" fill="#a8cbef" fill-opacity="0.9" stroke="#6397d2" stroke-width="0.55" stroke-opacity="1"/>
<path d="M102.7 475.0h10.0" stroke="#6397d2" stroke-width="0.9"/>
<path d="M125.1 462.5V470.4M125.1 482.0V498.0" stroke="#a2a2a2" stroke-width="0.5" fill="none"/>
<rect x="120.8" y="470.4" width="8.6" height="11.6" fill="#dcdcdc" fill-opacity="0.9" stroke="#9a9a9a" stroke-width="0.55" stroke-opacity="1"/>
<path d="M120.8 477.0h8.6" stroke="#9a9a9a" stroke-width="0.9"/>
<path d="M56.4 486.9h.01M61.7 483.5h.01M51.9 485.7h.01M60.9 483.7h.01M56.8 483.2h.01M49.3 485.9h.01M58.2 485.1h.01M50.7 485.0h.01M58.9 488.9h.01M60.1 486.1h.01M56.6 483.8h.01M53.4 488.4h.01M61.1 486.8h.01M55.6 489.2h.01M53.3 484.7h.01M49.1 486.3h.01M50.4 484.7h.01M56.4 484.9h.01M57.7 485.4h.01M55.7 486.6h.01M50.5 488.7h.01M51.0 487.8h.01M53.6 483.9h.01M52.5 483.1h.01M55.6 488.7h.01M56.7 484.9h.01" stroke="#f0c4cf" stroke-width="0.8" stroke-linecap="round" fill="none" opacity="0.85"/>
<path d="M105.4 468.2h.01M105.4 478.7h.01M106.3 472.3h.01M106.1 471.1h.01M125.1 474.9h.01" stroke="#555566" stroke-width="1.0" stroke-linecap="round" fill="none"/>
<path d="M111.6 471.4h.01M103.7 481.7h.01" stroke="#3d3db4" stroke-width="1.0" stroke-linecap="round" fill="none"/>
<path d="M110.4 476.1h.01M126.7 476.2h.01M124.7 472.4h.01M128.7 481.4h.01M121.2 477.1h.01" stroke="#e23a3a" stroke-width="1.0" stroke-linecap="round" fill="none"/>
<path d="M55.5 447.5H72.9" stroke="#666" stroke-width="0.45"/>
<text x="64.0" y="446.5" font-size="4.1" text-anchor="middle" fill="#000" stroke="#000" stroke-width="0.12">3.26e<tspan dy="-1.2" font-size="2.8">&#8722;18</tspan></text>
<path d="M55.5 443.0H107.7" stroke="#666" stroke-width="0.45"/>
<text x="79.4" y="442.0" font-size="4.1" text-anchor="middle" fill="#000" stroke="#000" stroke-width="0.12">5.7e<tspan dy="-1.2" font-size="2.8">&#8722;10</tspan></text>
<path d="M55.5 439.2H125.1" stroke="#666" stroke-width="0.45"/>
<text x="88.0" y="438.2" font-size="4.1" text-anchor="middle" fill="#000" stroke="#000" stroke-width="0.12">3.3e<tspan dy="-1.2" font-size="2.8">&#8722;06</tspan></text>
<path d="M72.9 435.6H90.3" stroke="#666" stroke-width="0.45"/>
<text x="81.3" y="434.6" font-size="4.1" text-anchor="middle" fill="#000" stroke="#000" stroke-width="0.12">6.38e<tspan dy="-1.2" font-size="2.8">&#8722;06</tspan></text>
<path d="M72.9 430.8H107.7" stroke="#666" stroke-width="0.45"/>
<text x="91.0" y="429.8" font-size="4.1" text-anchor="middle" fill="#000" stroke="#000" stroke-width="0.12">2e<tspan dy="-1.2" font-size="2.8">&#8722;04</tspan></text>
<path d="M72.9 426.3H125.1" stroke="#666" stroke-width="0.45"/>
<text x="102.5" y="425.3" font-size="4.1" text-anchor="middle" fill="#000" stroke="#000" stroke-width="0.12">3e<tspan dy="-1.2" font-size="2.8">&#8722;04</tspan></text>
<path d="M90.3 422.0H107.7" stroke="#666" stroke-width="0.45"/>
<text x="97.7" y="421.0" font-size="4.1" text-anchor="middle" fill="#000" stroke="#000" stroke-width="0.12">8e<tspan dy="-1.2" font-size="2.8">&#8722;04</tspan></text>
<path d="M90.3 418.7H125.1" stroke="#666" stroke-width="0.45"/>
<text x="112.0" y="417.7" font-size="4.1" text-anchor="middle" fill="#000" stroke="#000" stroke-width="0.12">1.32e<tspan dy="-1.2" font-size="2.8">&#8722;03</tspan></text>
<path d="M43.7 416.5h1.3" stroke="#555" stroke-width="0.4"/>
<text x="42.4" y="418.4" font-size="5.3" text-anchor="end" fill="#333" stroke="#333" stroke-width="0.12">10</text>
<path d="M43.7 446.5h1.3" stroke="#555" stroke-width="0.4"/>
<text x="42.4" y="448.4" font-size="5.3" text-anchor="end" fill="#333" stroke="#333" stroke-width="0.12">5</text>
<path d="M43.7 476.0h1.3" stroke="#555" stroke-width="0.4"/>
<text x="42.4" y="477.9" font-size="5.3" text-anchor="end" fill="#333" stroke="#333" stroke-width="0.12">0</text>
<path d="M43.7 506.0h1.3" stroke="#555" stroke-width="0.4"/>
<text x="42.4" y="507.9" font-size="5.3" text-anchor="end" fill="#333" stroke="#333" stroke-width="0.12">&#8722;5</text>
<text x="31.6" y="464.0" font-size="6.4" text-anchor="middle" fill="#222" stroke="#222" stroke-width="0.12" transform="rotate(-90 31.6 464.0)">Protein abundance (log<tspan dy="1.2" font-size="4.3">2</tspan><tspan dy="-1.2"> ratio)</tspan></text>
<rect x="137.6" y="414.3" width="91.6" height="103.9" fill="#fff" stroke="#8a8a8a" stroke-width="0.6"/>
<text x="139.4" y="420.3" font-size="6.0" fill="#111" stroke="#111" stroke-width="0.12">CD274</text>
<path d="M146.7 498.1h.01M152.8 486.3h.01M147.2 485.5h.01M149.4 488.9h.01M142.9 484.9h.01M146.2 490.1h.01M147.8 484.5h.01M148.7 502.8h.01M152.5 483.2h.01M146.5 484.8h.01M153.5 487.7h.01M144.8 495.1h.01M144.9 485.2h.01M144.8 487.9h.01M141.9 489.8h.01M151.9 494.0h.01M151.9 485.8h.01M147.4 487.4h.01M151.8 486.0h.01M143.2 488.0h.01M152.8 488.8h.01M150.1 488.2h.01M141.8 487.0h.01M150.0 489.9h.01M147.1 492.5h.01M145.6 474.2h.01M147.6 484.8h.01M141.9 485.7h.01M144.9 469.5h.01M146.2 500.4h.01M153.6 486.2h.01M152.1 489.0h.01M144.1 494.1h.01M153.8 489.9h.01M151.8 483.9h.01M154.4 484.5h.01M141.9 481.8h.01M141.9 489.3h.01M148.3 489.6h.01M153.2 487.3h.01M149.6 475.6h.01M153.4 489.1h.01M144.0 492.1h.01M146.9 483.3h.01M145.5 496.1h.01M147.3 496.2h.01M150.3 485.8h.01M153.0 469.5h.01M143.0 478.7h.01M147.1 490.8h.01M145.9 484.7h.01M154.1 498.2h.01M143.1 511.0h.01M151.7 477.9h.01M150.5 492.9h.01M150.7 481.1h.01M149.1 488.9h.01M142.1 485.7h.01M149.5 476.5h.01M153.1 489.8h.01M143.6 488.4h.01M143.4 483.3h.01M143.4 482.2h.01M147.6 490.2h.01M149.6 483.1h.01M143.7 487.0h.01M152.3 487.5h.01M146.5 490.0h.01M143.1 504.9h.01M145.8 485.4h.01M149.0 509.7h.01M149.3 481.2h.01M153.0 488.1h.01M142.1 487.3h.01M151.9 497.9h.01M154.1 488.8h.01M149.6 489.0h.01M145.6 507.9h.01M151.3 490.4h.01M150.2 502.6h.01M142.0 482.9h.01M153.5 500.1h.01M146.5 489.0h.01M143.1 485.5h.01M147.4 483.6h.01M143.3 486.3h.01M142.9 498.9h.01M142.8 479.8h.01M146.1 490.2h.01M153.9 486.3h.01M150.1 485.5h.01M143.1 484.7h.01M147.0 494.8h.01M150.6 484.2h.01M144.5 492.3h.01M170.7 475.3h.01M170.5 466.9h.01M166.7 472.0h.01M168.5 454.9h.01M165.9 477.0h.01M168.5 470.3h.01M167.5 447.6h.01M162.2 456.3h.01M187.1 494.7h.01M185.5 491.9h.01M187.5 495.3h.01M179.0 491.2h.01M182.8 487.4h.01M180.6 495.6h.01M186.3 494.4h.01M203.2 487.9h.01M199.1 493.3h.01M195.5 497.3h.01M200.1 502.7h.01M206.1 484.1h.01M202.9 494.7h.01M202.3 496.2h.01M193.1 495.3h.01M208.5 496.4h.01M207.4 468.9h.01M199.4 499.9h.01M196.4 506.0h.01M206.0 493.4h.01M196.2 499.8h.01M195.6 493.9h.01M206.8 500.3h.01M206.5 494.9h.01M207.7 490.6h.01M193.1 481.1h.01M200.4 491.0h.01M205.4 497.2h.01M203.3 500.5h.01M202.2 498.7h.01M198.8 498.8h.01M194.8 479.7h.01M196.5 498.4h.01M206.6 492.8h.01M208.6 511.6h.01M213.5 460.0h.01M211.5 477.8h.01M226.4 482.5h.01M222.1 481.1h.01M222.4 494.3h.01M213.4 450.0h.01M225.7 459.5h.01M226.1 464.9h.01M219.0 487.0h.01M224.8 476.3h.01M225.0 463.8h.01M216.8 483.6h.01M225.0 486.8h.01M221.5 476.8h.01M219.7 486.8h.01" stroke="#b0b0b0" stroke-width="0.8" stroke-linecap="round" fill="none"/>
<path d="M170.5 473.2h.01M161.3 466.9h.01M167.5 466.1h.01M164.1 475.8h.01M167.5 476.0h.01M164.7 487.4h.01M178.7 491.5h.01M183.6 495.5h.01M187.6 491.6h.01M182.7 495.3h.01M178.6 498.9h.01M185.2 496.2h.01M197.7 508.0h.01M206.3 510.8h.01M208.0 491.3h.01M197.2 491.9h.01M195.4 497.4h.01M201.3 499.1h.01M204.4 492.7h.01M205.6 495.9h.01M202.1 503.3h.01M193.2 491.6h.01M199.4 491.2h.01M197.5 500.8h.01M202.6 494.5h.01M207.0 481.3h.01M205.9 502.2h.01M201.0 512.1h.01M198.6 497.0h.01M193.7 492.0h.01M194.5 496.7h.01M193.8 496.2h.01M203.8 502.3h.01M212.8 506.3h.01M225.1 512.3h.01M211.8 485.1h.01M211.8 487.0h.01M210.8 480.0h.01M219.2 478.3h.01M219.5 478.8h.01M223.6 487.6h.01M211.4 496.1h.01M220.7 484.3h.01M226.2 477.0h.01M225.9 486.8h.01M212.0 474.5h.01M226.2 481.4h.01" stroke="#3d3db4" stroke-width="1.15" stroke-linecap="round" fill="none"/>
<path d="M186.2 492.4h.01M194.1 479.2h.01M194.2 499.7h.01M194.2 481.0h.01M199.3 491.6h.01M207.2 491.3h.01M195.7 516.2h.01M207.8 516.2h.01M206.6 492.2h.01M199.6 496.3h.01M195.6 495.9h.01M197.4 501.9h.01M212.3 483.0h.01" stroke="#e23a3a" stroke-width="1.15" stroke-linecap="round" fill="none"/>
<path d="M148.2 477.8V482.4M148.2 490.5V503.0" stroke="#a2a2a2" stroke-width="0.5" fill="none"/>
<rect x="141.4" y="482.4" width="13.6" height="8.1" fill="#e3557f" fill-opacity="0.9" stroke="#c0345f" stroke-width="0.55" stroke-opacity="1"/>
<path d="M141.4 486.6h13.6" stroke="#c0345f" stroke-width="0.9"/>
<path d="M165.8 452.4V465.0M165.8 477.8V486.2" stroke="#6e3b86" stroke-width="0.5" fill="none"/>
<rect x="163.3" y="465.0" width="5.0" height="12.8" fill="#86519e" fill-opacity="0.9" stroke="#6e3b86" stroke-width="0.55" stroke-opacity="1"/>
<path d="M163.3 471.4h5.0" stroke="#6e3b86" stroke-width="0.9"/>
<path d="M183.4 489.5V490.9M183.4 496.4V497.5" stroke="#d87208" stroke-width="0.5" fill="none"/>
<rect x="181.1" y="490.9" width="4.6" height="5.5" fill="#f28c1e" fill-opacity="0.9" stroke="#d87208" stroke-width="0.55" stroke-opacity="1"/>
<path d="M181.1 493.5h4.6" stroke="#d87208" stroke-width="0.9"/>
<path d="M201.0 475.6V490.9M201.0 501.0V512.0" stroke="#a2a2a2" stroke-width="0.5" fill="none"/>
<rect x="196.0" y="490.9" width="10.0" height="10.1" fill="#a8cbef" fill-opacity="0.9" stroke="#6397d2" stroke-width="0.55" stroke-opacity="1"/>
<path d="M196.0 496.0h10.0" stroke="#6397d2" stroke-width="0.9"/>
<path d="M218.6 458.3V476.0M218.6 488.8V507.8" stroke="#a2a2a2" stroke-width="0.5" fill="none"/>
<rect x="214.3" y="476.0" width="8.6" height="12.8" fill="#dcdcdc" fill-opacity="0.9" stroke="#9a9a9a" stroke-width="0.55" stroke-opacity="1"/>
<path d="M214.3 486.0h8.6" stroke="#9a9a9a" stroke-width="0.9"/>
<path d="M144.2 486.9h.01M143.3 483.9h.01M151.7 486.0h.01M152.2 488.7h.01M148.9 486.5h.01M146.5 488.5h.01M144.0 488.5h.01M145.4 482.8h.01M146.8 485.8h.01M149.9 484.1h.01M148.4 485.9h.01M147.5 485.4h.01M152.4 484.5h.01M143.4 486.5h.01M142.9 490.0h.01M145.6 482.4h.01M150.5 483.1h.01M149.3 489.3h.01M152.2 483.2h.01M142.3 484.9h.01M146.8 488.1h.01M151.8 483.5h.01M146.5 487.2h.01M151.0 487.9h.01M145.6 486.7h.01M147.0 483.0h.01M144.0 487.0h.01M153.5 485.3h.01M145.3 483.2h.01M153.3 483.4h.01M144.4 490.0h.01" stroke="#f0c4cf" stroke-width="0.8" stroke-linecap="round" fill="none" opacity="0.85"/>
<path d="M220.4 476.9h.01M214.8 483.3h.01" stroke="#555566" stroke-width="1.0" stroke-linecap="round" fill="none"/>
<path d="M197.9 498.0h.01M206.0 500.4h.01M198.8 498.3h.01M206.0 491.4h.01M217.4 484.8h.01M218.2 477.8h.01" stroke="#3d3db4" stroke-width="1.0" stroke-linecap="round" fill="none"/>
<path d="M200.0 493.4h.01M198.0 498.5h.01M198.4 495.1h.01M214.5 488.1h.01" stroke="#e23a3a" stroke-width="1.0" stroke-linecap="round" fill="none"/>
<path d="M148.2 448.6H165.8" stroke="#666" stroke-width="0.45"/>
<text x="157.0" y="447.6" font-size="4.1" text-anchor="middle" fill="#000" stroke="#000" stroke-width="0.12">4.97e<tspan dy="-1.2" font-size="2.8">&#8722;12</tspan></text>
<path d="M148.2 441.8H201.0" stroke="#666" stroke-width="0.45"/>
<text x="174.5" y="440.8" font-size="4.1" text-anchor="middle" fill="#000" stroke="#000" stroke-width="0.12">9.5e<tspan dy="-1.2" font-size="2.8">&#8722;06</tspan></text>
<path d="M165.8 435.9H183.4" stroke="#666" stroke-width="0.45"/>
<text x="173.0" y="434.9" font-size="4.1" text-anchor="middle" fill="#000" stroke="#000" stroke-width="0.12">4e<tspan dy="-1.2" font-size="2.8">&#8722;04</tspan></text>
<path d="M165.8 430.6H201.0" stroke="#666" stroke-width="0.45"/>
<text x="183.5" y="429.6" font-size="4.1" text-anchor="middle" fill="#000" stroke="#000" stroke-width="0.12">4.12e<tspan dy="-1.2" font-size="2.8">&#8722;07</tspan></text>
<path d="M165.8 424.9H218.6" stroke="#666" stroke-width="0.45"/>
<text x="191.0" y="423.9" font-size="4.1" text-anchor="middle" fill="#000" stroke="#000" stroke-width="0.12">3e<tspan dy="-1.2" font-size="2.8">&#8722;03</tspan></text>
<path d="M201.0 418.1H218.6" stroke="#666" stroke-width="0.45"/>
<text x="209.0" y="417.1" font-size="4.1" text-anchor="middle" fill="#000" stroke="#000" stroke-width="0.12">3e<tspan dy="-1.2" font-size="2.8">&#8722;03</tspan></text>
<rect x="231.5" y="414.3" width="93.3" height="103.9" fill="#fff" stroke="#8a8a8a" stroke-width="0.6"/>
<text x="233.3" y="420.3" font-size="6.0" fill="#111" stroke="#111" stroke-width="0.12">PAK1</text>
<path d="M246.9 492.8h.01M241.0 502.7h.01M238.7 499.5h.01M238.4 500.7h.01M239.9 492.0h.01M244.9 501.5h.01M244.2 502.3h.01M238.5 496.6h.01M243.0 504.0h.01M237.9 503.5h.01M242.2 499.8h.01M244.4 505.3h.01M236.8 498.5h.01M248.3 494.9h.01M243.7 500.7h.01M247.1 503.7h.01M241.4 513.3h.01M244.3 503.9h.01M240.7 498.9h.01M248.6 509.9h.01M246.1 501.5h.01M238.3 503.2h.01M248.6 509.2h.01M238.3 496.1h.01M247.2 501.6h.01M244.7 500.8h.01M247.2 499.8h.01M246.6 502.1h.01M246.0 503.3h.01M243.5 509.3h.01M243.4 498.9h.01M240.3 508.3h.01M243.3 496.8h.01M237.1 510.0h.01M239.4 501.3h.01M246.4 508.8h.01M240.7 504.3h.01M243.9 502.7h.01M237.1 497.7h.01M242.4 501.0h.01M237.2 504.0h.01M240.8 501.4h.01M244.8 499.4h.01M239.0 507.4h.01M247.7 499.1h.01M241.6 504.6h.01M242.9 504.3h.01M240.8 487.5h.01M239.3 500.7h.01M247.0 504.6h.01M246.0 491.8h.01M246.2 500.9h.01M240.1 507.7h.01M242.6 504.0h.01M245.0 501.3h.01M248.4 496.0h.01M236.9 500.3h.01M244.0 500.6h.01M239.8 499.5h.01M241.3 507.2h.01M244.6 505.1h.01M239.9 503.7h.01M247.4 505.8h.01M248.0 500.5h.01M238.1 502.5h.01M240.9 500.7h.01M239.9 500.6h.01M237.6 494.1h.01M248.2 506.5h.01M246.6 504.3h.01M248.2 509.9h.01M242.8 492.6h.01M243.7 487.9h.01M237.8 502.8h.01M246.4 499.9h.01M240.4 498.7h.01M245.1 497.2h.01M246.2 499.4h.01M248.0 501.3h.01M248.7 506.8h.01M244.2 498.9h.01M248.4 504.1h.01M241.5 510.2h.01M246.1 507.7h.01M244.1 510.3h.01M241.1 499.5h.01M246.6 503.2h.01M239.1 502.5h.01M244.0 502.1h.01M248.0 492.9h.01M248.8 509.0h.01M237.7 502.4h.01M243.4 509.2h.01M247.9 502.9h.01M237.0 509.5h.01M260.6 493.7h.01M256.7 493.7h.01M257.3 493.3h.01M263.6 490.0h.01M256.6 492.6h.01M258.9 500.3h.01M262.0 486.1h.01M260.0 493.5h.01M259.1 477.5h.01M281.1 500.2h.01M273.3 497.2h.01M276.1 497.0h.01M282.4 489.8h.01M281.4 499.8h.01M275.1 496.5h.01M277.1 485.6h.01M276.3 494.7h.01M275.5 496.9h.01M295.7 493.3h.01M288.3 485.9h.01M298.8 490.1h.01M295.5 493.4h.01M297.7 487.2h.01M298.0 480.6h.01M298.3 487.4h.01M293.2 487.6h.01M295.5 489.6h.01M302.9 500.6h.01M289.5 489.6h.01M303.5 489.1h.01M290.8 496.5h.01M292.1 494.3h.01M300.1 495.4h.01M303.6 485.7h.01M291.3 490.6h.01M290.6 487.9h.01M294.3 489.2h.01M303.6 493.2h.01M288.7 505.2h.01M293.8 485.3h.01M294.7 492.3h.01M290.3 489.4h.01M297.2 488.9h.01M290.9 488.8h.01M294.0 493.2h.01M311.5 493.0h.01M321.0 499.0h.01M317.5 494.4h.01M309.0 488.8h.01M315.9 488.9h.01M309.5 489.0h.01M308.8 502.9h.01M308.2 480.7h.01M314.0 489.0h.01M313.8 487.7h.01M321.6 490.8h.01M319.8 488.9h.01M313.9 487.5h.01M310.7 492.7h.01M320.6 506.7h.01M319.5 485.7h.01M315.5 488.2h.01M315.8 495.0h.01" stroke="#b0b0b0" stroke-width="0.8" stroke-linecap="round" fill="none"/>
<path d="M277.0 497.5h.01M298.1 477.4h.01M290.8 490.0h.01M307.7 492.5h.01M308.6 494.0h.01" stroke="#3d3db4" stroke-width="1.15" stroke-linecap="round" fill="none"/>
<path d="M257.3 487.5h.01M255.3 490.9h.01M261.9 488.3h.01M261.8 486.5h.01M258.0 491.8h.01M276.9 489.4h.01M274.5 495.1h.01M275.4 490.1h.01M274.1 496.7h.01M296.7 480.4h.01M289.1 490.0h.01M299.7 492.0h.01M294.7 483.6h.01M303.5 480.2h.01M295.4 492.7h.01M297.4 492.5h.01M303.4 492.4h.01M289.3 493.5h.01M293.1 487.8h.01M298.6 492.0h.01M288.5 486.7h.01M300.4 493.5h.01M300.0 490.9h.01M290.6 496.4h.01M301.4 489.5h.01M298.1 492.9h.01M288.7 484.9h.01M302.7 488.9h.01M301.0 485.7h.01M291.0 485.5h.01M290.1 491.0h.01M299.2 489.2h.01M297.5 479.4h.01M288.9 483.1h.01M293.5 487.6h.01M303.2 486.2h.01M295.3 479.2h.01M293.6 492.9h.01M290.8 493.4h.01M298.4 493.0h.01M317.5 493.4h.01M314.4 482.9h.01M309.1 476.4h.01M318.1 498.5h.01M314.5 489.9h.01M314.4 488.0h.01M310.7 485.9h.01M314.6 494.1h.01M322.0 480.3h.01M314.8 490.9h.01" stroke="#e23a3a" stroke-width="1.15" stroke-linecap="round" fill="none"/>
<path d="M242.3 492.6V498.5M242.3 504.8V510.5" stroke="#a2a2a2" stroke-width="0.5" fill="none"/>
<rect x="235.5" y="498.5" width="13.6" height="6.3" fill="#e3557f" fill-opacity="0.9" stroke="#c0345f" stroke-width="0.55" stroke-opacity="1"/>
<path d="M235.5 501.6h13.6" stroke="#c0345f" stroke-width="0.9"/>
<path d="M260.2 482.0V485.8M260.2 494.7V496.4" stroke="#6e3b86" stroke-width="0.5" fill="none"/>
<rect x="257.7" y="485.8" width="5.0" height="8.9" fill="#86519e" fill-opacity="0.9" stroke="#6e3b86" stroke-width="0.55" stroke-opacity="1"/>
<path d="M257.7 490.5h5.0" stroke="#6e3b86" stroke-width="0.9"/>
<path d="M278.1 488.3V494.7M278.1 500.0V501.0" stroke="#d87208" stroke-width="0.5" fill="none"/>
<rect x="275.8" y="494.7" width="4.6" height="5.3" fill="#f28c1e" fill-opacity="0.9" stroke="#d87208" stroke-width="0.55" stroke-opacity="1"/>
<path d="M275.8 497.5h4.6" stroke="#d87208" stroke-width="0.9"/>
<path d="M296.1 475.6V485.2M296.1 493.6V502.0" stroke="#a2a2a2" stroke-width="0.5" fill="none"/>
<rect x="291.1" y="485.2" width="10.0" height="8.4" fill="#a8cbef" fill-opacity="0.9" stroke="#6397d2" stroke-width="0.55" stroke-opacity="1"/>
<path d="M291.1 489.0h10.0" stroke="#6397d2" stroke-width="0.9"/>
<path d="M314.0 476.7V487.3M314.0 494.7V503.0" stroke="#a2a2a2" stroke-width="0.5" fill="none"/>
<rect x="309.7" y="487.3" width="8.6" height="7.4" fill="#dcdcdc" fill-opacity="0.9" stroke="#9a9a9a" stroke-width="0.55" stroke-opacity="1"/>
<path d="M309.7 491.5h8.6" stroke="#9a9a9a" stroke-width="0.9"/>
<path d="M243.7 501.5h.01M246.3 498.9h.01M246.0 501.1h.01M245.6 503.6h.01M244.0 503.6h.01M244.7 501.5h.01M240.3 501.1h.01M247.8 499.9h.01M246.1 500.1h.01M244.3 498.9h.01M244.9 503.3h.01M246.1 502.5h.01M246.8 502.0h.01M237.5 498.8h.01M245.5 502.0h.01M238.8 504.4h.01M243.1 503.8h.01M244.3 502.9h.01M244.4 503.7h.01M240.7 499.3h.01M244.6 502.5h.01M248.2 500.3h.01M240.5 500.1h.01M241.2 500.8h.01M239.6 503.9h.01M245.2 502.2h.01" stroke="#f0c4cf" stroke-width="0.8" stroke-linecap="round" fill="none" opacity="0.85"/>
<path d="M296.9 489.8h.01M300.5 486.3h.01M299.3 489.2h.01M315.6 491.0h.01M318.7 487.6h.01" stroke="#555566" stroke-width="1.0" stroke-linecap="round" fill="none"/>
<path d="M297.8 487.2h.01M291.6 488.4h.01M317.1 491.5h.01" stroke="#3d3db4" stroke-width="1.0" stroke-linecap="round" fill="none"/>
<path d="M293.8 489.8h.01M299.8 491.6h.01M313.9 494.2h.01M312.1 493.0h.01" stroke="#e23a3a" stroke-width="1.0" stroke-linecap="round" fill="none"/>
<path d="M242.3 455.6H260.2" stroke="#666" stroke-width="0.45"/>
<text x="251.0" y="454.6" font-size="4.1" text-anchor="middle" fill="#000" stroke="#000" stroke-width="0.12">8.57e<tspan dy="-1.2" font-size="2.8">&#8722;14</tspan></text>
<path d="M242.3 450.3H278.1" stroke="#666" stroke-width="0.45"/>
<text x="258.0" y="449.3" font-size="4.1" text-anchor="middle" fill="#000" stroke="#000" stroke-width="0.12">4e<tspan dy="-1.2" font-size="2.8">&#8722;06</tspan></text>
<path d="M242.3 445.0H296.1" stroke="#666" stroke-width="0.45"/>
<text x="270.0" y="444.0" font-size="4.1" text-anchor="middle" fill="#000" stroke="#000" stroke-width="0.12">2.39e<tspan dy="-1.2" font-size="2.8">&#8722;27</tspan></text>
<path d="M242.3 439.3H314.0" stroke="#666" stroke-width="0.45"/>
<text x="278.0" y="438.3" font-size="4.1" text-anchor="middle" fill="#000" stroke="#000" stroke-width="0.12">6.9e<tspan dy="-1.2" font-size="2.8">&#8722;12</tspan></text>
<path d="M260.2 433.0H278.1" stroke="#666" stroke-width="0.45"/>
<text x="267.0" y="432.0" font-size="4.1" text-anchor="middle" fill="#000" stroke="#000" stroke-width="0.12">2e<tspan dy="-1.2" font-size="2.8">&#8722;03</tspan></text>
<path d="M278.1 428.5H296.1" stroke="#666" stroke-width="0.45"/>
<text x="287.0" y="427.5" font-size="4.1" text-anchor="middle" fill="#000" stroke="#000" stroke-width="0.12">8.76e<tspan dy="-1.2" font-size="2.8">&#8722;06</tspan></text>
<path d="M278.1 421.7H314.0" stroke="#666" stroke-width="0.45"/>
<text x="295.0" y="420.7" font-size="4.1" text-anchor="middle" fill="#000" stroke="#000" stroke-width="0.12">2e<tspan dy="-1.2" font-size="2.8">&#8722;03</tspan></text>
<rect x="45.0" y="524.0" width="90.6" height="104.0" fill="#fff" stroke="#8a8a8a" stroke-width="0.6"/>
<text x="46.8" y="530.0" font-size="6.0" fill="#111" stroke="#111" stroke-width="0.12">JAK2</text>
<path d="M57.5 580.1h.01M56.8 579.2h.01M54.1 573.5h.01M51.8 572.0h.01M61.1 558.6h.01M51.5 581.0h.01M58.7 580.1h.01M55.0 577.2h.01M50.3 580.3h.01M57.2 572.9h.01M59.2 577.6h.01M55.1 578.9h.01M60.2 571.6h.01M49.8 572.4h.01M52.7 562.2h.01M54.2 574.5h.01M59.1 579.6h.01M52.4 576.4h.01M58.0 580.8h.01M49.5 572.8h.01M49.6 577.5h.01M59.3 588.5h.01M58.1 578.9h.01M53.4 589.9h.01M53.9 574.4h.01M55.4 558.1h.01M49.0 574.2h.01M58.2 582.1h.01M61.7 580.7h.01M61.3 572.5h.01M56.6 586.6h.01M57.8 575.7h.01M51.4 579.1h.01M50.9 568.5h.01M61.0 569.5h.01M54.9 593.5h.01M61.2 580.8h.01M55.6 579.4h.01M53.4 572.4h.01M55.6 575.2h.01M59.2 596.3h.01M56.9 571.9h.01M56.0 563.4h.01M61.9 556.2h.01M54.2 573.5h.01M53.6 575.0h.01M52.4 570.5h.01M55.0 572.2h.01M51.3 563.6h.01M61.5 556.9h.01M58.3 575.4h.01M54.3 587.8h.01M50.2 562.6h.01M57.1 576.2h.01M58.4 560.7h.01M55.7 576.4h.01M58.9 577.8h.01M56.4 579.3h.01M53.7 556.0h.01M49.0 593.2h.01M51.4 576.5h.01M53.5 585.2h.01M55.3 572.7h.01M53.1 579.2h.01M49.4 562.4h.01M51.0 574.6h.01M54.5 575.0h.01M57.5 592.5h.01M56.8 577.2h.01M59.2 577.6h.01M60.9 572.6h.01M58.5 585.3h.01M59.2 564.6h.01M50.4 564.2h.01M54.5 565.1h.01M49.7 571.8h.01M60.9 572.5h.01M57.7 591.5h.01M51.1 583.4h.01M56.6 561.6h.01M54.5 571.5h.01M57.2 579.5h.01M59.4 575.9h.01M53.4 554.9h.01M60.6 574.1h.01M50.9 561.3h.01M58.2 565.0h.01M50.7 593.1h.01M54.8 574.2h.01M54.0 580.2h.01M58.6 579.8h.01M53.4 567.4h.01M56.3 575.0h.01M59.5 577.6h.01M52.5 592.5h.01M74.6 595.4h.01M70.9 599.5h.01M75.4 602.8h.01M77.7 596.5h.01M73.6 581.4h.01M70.6 595.2h.01M71.6 599.4h.01M88.8 611.7h.01M91.5 612.5h.01M87.6 605.1h.01M91.2 613.9h.01M86.8 602.2h.01M90.9 604.1h.01M105.2 600.5h.01M112.7 605.0h.01M105.3 608.0h.01M103.8 591.6h.01M111.2 608.6h.01M114.8 603.0h.01M102.7 602.5h.01M114.5 603.2h.01M104.3 601.0h.01M107.7 618.6h.01M113.6 602.9h.01M104.7 591.2h.01M111.0 600.0h.01M109.0 607.4h.01M110.8 611.0h.01M114.3 614.9h.01M104.9 608.5h.01M102.7 601.9h.01M110.7 589.9h.01M114.5 610.9h.01M108.7 590.3h.01M104.3 599.5h.01M131.6 602.9h.01M122.7 605.3h.01M124.6 590.2h.01M129.1 600.4h.01M127.9 600.7h.01M122.2 604.0h.01M121.2 604.8h.01M130.5 600.1h.01M132.8 604.3h.01M132.6 599.4h.01M127.4 610.9h.01M123.1 611.8h.01M123.9 589.9h.01M121.8 606.7h.01" stroke="#b0b0b0" stroke-width="0.8" stroke-linecap="round" fill="none"/>
<path d="M75.8 595.5h.01M74.5 599.8h.01M72.5 597.9h.01M72.8 601.2h.01M75.2 607.6h.01M68.1 592.3h.01M88.0 612.9h.01M92.2 611.7h.01M85.5 609.0h.01M87.1 604.3h.01M94.1 612.5h.01M90.4 610.1h.01M86.7 620.4h.01M86.6 613.7h.01M107.6 606.7h.01M107.2 619.9h.01M105.8 626.0h.01M100.9 609.6h.01M109.8 600.3h.01M113.2 610.9h.01M114.0 600.2h.01M113.7 619.4h.01M107.4 609.7h.01M100.5 609.6h.01M111.9 608.4h.01M103.6 600.5h.01M113.0 600.2h.01M106.9 626.0h.01M112.9 589.8h.01M108.2 607.1h.01M113.9 605.9h.01M103.1 601.6h.01M107.0 608.3h.01M106.8 605.1h.01M109.5 619.2h.01M102.2 603.4h.01M113.0 609.4h.01M113.5 597.1h.01M101.4 615.1h.01M101.0 604.4h.01M111.4 604.3h.01M111.9 613.4h.01M100.1 601.8h.01M111.5 610.7h.01M100.1 615.1h.01M102.8 609.0h.01M119.0 599.3h.01M124.7 615.3h.01M128.5 616.4h.01M130.2 608.0h.01M132.3 601.1h.01M130.4 604.8h.01M129.5 618.7h.01M122.4 605.1h.01M126.5 594.9h.01M117.8 586.5h.01M120.0 607.4h.01M130.5 610.5h.01" stroke="#3d3db4" stroke-width="1.15" stroke-linecap="round" fill="none"/>
<path d="M68.9 592.0h.01M110.7 620.2h.01M100.7 613.4h.01M110.9 609.1h.01M106.2 603.3h.01M111.2 617.4h.01M104.3 610.3h.01M125.2 590.0h.01M127.5 608.7h.01M129.2 607.2h.01M122.1 608.2h.01" stroke="#e23a3a" stroke-width="1.15" stroke-linecap="round" fill="none"/>
<path d="M55.5 560.5V571.0M55.5 581.2V594.3" stroke="#a2a2a2" stroke-width="0.5" fill="none"/>
<rect x="48.7" y="571.0" width="13.6" height="10.2" fill="#e3557f" fill-opacity="0.9" stroke="#c0345f" stroke-width="0.55" stroke-opacity="1"/>
<path d="M48.7 576.3h13.6" stroke="#c0345f" stroke-width="0.9"/>
<path d="M72.9 579.5V590.7M72.9 603.4V610.0" stroke="#6e3b86" stroke-width="0.5" fill="none"/>
<rect x="70.4" y="590.7" width="5.0" height="12.7" fill="#86519e" fill-opacity="0.9" stroke="#6e3b86" stroke-width="0.55" stroke-opacity="1"/>
<path d="M70.4 599.0h5.0" stroke="#6e3b86" stroke-width="0.9"/>
<path d="M90.3 602.0V604.9M90.3 614.0V616.0" stroke="#d87208" stroke-width="0.5" fill="none"/>
<rect x="88.0" y="604.9" width="4.6" height="9.1" fill="#f28c1e" fill-opacity="0.9" stroke="#d87208" stroke-width="0.55" stroke-opacity="1"/>
<path d="M88.0 609.0h4.6" stroke="#d87208" stroke-width="0.9"/>
<path d="M107.7 588.0V600.0M107.7 611.8V622.8" stroke="#a2a2a2" stroke-width="0.5" fill="none"/>
<rect x="102.7" y="600.0" width="10.0" height="11.8" fill="#a8cbef" fill-opacity="0.9" stroke="#6397d2" stroke-width="0.55" stroke-opacity="1"/>
<path d="M102.7 604.9h10.0" stroke="#6397d2" stroke-width="0.9"/>
<path d="M125.1 583.7V596.4M125.1 611.8V616.5" stroke="#a2a2a2" stroke-width="0.5" fill="none"/>
<rect x="120.8" y="596.4" width="8.6" height="15.4" fill="#dcdcdc" fill-opacity="0.9" stroke="#9a9a9a" stroke-width="0.55" stroke-opacity="1"/>
<path d="M120.8 603.8h8.6" stroke="#9a9a9a" stroke-width="0.9"/>
<path d="M53.7 571.9h.01M59.1 571.2h.01M58.7 576.2h.01M53.7 576.7h.01M61.3 579.4h.01M59.4 574.9h.01M53.5 577.1h.01M59.0 575.9h.01M52.7 572.3h.01M50.4 576.5h.01M56.3 579.9h.01M50.0 577.5h.01M61.3 572.3h.01M54.0 579.7h.01M54.4 571.8h.01M53.9 573.2h.01M61.9 577.0h.01M54.9 577.3h.01M55.6 571.9h.01M61.9 577.9h.01M60.8 571.6h.01M60.2 579.0h.01M52.2 576.5h.01M53.6 575.8h.01M61.6 573.5h.01M58.2 579.8h.01M52.7 577.3h.01M61.8 578.8h.01M58.8 571.3h.01M55.5 574.2h.01M52.7 574.2h.01M52.7 574.9h.01M56.0 573.9h.01M50.2 580.0h.01M60.6 577.7h.01M57.1 580.9h.01M51.8 579.9h.01M51.1 571.6h.01" stroke="#f0c4cf" stroke-width="0.8" stroke-linecap="round" fill="none" opacity="0.85"/>
<path d="M126.1 597.4h.01M128.4 604.8h.01M122.7 609.6h.01" stroke="#555566" stroke-width="1.0" stroke-linecap="round" fill="none"/>
<path d="M108.9 610.5h.01M110.0 603.4h.01M106.3 604.5h.01M127.6 611.7h.01" stroke="#3d3db4" stroke-width="1.0" stroke-linecap="round" fill="none"/>
<path d="M110.3 608.4h.01M108.0 604.3h.01M110.4 606.2h.01M110.4 604.8h.01M122.3 606.7h.01" stroke="#e23a3a" stroke-width="1.0" stroke-linecap="round" fill="none"/>
<path d="M55.5 555.2H72.9" stroke="#666" stroke-width="0.45"/>
<text x="64.0" y="554.2" font-size="4.1" text-anchor="middle" fill="#000" stroke="#000" stroke-width="0.12">1.54e<tspan dy="-1.2" font-size="2.8">&#8722;08</tspan></text>
<path d="M55.5 550.3H90.3" stroke="#666" stroke-width="0.45"/>
<text x="70.0" y="549.3" font-size="4.1" text-anchor="middle" fill="#000" stroke="#000" stroke-width="0.12">6.77e<tspan dy="-1.2" font-size="2.8">&#8722;13</tspan></text>
<path d="M55.5 545.2H107.7" stroke="#666" stroke-width="0.45"/>
<text x="81.0" y="544.2" font-size="4.1" text-anchor="middle" fill="#000" stroke="#000" stroke-width="0.12">2.73e<tspan dy="-1.2" font-size="2.8">&#8722;43</tspan></text>
<path d="M55.5 539.7H125.1" stroke="#666" stroke-width="0.45"/>
<text x="91.5" y="538.7" font-size="4.1" text-anchor="middle" fill="#000" stroke="#000" stroke-width="0.12">8.15e<tspan dy="-1.2" font-size="2.8">&#8722;19</tspan></text>
<path d="M72.9 534.5H90.3" stroke="#666" stroke-width="0.45"/>
<text x="81.0" y="533.5" font-size="4.1" text-anchor="middle" fill="#000" stroke="#000" stroke-width="0.12">2.58e<tspan dy="-1.2" font-size="2.8">&#8722;03</tspan></text>
<path d="M72.9 529.4H107.7" stroke="#666" stroke-width="0.45"/>
<text x="90.5" y="528.4" font-size="4.1" text-anchor="middle" fill="#000" stroke="#000" stroke-width="0.12">2.90e<tspan dy="-1.2" font-size="2.8">&#8722;10</tspan></text>
<path d="M43.7 546.3h1.3" stroke="#555" stroke-width="0.4"/>
<text x="42.4" y="548.2" font-size="5.3" text-anchor="end" fill="#333" stroke="#333" stroke-width="0.12">4</text>
<path d="M43.7 570.4h1.3" stroke="#555" stroke-width="0.4"/>
<text x="42.4" y="572.3" font-size="5.3" text-anchor="end" fill="#333" stroke="#333" stroke-width="0.12">2</text>
<path d="M43.7 594.3h1.3" stroke="#555" stroke-width="0.4"/>
<text x="42.4" y="596.2" font-size="5.3" text-anchor="end" fill="#333" stroke="#333" stroke-width="0.12">0</text>
<path d="M43.7 618.2h1.3" stroke="#555" stroke-width="0.4"/>
<text x="42.4" y="620.1" font-size="5.3" text-anchor="end" fill="#333" stroke="#333" stroke-width="0.12">&#8722;2</text>
<text x="31.7" y="563.2" font-size="5.5" text-anchor="middle" fill="#222" stroke="#222" stroke-width="0.12" transform="rotate(-90 31.7 563.2)">Protein abundance (log<tspan dy="1.2" font-size="3.7">2</tspan><tspan dy="-1.2"> ratio)</tspan></text>
<rect x="137.6" y="524.0" width="91.6" height="104.0" fill="#fff" stroke="#8a8a8a" stroke-width="0.6"/>
<text x="139.4" y="530.0" font-size="6.0" fill="#111" stroke="#111" stroke-width="0.12">PIK3CA</text>
<path d="M151.3 594.8h.01M143.2 591.3h.01M154.1 581.7h.01M148.1 605.3h.01M149.5 585.9h.01M146.1 588.1h.01M150.8 577.3h.01M146.2 602.0h.01M152.2 585.1h.01M147.6 610.2h.01M153.1 588.2h.01M144.0 591.7h.01M149.1 593.9h.01M146.2 583.7h.01M145.4 587.9h.01M147.7 581.2h.01M148.8 585.1h.01M150.9 581.1h.01M151.1 589.3h.01M141.8 587.2h.01M148.0 602.2h.01M147.9 586.0h.01M147.2 598.3h.01M153.1 603.1h.01M150.4 591.4h.01M141.9 603.4h.01M142.9 589.7h.01M150.4 593.0h.01M148.7 596.6h.01M151.9 592.2h.01M147.4 590.7h.01M145.8 588.3h.01M143.6 586.1h.01M144.7 588.7h.01M152.2 588.6h.01M151.8 581.8h.01M142.9 583.7h.01M142.4 590.2h.01M150.1 579.5h.01M144.3 582.7h.01M154.4 578.3h.01M145.3 585.0h.01M154.4 585.1h.01M148.9 588.6h.01M143.8 587.4h.01M145.9 574.1h.01M149.1 584.0h.01M143.7 582.8h.01M152.9 602.9h.01M142.5 571.5h.01M150.4 584.7h.01M144.2 593.7h.01M144.9 591.8h.01M148.1 590.3h.01M151.2 591.3h.01M152.0 580.2h.01M149.4 568.7h.01M145.7 582.0h.01M152.2 584.2h.01M150.2 582.5h.01M143.5 591.2h.01M151.9 582.3h.01M146.5 591.1h.01M146.2 604.2h.01M153.2 591.0h.01M145.4 584.6h.01M145.2 583.6h.01M144.3 605.4h.01M151.1 579.8h.01M152.3 591.8h.01M152.2 592.2h.01M146.2 585.4h.01M151.7 586.0h.01M142.3 579.2h.01M149.4 587.6h.01M152.4 588.8h.01M153.3 583.3h.01M146.8 588.3h.01M142.2 583.8h.01M146.7 593.3h.01M142.6 585.4h.01M149.5 584.1h.01M148.4 602.9h.01M148.9 586.0h.01M144.4 581.3h.01M141.7 571.7h.01M148.9 590.1h.01M149.1 589.8h.01M151.6 586.0h.01M146.0 606.7h.01M151.5 581.0h.01M151.4 564.6h.01M142.6 606.2h.01M150.7 592.3h.01M153.7 573.9h.01M169.5 611.4h.01M167.5 607.4h.01M163.0 609.3h.01M169.0 609.4h.01M169.5 606.9h.01M162.7 608.2h.01M165.3 612.6h.01M166.6 608.6h.01M167.1 612.4h.01M164.6 613.6h.01M161.4 608.2h.01M161.4 609.3h.01M168.7 609.3h.01M179.4 614.7h.01M184.1 613.5h.01M179.0 609.6h.01M185.4 610.0h.01M198.7 621.0h.01M206.8 609.7h.01M202.6 609.4h.01M202.8 606.2h.01M199.3 596.5h.01M199.0 601.6h.01M202.4 619.5h.01M202.1 603.9h.01M202.3 603.5h.01M207.9 610.1h.01M194.9 605.9h.01M207.4 604.2h.01M195.6 611.7h.01M193.4 611.0h.01M208.4 608.8h.01M197.9 605.6h.01M203.1 608.9h.01M197.6 612.8h.01M208.7 611.5h.01M197.1 610.0h.01M193.4 604.9h.01M197.9 592.0h.01M197.4 611.3h.01M199.1 611.2h.01M196.0 603.0h.01M197.3 592.2h.01M206.0 611.4h.01M205.6 608.4h.01M194.5 611.1h.01M198.0 594.8h.01M205.3 604.4h.01M222.0 608.9h.01M223.6 588.7h.01M222.5 608.8h.01M217.1 593.1h.01M217.0 623.4h.01M215.0 607.9h.01M217.8 613.1h.01M219.6 620.3h.01M220.1 600.5h.01M210.7 611.8h.01M223.4 608.4h.01M213.8 599.1h.01M216.8 610.7h.01M220.8 623.2h.01M224.8 613.7h.01" stroke="#b0b0b0" stroke-width="0.8" stroke-linecap="round" fill="none"/>
<path d="M183.3 612.3h.01M185.8 598.8h.01M207.0 601.4h.01M201.6 592.3h.01M206.3 604.2h.01M199.0 605.9h.01M218.6 607.4h.01" stroke="#3d3db4" stroke-width="1.15" stroke-linecap="round" fill="none"/>
<path d="M166.9 611.1h.01M187.1 605.4h.01M187.9 611.1h.01M185.8 609.8h.01M182.1 613.6h.01M182.4 611.5h.01M184.7 602.3h.01M185.2 603.2h.01M188.4 605.5h.01M204.5 590.2h.01M207.9 611.5h.01M203.0 601.9h.01M203.5 586.7h.01M203.2 603.4h.01M208.4 597.9h.01M195.3 593.6h.01M208.9 606.8h.01M208.8 621.5h.01M204.6 607.9h.01M203.2 601.8h.01M205.1 600.5h.01M198.0 607.2h.01M200.4 600.1h.01M198.2 606.0h.01M205.9 602.3h.01M207.7 608.3h.01M205.8 602.8h.01M193.6 598.3h.01M202.4 589.9h.01M201.1 596.1h.01M206.5 609.1h.01M206.8 611.6h.01M208.6 595.0h.01M195.2 602.5h.01M223.6 613.2h.01M217.7 613.1h.01M224.0 615.6h.01M224.6 575.2h.01M220.7 594.2h.01M211.6 602.9h.01M224.6 605.9h.01M222.2 619.2h.01M221.3 612.4h.01M223.2 605.0h.01M222.5 605.1h.01M214.9 602.4h.01M225.7 582.1h.01M221.6 613.3h.01" stroke="#e23a3a" stroke-width="1.15" stroke-linecap="round" fill="none"/>
<path d="M148.2 566.8V580.1M148.2 592.8V607.0" stroke="#a2a2a2" stroke-width="0.5" fill="none"/>
<rect x="141.4" y="580.1" width="13.6" height="12.7" fill="#e3557f" fill-opacity="0.9" stroke="#c0345f" stroke-width="0.55" stroke-opacity="1"/>
<path d="M141.4 585.8h13.6" stroke="#c0345f" stroke-width="0.9"/>
<path d="M165.8 603.8V608.0M165.8 612.7V617.5" stroke="#6e3b86" stroke-width="0.5" fill="none"/>
<rect x="163.3" y="608.0" width="5.0" height="4.7" fill="#86519e" fill-opacity="0.9" stroke="#6e3b86" stroke-width="0.55" stroke-opacity="1"/>
<path d="M163.3 610.5h5.0" stroke="#6e3b86" stroke-width="0.9"/>
<path d="M183.4 601.7V608.0M183.4 616.5V620.7" stroke="#d87208" stroke-width="0.5" fill="none"/>
<rect x="181.1" y="608.0" width="4.6" height="8.5" fill="#f28c1e" fill-opacity="0.9" stroke="#d87208" stroke-width="0.55" stroke-opacity="1"/>
<path d="M181.1 612.0h4.6" stroke="#d87208" stroke-width="0.9"/>
<path d="M201.0 588.6V601.3M201.0 611.8V615.4" stroke="#a2a2a2" stroke-width="0.5" fill="none"/>
<rect x="196.0" y="601.3" width="10.0" height="10.5" fill="#a8cbef" fill-opacity="0.9" stroke="#6397d2" stroke-width="0.55" stroke-opacity="1"/>
<path d="M196.0 606.0h10.0" stroke="#6397d2" stroke-width="0.9"/>
<path d="M218.6 586.9V604.9M218.6 616.0V622.8" stroke="#a2a2a2" stroke-width="0.5" fill="none"/>
<rect x="214.3" y="604.9" width="8.6" height="11.1" fill="#dcdcdc" fill-opacity="0.9" stroke="#9a9a9a" stroke-width="0.55" stroke-opacity="1"/>
<path d="M214.3 610.5h8.6" stroke="#9a9a9a" stroke-width="0.9"/>
<path d="M149.3 588.8h.01M151.5 588.5h.01M141.8 582.3h.01M149.3 592.2h.01M152.4 588.3h.01M152.9 588.9h.01M148.5 580.2h.01M150.1 583.9h.01M143.7 588.6h.01M144.0 589.7h.01M150.3 587.1h.01M142.7 588.4h.01M152.3 582.1h.01M152.0 580.4h.01M153.2 584.2h.01M149.3 585.1h.01M150.3 580.5h.01M150.1 589.0h.01M146.9 584.9h.01M146.4 591.1h.01M151.3 583.2h.01M154.2 585.1h.01M143.4 581.8h.01M145.6 581.9h.01M153.6 583.3h.01M145.9 587.9h.01M144.9 583.0h.01M142.6 587.3h.01M143.7 592.8h.01M153.0 586.7h.01M152.7 586.9h.01M145.2 586.4h.01M154.4 585.5h.01M146.9 580.9h.01M150.4 592.5h.01M149.6 590.3h.01M153.8 582.1h.01M154.5 590.0h.01M145.7 584.3h.01M153.8 591.6h.01M151.8 590.4h.01M152.6 580.9h.01M147.4 582.1h.01M153.8 582.2h.01M153.3 586.8h.01M143.0 591.3h.01" stroke="#f0c4cf" stroke-width="0.8" stroke-linecap="round" fill="none" opacity="0.85"/>
<path d="M196.3 605.4h.01M201.3 607.3h.01M220.2 614.2h.01" stroke="#555566" stroke-width="1.0" stroke-linecap="round" fill="none"/>
<path d="M201.4 604.5h.01M205.3 606.1h.01M201.7 611.7h.01M220.7 610.1h.01M218.5 607.8h.01M214.2 607.0h.01M221.3 614.6h.01" stroke="#3d3db4" stroke-width="1.0" stroke-linecap="round" fill="none"/>
<path d="M198.8 611.8h.01M202.7 608.7h.01" stroke="#e23a3a" stroke-width="1.0" stroke-linecap="round" fill="none"/>
<path d="M148.2 561.9H165.8" stroke="#666" stroke-width="0.45"/>
<text x="157.5" y="560.9" font-size="4.1" text-anchor="middle" fill="#000" stroke="#000" stroke-width="0.12">8.57e<tspan dy="-1.2" font-size="2.8">&#8722;07</tspan></text>
<path d="M148.2 556.6H183.4" stroke="#666" stroke-width="0.45"/>
<text x="165.0" y="555.6" font-size="4.1" text-anchor="middle" fill="#000" stroke="#000" stroke-width="0.12">2.07e<tspan dy="-1.2" font-size="2.8">&#8722;08</tspan></text>
<path d="M148.2 550.5H201.0" stroke="#666" stroke-width="0.45"/>
<text x="175.5" y="549.5" font-size="4.1" text-anchor="middle" fill="#000" stroke="#000" stroke-width="0.12">4.16e<tspan dy="-1.2" font-size="2.8">&#8722;17</tspan></text>
<path d="M148.2 544.0H218.6" stroke="#666" stroke-width="0.45"/>
<text x="185.0" y="543.0" font-size="4.1" text-anchor="middle" fill="#000" stroke="#000" stroke-width="0.12">1.18e<tspan dy="-1.2" font-size="2.8">&#8722;11</tspan></text>
<path d="M165.8 536.8H201.0" stroke="#666" stroke-width="0.45"/>
<text x="184.0" y="535.8" font-size="4.1" text-anchor="middle" fill="#000" stroke="#000" stroke-width="0.12">4.55e<tspan dy="-1.2" font-size="2.8">&#8722;06</tspan></text>
<path d="M183.4 528.7H201.0" stroke="#666" stroke-width="0.45"/>
<text x="194.0" y="527.7" font-size="4.1" text-anchor="middle" fill="#000" stroke="#000" stroke-width="0.12">2.52e<tspan dy="-1.2" font-size="2.8">&#8722;05</tspan></text>
<rect x="231.5" y="524.0" width="93.3" height="103.6" fill="#fff" stroke="#8a8a8a" stroke-width="0.6"/>
<text x="233.3" y="530.0" font-size="6.0" fill="#111" stroke="#111" stroke-width="0.12">MCL1</text>
<path d="M247.0 584.4h.01M245.3 576.3h.01M240.5 590.6h.01M246.3 562.6h.01M241.9 603.1h.01M238.1 580.0h.01M241.5 612.9h.01M240.0 572.4h.01M245.1 581.2h.01M243.0 603.8h.01M246.1 596.7h.01M244.2 579.5h.01M242.5 575.7h.01M238.2 600.7h.01M240.8 572.2h.01M245.8 574.9h.01M244.3 573.5h.01M244.4 569.4h.01M247.7 584.9h.01M247.4 625.6h.01M244.0 589.7h.01M244.6 589.1h.01M237.0 580.4h.01M237.0 581.3h.01M240.2 585.5h.01M247.2 613.5h.01M240.6 595.0h.01M243.7 574.4h.01M236.9 580.6h.01M240.4 573.2h.01M236.7 565.1h.01M247.7 578.5h.01M244.1 576.8h.01M242.4 573.8h.01M239.9 610.2h.01M245.2 578.5h.01M247.0 601.4h.01M237.4 620.9h.01M248.0 573.1h.01M247.3 561.7h.01M242.1 584.3h.01M239.1 590.1h.01M243.9 561.4h.01M241.6 574.1h.01M237.0 599.5h.01M245.4 587.7h.01M248.0 573.4h.01M240.3 535.1h.01M244.1 586.4h.01M247.3 588.1h.01M236.1 603.2h.01M240.0 580.0h.01M244.6 585.4h.01M247.2 615.3h.01M237.2 579.9h.01M238.7 612.8h.01M245.8 581.2h.01M242.2 556.4h.01M244.4 580.4h.01M240.7 583.2h.01M243.3 579.4h.01M238.5 583.9h.01M237.3 597.7h.01M241.4 559.9h.01M246.5 573.0h.01M242.4 574.3h.01M248.4 584.9h.01M238.2 615.5h.01M241.2 583.4h.01M236.0 585.6h.01M241.1 582.8h.01M245.3 587.1h.01M240.1 595.2h.01M240.6 606.8h.01M242.0 601.9h.01M248.6 583.8h.01M246.1 566.7h.01M243.3 585.1h.01M244.7 597.0h.01M235.9 589.7h.01M244.7 583.4h.01M245.0 586.0h.01M247.4 582.1h.01M238.3 582.1h.01M246.8 572.4h.01M247.7 589.7h.01M243.0 573.0h.01M242.4 581.9h.01M236.1 553.8h.01M247.3 605.0h.01M248.3 565.2h.01M240.9 577.3h.01M244.5 536.3h.01M238.9 607.9h.01M238.9 564.3h.01M260.8 598.8h.01M255.9 588.5h.01M260.3 579.9h.01M258.7 586.1h.01M259.4 586.4h.01M256.2 595.0h.01M257.2 588.2h.01M264.8 601.5h.01M260.8 595.7h.01M274.8 590.0h.01M276.3 594.1h.01M276.6 591.0h.01M277.7 599.0h.01M277.7 600.2h.01M299.5 611.1h.01M300.9 609.5h.01M290.7 578.9h.01M293.6 616.7h.01M289.4 595.5h.01M288.1 600.3h.01M293.8 625.6h.01M290.7 611.3h.01M289.8 589.6h.01M303.3 607.8h.01M299.4 582.0h.01M295.6 598.4h.01M293.8 586.5h.01M303.8 603.8h.01M306.7 588.6h.01M307.9 592.6h.01M320.7 605.0h.01M308.6 595.0h.01M312.2 603.5h.01M320.1 617.8h.01M307.2 586.9h.01M321.5 587.9h.01M317.4 598.1h.01" stroke="#b0b0b0" stroke-width="0.8" stroke-linecap="round" fill="none"/>
<path d="M290.1 598.7h.01M291.2 603.5h.01M318.2 568.0h.01M317.4 589.2h.01" stroke="#3d3db4" stroke-width="1.15" stroke-linecap="round" fill="none"/>
<path d="M264.4 572.5h.01M256.9 559.7h.01M258.1 591.5h.01M262.5 596.3h.01M264.1 597.6h.01M273.4 605.0h.01M280.3 581.6h.01M283.1 598.6h.01M275.4 575.2h.01M280.8 578.7h.01M279.7 594.4h.01M273.8 582.6h.01M276.9 597.8h.01M276.7 602.8h.01M293.1 617.2h.01M302.3 568.0h.01M291.8 591.9h.01M299.6 602.6h.01M289.6 595.1h.01M300.9 552.2h.01M296.1 555.7h.01M301.9 591.7h.01M294.1 596.8h.01M291.4 618.9h.01M291.0 593.5h.01M302.7 593.8h.01M298.0 603.1h.01M302.6 614.2h.01M290.8 591.3h.01M298.1 569.2h.01M293.8 570.9h.01M298.7 589.4h.01M301.0 569.9h.01M292.1 625.6h.01M289.1 568.6h.01M288.9 585.1h.01M298.3 569.3h.01M289.8 587.9h.01M290.3 586.3h.01M302.8 577.5h.01M290.9 602.0h.01M301.3 603.5h.01M292.0 588.0h.01M299.5 597.3h.01M290.0 589.5h.01M301.1 584.5h.01M301.0 572.9h.01M303.0 620.3h.01M293.2 588.9h.01M289.6 592.7h.01M288.4 570.4h.01M302.9 625.6h.01M290.4 591.7h.01M301.7 562.6h.01M304.1 577.5h.01M291.4 592.5h.01M298.5 595.3h.01M299.2 572.5h.01M314.9 592.8h.01M310.2 597.5h.01M311.5 577.6h.01M313.2 584.6h.01M307.1 555.9h.01M320.3 595.2h.01M319.6 589.0h.01M317.1 583.7h.01M309.7 584.5h.01M318.9 598.3h.01M311.5 587.0h.01M308.9 566.1h.01M322.0 583.4h.01M320.2 591.8h.01M311.9 585.5h.01M313.2 584.2h.01M312.8 564.8h.01M314.7 603.3h.01M313.7 584.6h.01" stroke="#e23a3a" stroke-width="1.15" stroke-linecap="round" fill="none"/>
<path d="M242.3 553.0V572.0M242.3 590.7V616.5" stroke="#a2a2a2" stroke-width="0.5" fill="none"/>
<rect x="235.5" y="572.0" width="13.6" height="18.7" fill="#e3557f" fill-opacity="0.9" stroke="#c0345f" stroke-width="0.55" stroke-opacity="1"/>
<path d="M235.5 583.0h13.6" stroke="#c0345f" stroke-width="0.9"/>
<path d="M260.2 569.5V584.3M260.2 599.0V602.7" stroke="#6e3b86" stroke-width="0.5" fill="none"/>
<rect x="257.7" y="584.3" width="5.0" height="14.7" fill="#86519e" fill-opacity="0.9" stroke="#6e3b86" stroke-width="0.55" stroke-opacity="1"/>
<path d="M257.7 593.0h5.0" stroke="#6e3b86" stroke-width="0.9"/>
<path d="M278.1 569.0V579.5M278.1 603.8V613.3" stroke="#d87208" stroke-width="0.5" fill="none"/>
<rect x="275.8" y="579.5" width="4.6" height="24.3" fill="#f28c1e" fill-opacity="0.9" stroke="#d87208" stroke-width="0.55" stroke-opacity="1"/>
<path d="M275.8 590.7h4.6" stroke="#d87208" stroke-width="0.9"/>
<path d="M296.1 567.9V586.5M296.1 603.8V622.8" stroke="#a2a2a2" stroke-width="0.5" fill="none"/>
<rect x="291.1" y="586.5" width="10.0" height="17.3" fill="#a8cbef" fill-opacity="0.9" stroke="#6397d2" stroke-width="0.55" stroke-opacity="1"/>
<path d="M291.1 594.3h10.0" stroke="#6397d2" stroke-width="0.9"/>
<path d="M314.0 561.5V583.0M314.0 603.4V606.0" stroke="#a2a2a2" stroke-width="0.5" fill="none"/>
<rect x="309.7" y="583.0" width="8.6" height="20.4" fill="#dcdcdc" fill-opacity="0.9" stroke="#9a9a9a" stroke-width="0.55" stroke-opacity="1"/>
<path d="M309.7 588.0h8.6" stroke="#9a9a9a" stroke-width="0.9"/>
<path d="M237.1 587.2h.01M236.2 582.4h.01M243.4 573.5h.01M247.8 587.7h.01M247.3 582.5h.01M237.4 589.1h.01M242.7 577.2h.01M237.2 576.5h.01M243.4 580.4h.01M242.7 589.6h.01M239.1 582.8h.01M237.9 572.2h.01M248.0 577.2h.01M238.1 581.3h.01M247.9 588.8h.01M245.4 580.4h.01M244.2 587.9h.01M243.3 581.7h.01M238.3 587.1h.01M242.5 576.5h.01M239.6 581.4h.01M241.1 572.6h.01M240.4 580.9h.01M240.1 578.3h.01M241.4 587.8h.01M238.2 590.3h.01M244.3 575.8h.01M248.6 575.5h.01M236.4 588.3h.01M241.5 577.5h.01M237.9 584.2h.01M240.3 579.6h.01M245.2 576.0h.01M247.2 583.6h.01M243.6 580.8h.01M241.1 578.5h.01M242.5 578.9h.01M244.6 581.6h.01M238.5 575.3h.01M242.2 581.3h.01M248.2 574.9h.01M241.0 590.6h.01M236.8 580.7h.01M247.7 587.8h.01M238.1 583.7h.01M236.2 590.1h.01M244.5 590.0h.01M243.0 577.6h.01M242.3 588.5h.01M245.6 587.4h.01M239.2 572.3h.01M247.3 577.2h.01M241.1 584.0h.01M237.2 586.0h.01M236.3 579.4h.01M242.8 572.5h.01M246.9 572.2h.01M244.4 573.6h.01M242.9 578.9h.01M238.5 576.4h.01M244.8 586.6h.01M246.1 587.1h.01M237.4 582.6h.01M245.5 588.4h.01M240.0 589.2h.01" stroke="#f0c4cf" stroke-width="0.8" stroke-linecap="round" fill="none" opacity="0.85"/>
<path d="M292.6 600.5h.01" stroke="#555566" stroke-width="1.0" stroke-linecap="round" fill="none"/>
<path d="M293.6 603.6h.01M295.2 589.4h.01M301.6 596.2h.01M296.9 587.0h.01M291.4 595.8h.01M299.9 591.3h.01M314.6 595.5h.01M318.5 599.6h.01M310.2 586.7h.01M313.7 586.1h.01M318.6 603.1h.01" stroke="#e23a3a" stroke-width="1.0" stroke-linecap="round" fill="none"/>
<path d="M242.3 534.0H314.0" stroke="#666" stroke-width="0.45"/>
<text x="280.0" y="533.0" font-size="4.1" text-anchor="middle" fill="#000" stroke="#000" stroke-width="0.12">9.00e<tspan dy="-1.2" font-size="2.8">&#8722;05</tspan></text>
<path d="M242.3 539.7H296.1" stroke="#666" stroke-width="0.45"/>
<text x="271.0" y="538.7" font-size="4.1" text-anchor="middle" fill="#000" stroke="#000" stroke-width="0.12">3.76e<tspan dy="-1.2" font-size="2.8">&#8722;06</tspan></text>
<rect x="137.7" y="632.8" width="91.5" height="103.4" fill="#fff" stroke="#8a8a8a" stroke-width="0.6"/>
<text x="139.5" y="638.8" font-size="6.0" fill="#111" stroke="#111" stroke-width="0.12">KRAS</text>
<path d="M152.2 678.8h.01M147.5 690.7h.01M152.8 708.6h.01M142.6 669.6h.01M154.2 687.0h.01M146.7 688.2h.01M143.6 662.5h.01M143.6 679.9h.01M147.2 687.4h.01M147.5 679.0h.01M147.7 705.9h.01M144.7 689.6h.01M142.4 693.2h.01M150.9 689.8h.01M147.5 676.3h.01M146.4 692.0h.01M152.4 684.5h.01M149.5 707.1h.01M143.4 684.6h.01M145.7 692.2h.01M148.6 684.9h.01M152.7 648.5h.01M150.4 699.4h.01M148.3 676.8h.01M154.4 659.8h.01M146.2 700.2h.01M152.3 673.4h.01M144.9 689.3h.01M141.8 724.5h.01M153.9 675.7h.01M152.3 690.0h.01M148.0 670.7h.01M143.0 677.0h.01M147.0 641.6h.01M153.7 678.4h.01M149.9 684.4h.01M152.4 660.2h.01M152.7 666.4h.01M151.1 684.9h.01M144.3 687.8h.01M148.4 682.0h.01M154.6 695.9h.01M153.4 679.3h.01M150.5 677.7h.01M152.0 698.1h.01M145.4 732.9h.01M146.5 677.4h.01M151.6 693.4h.01M151.2 683.2h.01M145.4 691.3h.01M152.8 684.1h.01M143.7 662.2h.01M148.4 668.3h.01M146.5 674.3h.01M144.5 684.5h.01M152.5 692.1h.01M153.5 685.4h.01M149.8 694.4h.01M149.6 686.9h.01M152.6 698.9h.01M151.2 693.4h.01M154.4 673.9h.01M142.2 672.0h.01M152.7 688.3h.01M147.3 676.3h.01M143.1 689.5h.01M150.3 686.6h.01M151.7 680.6h.01M154.2 682.3h.01M153.2 683.0h.01M144.0 707.1h.01M151.4 680.4h.01M142.8 699.3h.01M144.9 645.8h.01M145.0 666.9h.01M145.1 654.8h.01M153.5 691.6h.01M149.9 700.8h.01M145.9 655.5h.01M141.8 660.6h.01M146.5 709.5h.01M145.8 682.8h.01M148.7 689.8h.01M154.6 671.3h.01M150.8 684.5h.01M149.0 697.1h.01M144.2 666.7h.01M151.9 678.3h.01M144.3 700.9h.01M148.1 654.4h.01M144.4 692.4h.01M152.3 690.7h.01M152.2 692.0h.01M153.1 701.9h.01M147.3 720.1h.01M167.8 685.2h.01M162.2 696.2h.01M168.0 693.4h.01M170.3 691.8h.01M166.6 696.6h.01M168.7 691.4h.01M170.1 701.2h.01M163.7 690.4h.01M169.4 696.3h.01M187.6 693.5h.01M182.1 687.3h.01M186.9 695.2h.01M187.7 689.9h.01M187.4 685.4h.01M185.6 691.4h.01M182.8 698.1h.01M186.7 695.3h.01M207.4 696.3h.01M202.2 693.2h.01M206.0 697.1h.01M204.6 696.5h.01M195.1 693.1h.01M198.3 693.8h.01M194.0 683.7h.01M194.1 693.8h.01M193.4 709.2h.01M202.6 709.8h.01M209.0 686.0h.01M194.4 706.7h.01M196.2 697.1h.01M196.7 682.8h.01M195.6 693.6h.01M194.2 709.7h.01M205.6 695.5h.01M207.1 710.4h.01M201.9 696.2h.01M194.7 694.0h.01M194.0 696.7h.01M207.5 692.5h.01M200.5 704.2h.01M196.0 709.8h.01M196.9 692.4h.01M195.4 691.8h.01M205.5 696.7h.01M199.3 693.1h.01M203.6 688.3h.01M208.8 689.0h.01M193.5 690.3h.01M195.2 697.6h.01M199.3 701.7h.01M208.1 697.3h.01M196.7 720.3h.01M219.9 697.8h.01M226.2 693.0h.01M224.9 675.4h.01M221.6 697.1h.01M212.1 690.0h.01M223.5 704.4h.01M215.0 673.6h.01M215.8 677.4h.01M225.7 700.3h.01M219.1 700.0h.01M220.1 702.9h.01M218.0 707.3h.01M218.3 691.0h.01M212.9 698.4h.01M222.5 685.0h.01M221.7 692.6h.01M217.3 684.8h.01M218.7 715.2h.01M212.7 699.5h.01M211.0 708.0h.01M223.1 701.5h.01M219.3 700.5h.01" stroke="#b0b0b0" stroke-width="0.8" stroke-linecap="round" fill="none"/>
<path d="M178.6 693.3h.01M194.8 695.3h.01M204.8 703.0h.01M194.0 708.0h.01" stroke="#3d3db4" stroke-width="1.15" stroke-linecap="round" fill="none"/>
<path d="M162.2 684.6h.01M168.6 683.2h.01M162.8 692.9h.01M169.1 693.1h.01M169.8 695.5h.01M184.4 687.7h.01M179.4 692.9h.01M188.2 689.4h.01M183.6 699.8h.01M178.9 694.7h.01M195.3 708.9h.01M193.9 707.4h.01M201.1 694.9h.01M204.5 697.9h.01M202.0 694.4h.01M206.5 693.7h.01M193.4 695.0h.01M204.1 693.2h.01M207.2 680.3h.01M204.6 687.2h.01M201.1 706.4h.01M193.8 706.4h.01M199.7 696.6h.01M203.2 703.3h.01M203.6 690.3h.01M193.1 671.1h.01M197.5 693.9h.01M207.3 693.8h.01M204.4 677.6h.01M198.8 698.3h.01M195.0 701.1h.01M194.0 671.3h.01M221.2 694.7h.01M221.0 681.4h.01M214.3 695.0h.01M214.1 680.9h.01M216.0 662.5h.01M217.7 666.2h.01M219.0 673.3h.01M217.9 692.8h.01" stroke="#e23a3a" stroke-width="1.15" stroke-linecap="round" fill="none"/>
<path d="M148.3 652.0V676.2M148.3 693.7V712.6" stroke="#a2a2a2" stroke-width="0.5" fill="none"/>
<rect x="141.5" y="676.2" width="13.6" height="17.5" fill="#e3557f" fill-opacity="0.9" stroke="#c0345f" stroke-width="0.55" stroke-opacity="1"/>
<path d="M141.5 684.8h13.6" stroke="#c0345f" stroke-width="0.9"/>
<path d="M165.9 683.0V689.0M165.9 697.2V700.5" stroke="#6e3b86" stroke-width="0.5" fill="none"/>
<rect x="163.4" y="689.0" width="5.0" height="8.2" fill="#86519e" fill-opacity="0.9" stroke="#6e3b86" stroke-width="0.55" stroke-opacity="1"/>
<path d="M163.4 693.0h5.0" stroke="#6e3b86" stroke-width="0.9"/>
<path d="M183.4 681.6V685.6M183.4 695.6V703.7" stroke="#d87208" stroke-width="0.5" fill="none"/>
<rect x="181.1" y="685.6" width="4.6" height="10.0" fill="#f28c1e" fill-opacity="0.9" stroke="#d87208" stroke-width="0.55" stroke-opacity="1"/>
<path d="M181.1 689.7h4.6" stroke="#d87208" stroke-width="0.9"/>
<path d="M201.0 680.3V689.7M201.0 699.0V711.3" stroke="#a2a2a2" stroke-width="0.5" fill="none"/>
<rect x="196.0" y="689.7" width="10.0" height="9.3" fill="#a8cbef" fill-opacity="0.9" stroke="#6397d2" stroke-width="0.55" stroke-opacity="1"/>
<path d="M196.0 694.5h10.0" stroke="#6397d2" stroke-width="0.9"/>
<path d="M218.6 673.5V689.7M218.6 701.8V717.2" stroke="#a2a2a2" stroke-width="0.5" fill="none"/>
<rect x="214.3" y="689.7" width="8.6" height="12.1" fill="#dcdcdc" fill-opacity="0.9" stroke="#9a9a9a" stroke-width="0.55" stroke-opacity="1"/>
<path d="M214.3 695.5h8.6" stroke="#9a9a9a" stroke-width="0.9"/>
<path d="M147.4 687.2h.01M147.7 689.1h.01M143.9 683.5h.01M151.6 681.7h.01M142.3 693.4h.01M151.2 689.5h.01M142.0 677.8h.01M149.5 677.0h.01M149.4 689.0h.01M146.8 687.1h.01M145.8 681.7h.01M142.4 686.3h.01M142.6 691.9h.01M144.0 679.6h.01M150.3 682.4h.01M148.7 679.4h.01M154.1 677.3h.01M142.3 690.4h.01M153.7 681.1h.01M146.4 691.8h.01M145.5 687.0h.01M143.0 690.8h.01M147.5 683.8h.01M147.4 681.9h.01M147.9 692.4h.01M151.6 681.2h.01M145.2 692.4h.01M151.2 692.9h.01M151.1 691.7h.01M145.2 686.6h.01M142.8 688.6h.01M151.2 681.4h.01M145.2 676.4h.01M146.2 686.0h.01M143.0 693.1h.01M150.8 679.6h.01M149.4 685.4h.01M144.0 685.5h.01M147.1 677.9h.01M147.6 684.1h.01M153.5 691.3h.01M154.3 687.3h.01M147.7 686.5h.01M141.9 680.3h.01M153.6 677.5h.01M142.1 679.3h.01M152.1 686.2h.01M153.6 691.9h.01M148.7 684.7h.01M143.7 690.3h.01M150.9 676.6h.01M150.5 677.8h.01M146.1 682.0h.01M149.2 677.6h.01M143.9 682.4h.01M149.4 688.4h.01M145.2 676.2h.01M148.9 678.0h.01M147.7 686.3h.01M152.6 689.9h.01M144.2 679.9h.01M153.2 688.9h.01" stroke="#f0c4cf" stroke-width="0.8" stroke-linecap="round" fill="none" opacity="0.85"/>
<path d="M201.5 691.6h.01M203.6 692.2h.01M215.5 696.7h.01M221.9 697.2h.01" stroke="#555566" stroke-width="1.0" stroke-linecap="round" fill="none"/>
<path d="M198.3 694.8h.01M201.6 697.8h.01" stroke="#3d3db4" stroke-width="1.0" stroke-linecap="round" fill="none"/>
<path d="M206.1 698.1h.01M204.3 690.7h.01M199.7 689.9h.01M215.4 695.5h.01M214.8 699.5h.01M218.8 699.4h.01" stroke="#e23a3a" stroke-width="1.0" stroke-linecap="round" fill="none"/>
<path d="M148.3 643.9H218.6" stroke="#666" stroke-width="0.45"/>
<text x="183.0" y="642.9" font-size="4.1" text-anchor="middle" fill="#000" stroke="#000" stroke-width="0.12">4.26e<tspan dy="-1.2" font-size="2.8">&#8722;05</tspan></text>
<path d="M148.3 650.0H201.0" stroke="#666" stroke-width="0.45"/>
<text x="174.0" y="649.0" font-size="4.1" text-anchor="middle" fill="#000" stroke="#000" stroke-width="0.12">6.15e<tspan dy="-1.2" font-size="2.8">&#8722;06</tspan></text>
<path d="M136.4 649.8h1.3" stroke="#555" stroke-width="0.4"/>
<text x="135.1" y="651.7" font-size="5.3" text-anchor="end" fill="#333" stroke="#333" stroke-width="0.12">4</text>
<path d="M136.4 670.8h1.3" stroke="#555" stroke-width="0.4"/>
<text x="135.1" y="672.7" font-size="5.3" text-anchor="end" fill="#333" stroke="#333" stroke-width="0.12">2</text>
<path d="M136.4 691.6h1.3" stroke="#555" stroke-width="0.4"/>
<text x="135.1" y="693.5" font-size="5.3" text-anchor="end" fill="#333" stroke="#333" stroke-width="0.12">0</text>
<path d="M136.4 712.0h1.3" stroke="#555" stroke-width="0.4"/>
<text x="135.1" y="713.9" font-size="5.3" text-anchor="end" fill="#333" stroke="#333" stroke-width="0.12">&#8722;2</text>
<path d="M136.4 732.8h1.3" stroke="#555" stroke-width="0.4"/>
<text x="135.1" y="734.7" font-size="5.3" text-anchor="end" fill="#333" stroke="#333" stroke-width="0.12">&#8722;4</text>
<text x="125.4" y="687.7" font-size="5.6" text-anchor="middle" fill="#222" stroke="#222" stroke-width="0.12" transform="rotate(-90 125.4 687.7)">Protein abundance (log<tspan dy="1.2" font-size="3.8">2</tspan><tspan dy="-1.2"> ratio)</tspan></text>
<rect x="363.4" y="413.9" width="88.0" height="104.6" fill="#fff" stroke="#8a8a8a" stroke-width="0.6"/>
<text x="365.2" y="419.9" font-size="6.0" fill="#111" stroke="#111" stroke-width="0.12">FAT1</text>
<path d="M376.4 489.4h.01M375.3 491.2h.01M375.5 491.3h.01M369.4 494.8h.01M376.3 492.3h.01M368.6 499.3h.01M371.8 490.1h.01M369.5 498.1h.01M368.2 491.8h.01M367.8 483.3h.01M373.3 490.6h.01M373.3 492.7h.01M370.8 492.0h.01M371.5 488.4h.01M374.0 499.0h.01M376.6 492.3h.01M367.9 496.0h.01M369.5 503.3h.01M370.0 494.2h.01M373.1 495.5h.01M377.3 494.3h.01M373.3 491.0h.01M372.7 474.6h.01M374.8 502.0h.01M375.4 505.8h.01M375.5 493.9h.01M377.7 492.2h.01M370.8 483.4h.01M373.4 498.1h.01M377.0 490.2h.01M375.9 495.2h.01M368.2 497.8h.01M378.6 500.6h.01M378.9 490.4h.01M372.6 487.0h.01M369.7 490.5h.01M377.4 489.6h.01M377.3 488.4h.01M367.9 490.0h.01M374.9 491.6h.01M371.9 497.4h.01M372.2 492.7h.01M373.3 498.7h.01M379.0 493.2h.01M369.3 490.9h.01M369.2 488.4h.01M369.6 485.7h.01M370.4 482.4h.01M373.7 493.4h.01M379.5 491.3h.01M379.6 489.4h.01M375.2 488.3h.01M373.2 492.5h.01M369.8 494.4h.01M368.2 488.5h.01M375.9 492.1h.01M378.7 496.3h.01M370.3 493.6h.01M372.5 481.5h.01M375.2 489.8h.01M367.1 489.3h.01M367.5 495.8h.01M374.0 491.0h.01M375.5 499.8h.01M377.5 490.3h.01M375.7 490.3h.01M368.1 492.6h.01M374.4 492.4h.01M371.5 491.9h.01M375.6 488.4h.01M377.3 490.5h.01M369.0 488.9h.01M371.9 493.7h.01M372.0 493.6h.01M369.6 488.7h.01M370.5 492.2h.01M375.7 493.0h.01M372.1 493.8h.01M378.7 490.7h.01M375.4 495.1h.01M367.4 492.2h.01M375.7 492.0h.01M371.5 490.4h.01M371.6 489.2h.01M378.8 494.0h.01M371.5 489.4h.01M373.8 490.3h.01M374.6 488.6h.01M376.2 488.3h.01M376.4 481.4h.01M369.2 483.5h.01M368.8 483.9h.01M374.9 495.9h.01M379.9 488.6h.01M368.3 488.7h.01M390.2 498.6h.01M393.1 496.6h.01M388.5 495.7h.01M394.9 504.2h.01M386.3 498.3h.01M393.2 497.1h.01M390.0 496.5h.01M388.5 497.9h.01M391.2 496.8h.01M392.3 495.1h.01M393.7 502.2h.01M386.5 504.3h.01M406.9 471.4h.01M410.9 468.0h.01M409.8 474.8h.01M403.0 449.8h.01M403.2 482.2h.01M423.3 480.5h.01M426.7 486.6h.01M424.4 483.0h.01M420.9 476.1h.01M422.4 495.2h.01M416.5 474.5h.01M418.0 487.0h.01M424.4 489.3h.01M426.7 510.5h.01M427.8 492.9h.01M421.2 487.9h.01M430.7 488.2h.01M426.1 496.9h.01M425.5 488.5h.01M416.4 476.1h.01M420.2 498.4h.01M420.0 488.6h.01M424.4 494.2h.01M424.6 477.6h.01M419.0 475.6h.01M425.6 488.2h.01M419.3 494.1h.01M417.3 487.7h.01M417.5 486.3h.01M420.7 491.3h.01M424.8 480.8h.01M418.3 485.9h.01M417.4 488.5h.01M431.4 489.5h.01M420.7 506.0h.01M430.9 480.9h.01M442.4 466.7h.01M439.1 485.7h.01M439.8 463.4h.01M436.8 491.2h.01M439.8 487.8h.01M447.3 479.5h.01M443.4 487.6h.01M437.9 489.3h.01M435.0 478.4h.01M438.1 482.3h.01M440.6 480.9h.01M442.3 483.3h.01M442.6 485.5h.01M436.5 474.6h.01M449.2 480.0h.01" stroke="#b0b0b0" stroke-width="0.8" stroke-linecap="round" fill="none"/>
<path d="M386.3 503.4h.01M403.9 488.4h.01M411.3 451.4h.01M412.0 489.3h.01M408.6 458.6h.01M411.2 471.0h.01M411.5 486.7h.01M407.0 465.4h.01M408.2 471.0h.01M425.9 510.9h.01M429.4 484.1h.01M426.5 506.4h.01M425.4 516.5h.01M424.7 488.8h.01M428.3 490.4h.01M429.4 474.0h.01M426.5 487.6h.01M431.1 501.6h.01M423.5 487.4h.01M427.9 493.4h.01M426.7 493.0h.01M425.2 489.9h.01M428.2 489.6h.01M425.1 494.7h.01M423.4 492.5h.01M417.3 509.1h.01M429.8 509.8h.01M428.9 484.9h.01M417.9 495.4h.01M418.0 497.8h.01M426.5 501.4h.01M419.7 503.0h.01M419.6 496.1h.01M448.8 463.5h.01M442.8 490.6h.01M434.8 484.7h.01M448.7 483.8h.01M437.2 491.6h.01M439.6 491.5h.01M436.7 483.5h.01M448.7 481.0h.01M440.2 490.8h.01M441.6 490.4h.01M443.6 490.4h.01M438.6 489.8h.01M440.4 487.4h.01" stroke="#3d3db4" stroke-width="1.15" stroke-linecap="round" fill="none"/>
<path d="M387.8 497.6h.01M408.0 476.9h.01M419.9 499.3h.01M416.9 491.4h.01M429.2 495.5h.01M429.3 487.0h.01M420.2 497.0h.01M439.4 489.9h.01M444.0 452.6h.01" stroke="#e23a3a" stroke-width="1.15" stroke-linecap="round" fill="none"/>
<path d="M373.6 480.0V488.0M373.6 494.5V501.0" stroke="#a2a2a2" stroke-width="0.5" fill="none"/>
<rect x="366.8" y="488.0" width="13.6" height="6.5" fill="#e3557f" fill-opacity="0.9" stroke="#c0345f" stroke-width="0.55" stroke-opacity="1"/>
<path d="M366.8 491.0h13.6" stroke="#c0345f" stroke-width="0.9"/>
<path d="M390.5 493.0V494.5M390.5 500.0V507.5" stroke="#6e3b86" stroke-width="0.5" fill="none"/>
<rect x="388.0" y="494.5" width="5.0" height="5.5" fill="#86519e" fill-opacity="0.9" stroke="#6e3b86" stroke-width="0.55" stroke-opacity="1"/>
<path d="M388.0 497.0h5.0" stroke="#6e3b86" stroke-width="0.9"/>
<path d="M407.4 460.0V464.5M407.4 483.0V498.7" stroke="#d87208" stroke-width="0.5" fill="none"/>
<rect x="405.1" y="464.5" width="4.6" height="18.5" fill="#f28c1e" fill-opacity="0.9" stroke="#d87208" stroke-width="0.55" stroke-opacity="1"/>
<path d="M405.1 479.5h4.6" stroke="#d87208" stroke-width="0.9"/>
<path d="M424.3 473.0V485.5M424.3 499.5V513.7" stroke="#a2a2a2" stroke-width="0.5" fill="none"/>
<rect x="419.3" y="485.5" width="10.0" height="14.0" fill="#a8cbef" fill-opacity="0.9" stroke="#6397d2" stroke-width="0.55" stroke-opacity="1"/>
<path d="M419.3 492.5h10.0" stroke="#6397d2" stroke-width="0.9"/>
<path d="M441.2 462.5V479.5M441.2 492.5V506.2" stroke="#a2a2a2" stroke-width="0.5" fill="none"/>
<rect x="436.9" y="479.5" width="8.6" height="13.0" fill="#dcdcdc" fill-opacity="0.9" stroke="#9a9a9a" stroke-width="0.55" stroke-opacity="1"/>
<path d="M436.9 490.0h8.6" stroke="#9a9a9a" stroke-width="0.9"/>
<path d="M369.0 489.2h.01M372.7 492.8h.01M379.1 493.6h.01M373.0 489.9h.01M374.8 490.2h.01M376.3 491.7h.01M371.5 490.0h.01M376.5 488.4h.01M373.5 489.4h.01M377.6 489.2h.01M374.2 491.3h.01M379.6 491.4h.01M374.3 494.4h.01M370.8 489.5h.01M371.9 489.4h.01M376.4 493.1h.01M376.1 494.4h.01M379.6 493.4h.01M367.2 492.0h.01M375.1 491.2h.01M378.1 488.7h.01M369.5 494.2h.01M370.8 489.3h.01M367.5 490.8h.01M376.8 489.5h.01M379.2 493.1h.01" stroke="#f0c4cf" stroke-width="0.8" stroke-linecap="round" fill="none" opacity="0.85"/>
<path d="M429.0 492.3h.01M420.2 494.9h.01M423.3 486.3h.01M445.3 489.4h.01" stroke="#555566" stroke-width="1.0" stroke-linecap="round" fill="none"/>
<path d="M420.9 497.3h.01M423.8 488.9h.01M437.1 483.1h.01" stroke="#3d3db4" stroke-width="1.0" stroke-linecap="round" fill="none"/>
<path d="M419.1 492.5h.01M421.6 491.8h.01M444.3 488.5h.01M445.6 484.2h.01M438.8 480.7h.01" stroke="#e23a3a" stroke-width="1.0" stroke-linecap="round" fill="none"/>
<path d="M373.6 460.3H390.5" stroke="#666" stroke-width="0.45"/>
<text x="382.3" y="459.3" font-size="4.1" text-anchor="middle" fill="#000" stroke="#000" stroke-width="0.12">0.0005</text>
<path d="M373.6 454.4H407.4" stroke="#666" stroke-width="0.45"/>
<text x="390.7" y="453.4" font-size="4.1" text-anchor="middle" fill="#000" stroke="#000" stroke-width="0.12">0.0004</text>
<path d="M373.6 446.6H441.2" stroke="#666" stroke-width="0.45"/>
<text x="409.0" y="445.6" font-size="4.1" text-anchor="middle" fill="#000" stroke="#000" stroke-width="0.12">0.049</text>
<path d="M390.5 440.5H407.4" stroke="#666" stroke-width="0.45"/>
<text x="399.3" y="439.5" font-size="4.1" text-anchor="middle" fill="#000" stroke="#000" stroke-width="0.12">0.0006</text>
<path d="M390.5 435.0H441.2" stroke="#666" stroke-width="0.45"/>
<text x="415.8" y="434.0" font-size="4.1" text-anchor="middle" fill="#000" stroke="#000" stroke-width="0.12">0.0005</text>
<path d="M407.4 429.6H424.3" stroke="#666" stroke-width="0.45"/>
<text x="417.6" y="428.6" font-size="4.1" text-anchor="middle" fill="#000" stroke="#000" stroke-width="0.12">0.001</text>
<path d="M407.4 424.3H441.2" stroke="#666" stroke-width="0.45"/>
<text x="425.8" y="423.3" font-size="4.1" text-anchor="middle" fill="#000" stroke="#000" stroke-width="0.12">0.03</text>
<path d="M424.3 418.2H441.2" stroke="#666" stroke-width="0.45"/>
<text x="434.6" y="417.2" font-size="4.1" text-anchor="middle" fill="#000" stroke="#000" stroke-width="0.12">0.015</text>
<path d="M362.1 419.2h1.3" stroke="#555" stroke-width="0.4"/>
<text x="360.8" y="421.1" font-size="5.3" text-anchor="end" fill="#333" stroke="#333" stroke-width="0.12">7.5</text>
<path d="M362.1 443.2h1.3" stroke="#555" stroke-width="0.4"/>
<text x="360.8" y="445.1" font-size="5.3" text-anchor="end" fill="#333" stroke="#333" stroke-width="0.12">5.0</text>
<path d="M362.1 467.0h1.3" stroke="#555" stroke-width="0.4"/>
<text x="360.8" y="468.9" font-size="5.3" text-anchor="end" fill="#333" stroke="#333" stroke-width="0.12">2.5</text>
<path d="M362.1 490.7h1.3" stroke="#555" stroke-width="0.4"/>
<text x="360.8" y="492.6" font-size="5.3" text-anchor="end" fill="#333" stroke="#333" stroke-width="0.12">0.0</text>
<path d="M362.1 514.5h1.3" stroke="#555" stroke-width="0.4"/>
<text x="360.8" y="516.4" font-size="5.3" text-anchor="end" fill="#333" stroke="#333" stroke-width="0.12">&#8722;2.5</text>
<text x="347.7" y="463.5" font-size="5.6" text-anchor="middle" fill="#222" stroke="#222" stroke-width="0.12" transform="rotate(-90 347.7 463.5)">Protein abundance (log<tspan dy="1.2" font-size="3.8">2</tspan><tspan dy="-1.2"> ratio)</tspan></text>
<rect x="361.9" y="523.5" width="91.5" height="103.7" fill="#fff" stroke="#8a8a8a" stroke-width="0.6"/>
<text x="363.7" y="529.5" font-size="6.0" fill="#111" stroke="#111" stroke-width="0.12">PDE4D</text>
<path d="M373.8 608.5h.01M367.2 603.4h.01M370.9 603.0h.01M367.4 603.8h.01M375.1 604.5h.01M378.0 604.8h.01M369.5 603.9h.01M374.6 603.1h.01M369.2 601.3h.01M373.7 601.9h.01M367.9 600.8h.01M372.6 597.4h.01M371.6 598.7h.01M372.5 601.2h.01M376.1 608.5h.01M376.8 604.5h.01M373.8 604.6h.01M367.6 607.3h.01M366.1 605.1h.01M376.7 601.6h.01M366.0 603.9h.01M372.3 602.5h.01M369.6 603.7h.01M370.5 603.3h.01M377.3 603.5h.01M371.4 610.1h.01M369.7 605.3h.01M375.7 601.3h.01M368.4 604.2h.01M366.6 604.7h.01M376.1 605.0h.01M366.6 608.4h.01M368.5 604.2h.01M372.4 602.2h.01M366.9 603.7h.01M378.0 607.0h.01M376.1 602.9h.01M366.7 602.8h.01M367.2 604.2h.01M373.0 602.9h.01M367.7 599.6h.01M372.7 609.0h.01M371.1 603.2h.01M376.6 606.2h.01M371.3 606.2h.01M378.6 604.4h.01M371.6 602.1h.01M368.1 602.6h.01M366.0 604.2h.01M368.1 602.4h.01M367.8 597.5h.01M369.2 603.9h.01M368.8 606.0h.01M371.0 603.1h.01M378.7 604.5h.01M372.4 599.8h.01M370.0 606.3h.01M378.2 600.2h.01M369.3 609.3h.01M370.6 599.1h.01M371.5 602.1h.01M366.3 607.5h.01M378.8 607.4h.01M373.3 604.5h.01M366.0 602.2h.01M369.0 604.7h.01M375.9 602.8h.01M376.8 604.3h.01M371.4 603.6h.01M366.1 609.6h.01M375.4 603.6h.01M374.2 602.6h.01M374.0 604.8h.01M366.6 604.8h.01M369.4 605.2h.01M374.6 604.1h.01M369.2 603.4h.01M375.2 604.3h.01M368.9 605.0h.01M371.5 604.2h.01M373.8 605.4h.01M369.4 601.1h.01M375.9 600.6h.01M370.3 603.8h.01M366.2 603.5h.01M367.0 601.4h.01M375.6 600.4h.01M375.1 600.1h.01M366.3 600.7h.01M377.4 603.1h.01M371.8 603.3h.01M370.3 602.2h.01M373.5 605.1h.01M375.3 604.8h.01M378.0 603.6h.01M390.8 615.3h.01M389.4 611.6h.01M390.8 612.0h.01M387.8 612.5h.01M393.0 615.5h.01M394.0 618.9h.01M386.3 616.0h.01M390.2 614.6h.01M385.5 616.3h.01M385.8 615.7h.01M387.1 614.1h.01M385.9 618.0h.01M408.6 573.9h.01M408.4 593.4h.01M411.4 594.6h.01M405.5 603.3h.01M408.7 589.6h.01M406.5 582.1h.01M404.2 577.3h.01M408.4 596.3h.01M404.4 583.2h.01M412.6 584.9h.01M424.3 601.4h.01M429.5 591.7h.01M430.1 577.3h.01M430.7 608.4h.01M427.4 611.4h.01M424.2 604.9h.01M429.5 582.1h.01M424.9 607.2h.01M427.9 587.7h.01M430.4 608.6h.01M425.5 603.1h.01M426.5 601.6h.01M430.0 614.7h.01M431.7 604.5h.01M427.3 604.1h.01M423.8 591.2h.01M422.3 606.4h.01M425.7 588.5h.01M427.6 605.0h.01M425.2 594.8h.01M430.8 589.1h.01M425.5 602.8h.01M430.5 619.7h.01M420.2 602.9h.01M422.8 613.9h.01M421.6 594.1h.01M427.9 607.8h.01M422.2 606.0h.01M439.9 604.2h.01M440.4 608.5h.01M436.0 614.5h.01M441.1 604.7h.01M437.9 596.8h.01M444.3 587.4h.01M444.8 602.5h.01M442.3 605.1h.01M436.5 607.0h.01M443.0 609.9h.01M434.9 605.9h.01M435.2 606.8h.01M436.5 609.8h.01M438.1 608.2h.01M435.4 619.4h.01M448.3 608.1h.01" stroke="#b0b0b0" stroke-width="0.8" stroke-linecap="round" fill="none"/>
<path d="M390.1 614.2h.01M394.0 615.2h.01M408.4 593.1h.01M411.3 599.2h.01M412.6 598.8h.01M406.9 583.1h.01M420.7 600.4h.01M418.3 605.4h.01M426.4 596.6h.01M422.0 586.2h.01M428.8 608.1h.01M424.0 591.9h.01M424.5 606.3h.01M419.9 618.4h.01M426.0 606.7h.01M427.9 607.1h.01M423.0 613.4h.01M420.9 601.5h.01M427.5 606.1h.01M428.2 606.7h.01M423.1 609.7h.01M423.9 593.2h.01M418.8 589.2h.01M430.8 608.5h.01M417.6 607.0h.01M421.5 596.0h.01M430.5 605.0h.01M425.8 607.3h.01M422.0 606.5h.01M428.1 601.7h.01M423.0 608.9h.01M420.4 616.5h.01M425.8 590.2h.01M430.4 603.6h.01M439.5 603.9h.01M443.8 605.0h.01M441.3 608.6h.01M445.2 616.6h.01M445.1 602.7h.01M436.1 614.5h.01M445.7 608.5h.01M441.0 609.9h.01M443.6 607.5h.01M443.8 605.7h.01" stroke="#3d3db4" stroke-width="1.15" stroke-linecap="round" fill="none"/>
<path d="M432.3 607.2h.01M430.4 593.2h.01M431.8 594.4h.01M428.3 595.5h.01M435.7 607.0h.01M439.4 605.1h.01M436.4 582.5h.01M439.2 609.2h.01" stroke="#e23a3a" stroke-width="1.15" stroke-linecap="round" fill="none"/>
<path d="M372.5 600.0V602.3M372.5 605.1V607.5" stroke="#a2a2a2" stroke-width="0.5" fill="none"/>
<rect x="365.7" y="602.3" width="13.6" height="2.8" fill="#e3557f" fill-opacity="0.5" stroke="#c0345f" stroke-width="0.55" stroke-opacity="0.5"/>
<path d="M365.7 603.7h13.6" stroke="#c0345f" stroke-width="0.9"/>
<path d="M390.1 611.5V613.0M390.1 618.0V620.0" stroke="#6e3b86" stroke-width="0.5" fill="none"/>
<rect x="387.6" y="613.0" width="5.0" height="5.0" fill="#86519e" fill-opacity="0.9" stroke="#6e3b86" stroke-width="0.55" stroke-opacity="1"/>
<path d="M387.6 615.5h5.0" stroke="#6e3b86" stroke-width="0.9"/>
<path d="M407.6 581.0V588.7M407.6 600.0V607.0" stroke="#d87208" stroke-width="0.5" fill="none"/>
<rect x="405.3" y="588.7" width="4.6" height="11.3" fill="#f28c1e" fill-opacity="0.9" stroke="#d87208" stroke-width="0.55" stroke-opacity="1"/>
<path d="M405.3 593.7h4.6" stroke="#d87208" stroke-width="0.9"/>
<path d="M425.2 586.0V600.0M425.2 609.5V615.0" stroke="#a2a2a2" stroke-width="0.5" fill="none"/>
<rect x="420.2" y="600.0" width="10.0" height="9.5" fill="#a8cbef" fill-opacity="0.9" stroke="#6397d2" stroke-width="0.55" stroke-opacity="1"/>
<path d="M420.2 606.0h10.0" stroke="#6397d2" stroke-width="0.9"/>
<path d="M442.8 590.0V602.5M442.8 610.0V617.5" stroke="#a2a2a2" stroke-width="0.5" fill="none"/>
<rect x="438.5" y="602.5" width="8.6" height="7.5" fill="#dcdcdc" fill-opacity="0.9" stroke="#9a9a9a" stroke-width="0.55" stroke-opacity="1"/>
<path d="M438.5 607.0h8.6" stroke="#9a9a9a" stroke-width="0.9"/>
<path d="M376.6 603.4h.01M376.6 604.1h.01M375.5 603.1h.01M366.6 603.8h.01M372.6 604.8h.01M375.1 604.3h.01M375.3 604.5h.01M376.0 603.2h.01M378.6 602.4h.01M372.2 605.0h.01M376.7 603.8h.01M368.3 603.0h.01M371.1 604.0h.01M374.7 602.7h.01" stroke="#f0c4cf" stroke-width="0.8" stroke-linecap="round" fill="none" opacity="0.85"/>
<path d="M424.3 602.7h.01M427.8 601.0h.01M420.2 608.0h.01" stroke="#555566" stroke-width="1.0" stroke-linecap="round" fill="none"/>
<path d="M429.9 602.2h.01M422.6 605.3h.01M427.4 609.1h.01M446.9 605.0h.01M439.6 609.3h.01" stroke="#3d3db4" stroke-width="1.0" stroke-linecap="round" fill="none"/>
<path d="M424.6 605.1h.01M444.8 609.7h.01M440.6 604.6h.01M442.8 605.7h.01" stroke="#e23a3a" stroke-width="1.0" stroke-linecap="round" fill="none"/>
<path d="M372.5 564.6H390.1" stroke="#666" stroke-width="0.45"/>
<text x="382.0" y="563.6" font-size="4.1" text-anchor="middle" fill="#000" stroke="#000" stroke-width="0.12">5.29e<tspan dy="-1.2" font-size="2.8">&#8722;08</tspan></text>
<path d="M372.5 560.0H407.6" stroke="#666" stroke-width="0.45"/>
<text x="390.0" y="559.0" font-size="4.1" text-anchor="middle" fill="#000" stroke="#000" stroke-width="0.12">0.0007</text>
<path d="M372.5 555.5H425.2" stroke="#666" stroke-width="0.45"/>
<text x="401.0" y="554.5" font-size="4.1" text-anchor="middle" fill="#000" stroke="#000" stroke-width="0.12">0.002</text>
<path d="M372.5 551.3H442.8" stroke="#666" stroke-width="0.45"/>
<text x="408.4" y="550.3" font-size="4.1" text-anchor="middle" fill="#000" stroke="#000" stroke-width="0.12">0.0002</text>
<path d="M390.1 546.3H407.6" stroke="#666" stroke-width="0.45"/>
<text x="399.3" y="545.3" font-size="4.1" text-anchor="middle" fill="#000" stroke="#000" stroke-width="0.12">5.65e<tspan dy="-1.2" font-size="2.8">&#8722;06</tspan></text>
<path d="M390.1 541.4H425.2" stroke="#666" stroke-width="0.45"/>
<text x="407.9" y="540.4" font-size="4.1" text-anchor="middle" fill="#000" stroke="#000" stroke-width="0.12">0.0004</text>
<path d="M390.1 536.8H442.8" stroke="#666" stroke-width="0.45"/>
<text x="418.1" y="535.8" font-size="4.1" text-anchor="middle" fill="#000" stroke="#000" stroke-width="0.12">0.003</text>
<path d="M407.6 532.3H425.2" stroke="#666" stroke-width="0.45"/>
<text x="418.1" y="531.3" font-size="4.1" text-anchor="middle" fill="#000" stroke="#000" stroke-width="0.12">0.003</text>
<path d="M407.6 527.1H442.8" stroke="#666" stroke-width="0.45"/>
<text x="424.9" y="526.1" font-size="4.1" text-anchor="middle" fill="#000" stroke="#000" stroke-width="0.12">8.3e<tspan dy="-1.2" font-size="2.8">&#8722;05</tspan></text>
<path d="M360.6 532.5h1.3" stroke="#555" stroke-width="0.4"/>
<text x="359.3" y="534.4" font-size="5.3" text-anchor="end" fill="#333" stroke="#333" stroke-width="0.12">15</text>
<path d="M360.6 556.2h1.3" stroke="#555" stroke-width="0.4"/>
<text x="359.3" y="558.1" font-size="5.3" text-anchor="end" fill="#333" stroke="#333" stroke-width="0.12">10</text>
<path d="M360.6 580.0h1.3" stroke="#555" stroke-width="0.4"/>
<text x="359.3" y="581.9" font-size="5.3" text-anchor="end" fill="#333" stroke="#333" stroke-width="0.12">5</text>
<path d="M360.6 603.5h1.3" stroke="#555" stroke-width="0.4"/>
<text x="359.3" y="605.4" font-size="5.3" text-anchor="end" fill="#333" stroke="#333" stroke-width="0.12">0</text>
<text x="348.9" y="571.0" font-size="6.4" text-anchor="middle" fill="#222" stroke="#222" stroke-width="0.12" transform="rotate(-90 348.9 571.0)">Protein abundance (log<tspan dy="1.2" font-size="4.3">2</tspan><tspan dy="-1.2"> ratio)</tspan></text>
<text x="177.7" y="744.7" font-size="7.5" text-anchor="middle" font-weight="bold" fill="#222">Gain</text>
<text x="398.4" y="640.2" font-size="7.4" text-anchor="middle" font-weight="bold" fill="#222">Loss</text>
<text x="247.5" y="651.2" font-size="7" fill="#222" stroke="#222" stroke-width="0.12">Subtype</text>
<rect x="249.4" y="656.8" width="5" height="3.6" rx="0.9" fill="#bcbcbc"/>
<rect x="250.3" y="657.7" width="3.2" height="1.8" fill="#e3557f"/>
<text x="258.3" y="660.6" font-size="5.4" fill="#222" stroke="#222" stroke-width="0.12">NAT</text>
<rect x="249.4" y="662.8" width="5" height="3.6" rx="0.9" fill="#bcbcbc"/>
<rect x="250.3" y="663.7" width="3.2" height="1.8" fill="#86519e"/>
<text x="258.3" y="666.6" font-size="5.4" fill="#222" stroke="#222" stroke-width="0.12">S3</text>
<rect x="249.4" y="668.8" width="5" height="3.6" rx="0.9" fill="#bcbcbc"/>
<rect x="250.3" y="669.7" width="3.2" height="1.8" fill="#f28c1e"/>
<text x="258.3" y="672.6" font-size="5.4" fill="#222" stroke="#222" stroke-width="0.12">S4</text>
<rect x="249.4" y="674.8" width="5" height="3.6" rx="0.9" fill="#bcbcbc"/>
<rect x="250.3" y="675.7" width="3.2" height="1.8" fill="#a8cbef" fill-opacity="0.6"/>
<text x="258.3" y="678.6" font-size="5.4" fill="#222" stroke="#222" stroke-width="0.12">S5</text>
<rect x="249.4" y="680.8" width="5" height="3.6" rx="0.9" fill="#bcbcbc"/>
<rect x="250.3" y="681.7" width="3.2" height="1.8" fill="#dcdcdc" fill-opacity="0.6"/>
<text x="258.3" y="684.6" font-size="5.4" fill="#222" stroke="#222" stroke-width="0.12">Unassigned</text>
<text x="302.2" y="654.0" font-size="7" fill="#222" stroke="#222" stroke-width="0.12">CNA status</text>
<circle cx="305.6" cy="660.8" r="0.55" fill="#e23a3a"/>
<text x="312.2" y="662.7" font-size="5.4" fill="#222" stroke="#222" stroke-width="0.12">AMP</text>
<circle cx="305.6" cy="667.1" r="0.55" fill="#3d3db4"/>
<text x="312.2" y="669.0" font-size="5.4" fill="#222" stroke="#222" stroke-width="0.12">DEL</text>
<circle cx="305.6" cy="673.5" r="0.55" fill="#b0b0b0"/>
<text x="312.2" y="675.4" font-size="5.4" fill="#222" stroke="#222" stroke-width="0.12">NONE</text>
</svg>
</body></html>
